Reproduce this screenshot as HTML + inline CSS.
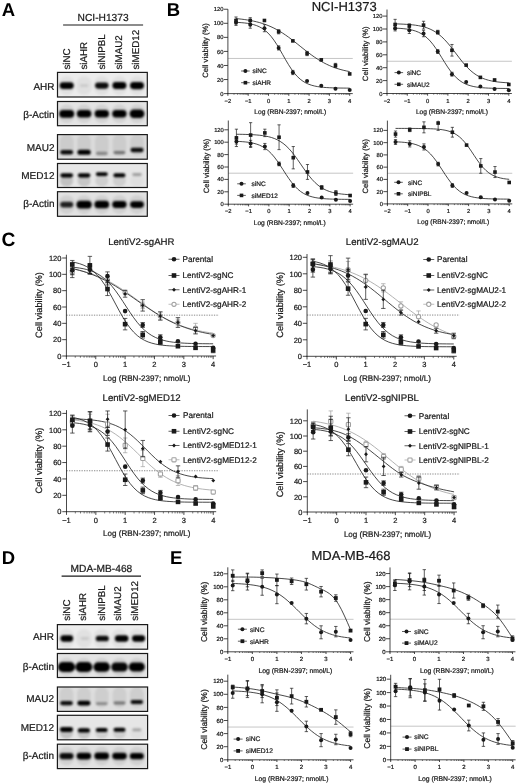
<!DOCTYPE html>
<html lang="en"><head><meta charset="utf-8"><title>Figure</title>
<style>
html,body{margin:0;padding:0;background:#fff;}
body{width:520px;height:784px;overflow:hidden;font-family:"Liberation Sans", sans-serif;}
svg{display:block;filter:blur(0.35px);font-family:"Liberation Sans", sans-serif;text-rendering:geometricPrecision;}
.t{stroke-width:.22px}
.b{stroke:none;font-weight:bold;fill:#000}
.m{stroke:none}
.c{fill:none}
.o{fill:#fff;stroke-width:1.05px}
</style></head><body>
<svg width="520" height="784" viewBox="0 0 520 784">
<defs>
<filter id="b1" x="-20%" y="-50%" width="140%" height="200%"><feGaussianBlur stdDeviation="1.3"/></filter>
<filter id="b2" x="-20%" y="-50%" width="140%" height="200%"><feGaussianBlur stdDeviation="1.0"/></filter>
</defs>
<rect width="520" height="784" fill="#fff"/>
<g fill="#1a1a1a" stroke="#1a1a1a" stroke-width="0.8">
<text class="b" x="1.7" y="16" font-size="18.5">A</text>
<text class="b" x="166.7" y="16" font-size="18.5">B</text>
<text class="b" x="1.5" y="246.3" font-size="19.2">C</text>
<text class="b" x="1.7" y="563.6" font-size="18.5">D</text>
<text class="b" x="170" y="563.6" font-size="18.5">E</text>
<text class="t" x="344.2" y="11.2" font-size="13" text-anchor="middle">NCI-H1373</text>
<text class="t" x="351" y="560" font-size="13.05" text-anchor="middle">MDA-MB-468</text>
<g>
<line x1="227.9" y1="58.45" x2="352.75" y2="58.45" stroke="#8a8a8a" stroke-width="0.5"/>
<path class="c" d="M236.02 22.32L238.93 22.48L241.85 22.69L244.76 22.98L247.68 23.37L250.59 23.9L253.51 24.6L256.42 25.54L259.34 26.78L262.25 28.4L265.17 30.48L268.08 33.1L271 36.31L273.91 40.15L276.83 44.56L279.74 49.42L282.66 54.54L285.57 59.69L288.49 64.62L291.4 69.13L294.32 73.08L297.23 76.41L300.15 79.14L303.06 81.31L305.98 83.01L308.89 84.32L311.81 85.31L314.72 86.06L317.64 86.61L320.55 87.03L323.47 87.33L326.38 87.56L329.3 87.72L332.21 87.84L335.13 87.93L338.04 88L340.96 88.05L343.87 88.08L346.79 88.11L349.7 88.13"/>
<path class="c" d="M236.02 18.59L238.93 18.87L241.85 19.2L244.76 19.58L247.68 20.02L250.59 20.52L253.51 21.1L256.42 21.77L259.34 22.53L262.25 23.4L265.17 24.38L268.08 25.49L271 26.74L273.91 28.12L276.83 29.64L279.74 31.31L282.66 33.12L285.57 35.06L288.49 37.13L291.4 39.3L294.32 41.55L297.23 43.85L300.15 46.19L303.06 48.52L305.98 50.82L308.89 53.06L311.81 55.21L314.72 57.26L317.64 59.19L320.55 60.98L323.47 62.63L326.38 64.13L329.3 65.49L332.21 66.72L335.13 67.81L338.04 68.77L340.96 69.63L343.87 70.38L346.79 71.03L349.7 71.6"/>
<line x1="236.02" y1="25.41" x2="236.02" y2="19.78" stroke-width="0.7"/>
<line x1="234.42" y1="19.78" x2="237.62" y2="19.78" stroke-width="0.7"/>
<line x1="234.42" y1="25.41" x2="237.62" y2="25.41" stroke-width="0.7"/>
<line x1="250.23" y1="28.22" x2="250.23" y2="21.19" stroke-width="0.7"/>
<line x1="248.63" y1="21.19" x2="251.83" y2="21.19" stroke-width="0.7"/>
<line x1="248.63" y1="28.22" x2="251.83" y2="28.22" stroke-width="0.7"/>
<line x1="264.44" y1="31.74" x2="264.44" y2="24.71" stroke-width="0.7"/>
<line x1="262.84" y1="24.71" x2="266.04" y2="24.71" stroke-width="0.7"/>
<line x1="262.84" y1="31.74" x2="266.04" y2="31.74" stroke-width="0.7"/>
<line x1="278.65" y1="50.01" x2="278.65" y2="45.8" stroke-width="0.7"/>
<line x1="277.05" y1="45.8" x2="280.25" y2="45.8" stroke-width="0.7"/>
<line x1="277.05" y1="50.01" x2="280.25" y2="50.01" stroke-width="0.7"/>
<line x1="292.86" y1="74.62" x2="292.86" y2="70.4" stroke-width="0.7"/>
<line x1="291.26" y1="70.4" x2="294.46" y2="70.4" stroke-width="0.7"/>
<line x1="291.26" y1="74.62" x2="294.46" y2="74.62" stroke-width="0.7"/>
<circle class="m" cx="236.02" cy="22.6" r="2"/>
<circle class="m" cx="250.23" cy="24.71" r="2"/>
<circle class="m" cx="264.44" cy="28.22" r="2"/>
<circle class="m" cx="278.65" cy="47.9" r="2"/>
<circle class="m" cx="292.86" cy="72.51" r="2"/>
<circle class="m" cx="307.07" cy="80.95" r="2"/>
<circle class="m" cx="321.28" cy="85.87" r="2"/>
<circle class="m" cx="335.49" cy="88.68" r="2"/>
<circle class="m" cx="349.7" cy="90.08" r="2"/>
<line x1="236.02" y1="24" x2="236.02" y2="16.97" stroke-width="0.7"/>
<line x1="234.42" y1="16.97" x2="237.62" y2="16.97" stroke-width="0.7"/>
<line x1="234.42" y1="24" x2="237.62" y2="24" stroke-width="0.7"/>
<line x1="250.23" y1="23.3" x2="250.23" y2="17.68" stroke-width="0.7"/>
<line x1="248.63" y1="17.68" x2="251.83" y2="17.68" stroke-width="0.7"/>
<line x1="248.63" y1="23.3" x2="251.83" y2="23.3" stroke-width="0.7"/>
<line x1="278.65" y1="33.84" x2="278.65" y2="29.63" stroke-width="0.7"/>
<line x1="277.05" y1="29.63" x2="280.25" y2="29.63" stroke-width="0.7"/>
<line x1="277.05" y1="33.84" x2="280.25" y2="33.84" stroke-width="0.7"/>
<line x1="307.07" y1="55.64" x2="307.07" y2="51.42" stroke-width="0.7"/>
<line x1="305.47" y1="51.42" x2="308.67" y2="51.42" stroke-width="0.7"/>
<line x1="305.47" y1="55.64" x2="308.67" y2="55.64" stroke-width="0.7"/>
<line x1="335.49" y1="67.59" x2="335.49" y2="63.37" stroke-width="0.7"/>
<line x1="333.89" y1="63.37" x2="337.09" y2="63.37" stroke-width="0.7"/>
<line x1="333.89" y1="67.59" x2="337.09" y2="67.59" stroke-width="0.7"/>
<rect class="m" x="234.22" y="18.69" width="3.6" height="3.6"/>
<rect class="m" x="248.43" y="18.69" width="3.6" height="3.6"/>
<rect class="m" x="262.64" y="18.69" width="3.6" height="3.6"/>
<rect class="m" x="276.85" y="29.94" width="3.6" height="3.6"/>
<rect class="m" x="291.06" y="39.08" width="3.6" height="3.6"/>
<rect class="m" x="305.27" y="51.73" width="3.6" height="3.6"/>
<rect class="m" x="319.48" y="58.06" width="3.6" height="3.6"/>
<rect class="m" x="333.69" y="63.68" width="3.6" height="3.6"/>
<rect class="m" x="347.9" y="72.12" width="3.6" height="3.6"/>
<line x1="227.9" y1="9.24" x2="227.9" y2="94"/>
<line x1="227.5" y1="93.6" x2="352.75" y2="93.6"/>
<line x1="223.9" y1="93.6" x2="227.9" y2="93.6"/>
<text class="t" x="223.4" y="95.69" font-size="5.8" text-anchor="end">0</text>
<line x1="223.9" y1="79.54" x2="227.9" y2="79.54"/>
<text class="t" x="223.4" y="81.63" font-size="5.8" text-anchor="end">20</text>
<line x1="223.9" y1="65.48" x2="227.9" y2="65.48"/>
<text class="t" x="223.4" y="67.57" font-size="5.8" text-anchor="end">40</text>
<line x1="223.9" y1="51.42" x2="227.9" y2="51.42"/>
<text class="t" x="223.4" y="53.51" font-size="5.8" text-anchor="end">60</text>
<line x1="223.9" y1="37.36" x2="227.9" y2="37.36"/>
<text class="t" x="223.4" y="39.45" font-size="5.8" text-anchor="end">80</text>
<line x1="223.9" y1="23.3" x2="227.9" y2="23.3"/>
<text class="t" x="223.4" y="25.39" font-size="5.8" text-anchor="end">100</text>
<line x1="223.9" y1="9.24" x2="227.9" y2="9.24"/>
<text class="t" x="223.4" y="11.33" font-size="5.8" text-anchor="end">120</text>
<line x1="227.9" y1="93.6" x2="227.9" y2="95.8"/>
<text class="t" x="227.9" y="102.8" font-size="5.8" text-anchor="middle">−2</text>
<line x1="234.01" y1="93.6" x2="234.01" y2="94.81" stroke-width="0.56"/>
<line x1="237.59" y1="93.6" x2="237.59" y2="94.81" stroke-width="0.56"/>
<line x1="240.12" y1="93.6" x2="240.12" y2="94.81" stroke-width="0.56"/>
<line x1="242.09" y1="93.6" x2="242.09" y2="94.81" stroke-width="0.56"/>
<line x1="243.7" y1="93.6" x2="243.7" y2="94.81" stroke-width="0.56"/>
<line x1="245.06" y1="93.6" x2="245.06" y2="94.81" stroke-width="0.56"/>
<line x1="246.23" y1="93.6" x2="246.23" y2="94.81" stroke-width="0.56"/>
<line x1="247.27" y1="93.6" x2="247.27" y2="94.81" stroke-width="0.56"/>
<line x1="248.2" y1="93.6" x2="248.2" y2="95.8"/>
<text class="t" x="248.2" y="102.8" font-size="5.8" text-anchor="middle">−1</text>
<line x1="254.31" y1="93.6" x2="254.31" y2="94.81" stroke-width="0.56"/>
<line x1="257.89" y1="93.6" x2="257.89" y2="94.81" stroke-width="0.56"/>
<line x1="260.42" y1="93.6" x2="260.42" y2="94.81" stroke-width="0.56"/>
<line x1="262.39" y1="93.6" x2="262.39" y2="94.81" stroke-width="0.56"/>
<line x1="264" y1="93.6" x2="264" y2="94.81" stroke-width="0.56"/>
<line x1="265.36" y1="93.6" x2="265.36" y2="94.81" stroke-width="0.56"/>
<line x1="266.53" y1="93.6" x2="266.53" y2="94.81" stroke-width="0.56"/>
<line x1="267.57" y1="93.6" x2="267.57" y2="94.81" stroke-width="0.56"/>
<line x1="268.5" y1="93.6" x2="268.5" y2="95.8"/>
<text class="t" x="268.5" y="102.8" font-size="5.8" text-anchor="middle">0</text>
<line x1="274.61" y1="93.6" x2="274.61" y2="94.81" stroke-width="0.56"/>
<line x1="278.19" y1="93.6" x2="278.19" y2="94.81" stroke-width="0.56"/>
<line x1="280.72" y1="93.6" x2="280.72" y2="94.81" stroke-width="0.56"/>
<line x1="282.69" y1="93.6" x2="282.69" y2="94.81" stroke-width="0.56"/>
<line x1="284.3" y1="93.6" x2="284.3" y2="94.81" stroke-width="0.56"/>
<line x1="285.66" y1="93.6" x2="285.66" y2="94.81" stroke-width="0.56"/>
<line x1="286.83" y1="93.6" x2="286.83" y2="94.81" stroke-width="0.56"/>
<line x1="287.87" y1="93.6" x2="287.87" y2="94.81" stroke-width="0.56"/>
<line x1="288.8" y1="93.6" x2="288.8" y2="95.8"/>
<text class="t" x="288.8" y="102.8" font-size="5.8" text-anchor="middle">1</text>
<line x1="294.91" y1="93.6" x2="294.91" y2="94.81" stroke-width="0.56"/>
<line x1="298.49" y1="93.6" x2="298.49" y2="94.81" stroke-width="0.56"/>
<line x1="301.02" y1="93.6" x2="301.02" y2="94.81" stroke-width="0.56"/>
<line x1="302.99" y1="93.6" x2="302.99" y2="94.81" stroke-width="0.56"/>
<line x1="304.6" y1="93.6" x2="304.6" y2="94.81" stroke-width="0.56"/>
<line x1="305.96" y1="93.6" x2="305.96" y2="94.81" stroke-width="0.56"/>
<line x1="307.13" y1="93.6" x2="307.13" y2="94.81" stroke-width="0.56"/>
<line x1="308.17" y1="93.6" x2="308.17" y2="94.81" stroke-width="0.56"/>
<line x1="309.1" y1="93.6" x2="309.1" y2="95.8"/>
<text class="t" x="309.1" y="102.8" font-size="5.8" text-anchor="middle">2</text>
<line x1="315.21" y1="93.6" x2="315.21" y2="94.81" stroke-width="0.56"/>
<line x1="318.79" y1="93.6" x2="318.79" y2="94.81" stroke-width="0.56"/>
<line x1="321.32" y1="93.6" x2="321.32" y2="94.81" stroke-width="0.56"/>
<line x1="323.29" y1="93.6" x2="323.29" y2="94.81" stroke-width="0.56"/>
<line x1="324.9" y1="93.6" x2="324.9" y2="94.81" stroke-width="0.56"/>
<line x1="326.26" y1="93.6" x2="326.26" y2="94.81" stroke-width="0.56"/>
<line x1="327.43" y1="93.6" x2="327.43" y2="94.81" stroke-width="0.56"/>
<line x1="328.47" y1="93.6" x2="328.47" y2="94.81" stroke-width="0.56"/>
<line x1="329.4" y1="93.6" x2="329.4" y2="95.8"/>
<text class="t" x="329.4" y="102.8" font-size="5.8" text-anchor="middle">3</text>
<line x1="335.51" y1="93.6" x2="335.51" y2="94.81" stroke-width="0.56"/>
<line x1="339.09" y1="93.6" x2="339.09" y2="94.81" stroke-width="0.56"/>
<line x1="341.62" y1="93.6" x2="341.62" y2="94.81" stroke-width="0.56"/>
<line x1="343.59" y1="93.6" x2="343.59" y2="94.81" stroke-width="0.56"/>
<line x1="345.2" y1="93.6" x2="345.2" y2="94.81" stroke-width="0.56"/>
<line x1="346.56" y1="93.6" x2="346.56" y2="94.81" stroke-width="0.56"/>
<line x1="347.73" y1="93.6" x2="347.73" y2="94.81" stroke-width="0.56"/>
<line x1="348.77" y1="93.6" x2="348.77" y2="94.81" stroke-width="0.56"/>
<line x1="349.7" y1="93.6" x2="349.7" y2="95.8"/>
<text class="t" x="349.7" y="102.8" font-size="5.8" text-anchor="middle">4</text>
<text class="t" x="208.5" y="50.42" font-size="7.7" text-anchor="middle" transform="rotate(-90 208.5 50.42)">Cell viability (%)</text>
<text class="t" x="290.3" y="113.9" font-size="6.65" text-anchor="middle">Log (RBN-2397; nmol/L)</text>
<line x1="241.1" y1="71" x2="249.7" y2="71" stroke-width="0.7"/>
<circle class="m" cx="245.4" cy="71" r="2"/>
<text class="t" x="252.5" y="73.31" font-size="6.5">siNC</text>
<line x1="241.1" y1="82.7" x2="249.7" y2="82.7" stroke-width="0.7"/>
<rect class="m" x="243.6" y="80.9" width="3.6" height="3.6"/>
<text class="t" x="252.5" y="85.01" font-size="6.5">siAHR</text>
</g>
<g>
<line x1="387" y1="61.25" x2="511.85" y2="61.25" stroke="#8a8a8a" stroke-width="0.5"/>
<path class="c" d="M395.12 28.1L398.03 28.25L400.95 28.44L403.86 28.71L406.78 29.07L409.69 29.55L412.61 30.2L415.52 31.06L418.44 32.2L421.35 33.68L424.27 35.59L427.18 37.99L430.1 40.94L433.01 44.46L435.93 48.5L438.84 52.96L441.76 57.67L444.67 62.39L447.59 66.91L450.5 71.05L453.42 74.67L456.33 77.73L459.25 80.23L462.16 82.23L465.08 83.79L467.99 84.98L470.91 85.89L473.82 86.58L476.74 87.09L479.65 87.47L482.57 87.75L485.48 87.95L488.4 88.11L491.31 88.22L494.23 88.3L497.14 88.36L500.06 88.41L502.97 88.44L505.89 88.46L508.8 88.48"/>
<path class="c" d="M395.12 23.87L398.03 23.95L400.95 24.05L403.86 24.19L406.78 24.36L409.69 24.57L412.61 24.85L415.52 25.21L418.44 25.67L421.35 26.26L424.27 27L427.18 27.93L430.1 29.09L433.01 30.52L435.93 32.27L438.84 34.36L441.76 36.84L444.67 39.69L447.59 42.91L450.5 46.43L453.42 50.17L456.33 54.02L459.25 57.86L462.16 61.55L465.08 64.99L467.99 68.11L470.91 70.86L473.82 73.23L476.74 75.23L479.65 76.89L482.57 78.24L485.48 79.33L488.4 80.2L491.31 80.9L494.23 81.45L497.14 81.88L500.06 82.21L502.97 82.47L505.89 82.68L508.8 82.84"/>
<line x1="395.12" y1="30.93" x2="395.12" y2="25.77" stroke-width="0.7"/>
<line x1="393.52" y1="25.77" x2="396.72" y2="25.77" stroke-width="0.7"/>
<line x1="393.52" y1="30.93" x2="396.72" y2="30.93" stroke-width="0.7"/>
<line x1="409.33" y1="33.52" x2="409.33" y2="27.06" stroke-width="0.7"/>
<line x1="407.73" y1="27.06" x2="410.93" y2="27.06" stroke-width="0.7"/>
<line x1="407.73" y1="33.52" x2="410.93" y2="33.52" stroke-width="0.7"/>
<line x1="423.54" y1="36.74" x2="423.54" y2="30.29" stroke-width="0.7"/>
<line x1="421.94" y1="30.29" x2="425.14" y2="30.29" stroke-width="0.7"/>
<line x1="421.94" y1="36.74" x2="425.14" y2="36.74" stroke-width="0.7"/>
<line x1="437.75" y1="53.51" x2="437.75" y2="49.64" stroke-width="0.7"/>
<line x1="436.15" y1="49.64" x2="439.35" y2="49.64" stroke-width="0.7"/>
<line x1="436.15" y1="53.51" x2="439.35" y2="53.51" stroke-width="0.7"/>
<line x1="451.96" y1="76.09" x2="451.96" y2="72.22" stroke-width="0.7"/>
<line x1="450.36" y1="72.22" x2="453.56" y2="72.22" stroke-width="0.7"/>
<line x1="450.36" y1="76.09" x2="453.56" y2="76.09" stroke-width="0.7"/>
<circle class="m" cx="395.12" cy="28.36" r="2"/>
<circle class="m" cx="409.33" cy="30.29" r="2"/>
<circle class="m" cx="423.54" cy="33.52" r="2"/>
<circle class="m" cx="437.75" cy="51.57" r="2"/>
<circle class="m" cx="451.96" cy="74.15" r="2"/>
<circle class="m" cx="466.17" cy="81.89" r="2"/>
<circle class="m" cx="480.38" cy="86.41" r="2"/>
<circle class="m" cx="494.59" cy="88.98" r="2"/>
<circle class="m" cx="508.8" cy="90.28" r="2"/>
<line x1="395.12" y1="29.64" x2="395.12" y2="19.33" stroke-width="0.7"/>
<line x1="393.52" y1="19.33" x2="396.72" y2="19.33" stroke-width="0.7"/>
<line x1="393.52" y1="29.64" x2="396.72" y2="29.64" stroke-width="0.7"/>
<line x1="409.33" y1="27.71" x2="409.33" y2="23.84" stroke-width="0.7"/>
<line x1="407.73" y1="23.84" x2="410.93" y2="23.84" stroke-width="0.7"/>
<line x1="407.73" y1="27.71" x2="410.93" y2="27.71" stroke-width="0.7"/>
<line x1="423.54" y1="29" x2="423.54" y2="21.26" stroke-width="0.7"/>
<line x1="421.94" y1="21.26" x2="425.14" y2="21.26" stroke-width="0.7"/>
<line x1="421.94" y1="29" x2="425.14" y2="29" stroke-width="0.7"/>
<line x1="437.75" y1="34.16" x2="437.75" y2="30.29" stroke-width="0.7"/>
<line x1="436.15" y1="30.29" x2="439.35" y2="30.29" stroke-width="0.7"/>
<line x1="436.15" y1="34.16" x2="439.35" y2="34.16" stroke-width="0.7"/>
<line x1="451.96" y1="56.09" x2="451.96" y2="44.48" stroke-width="0.7"/>
<line x1="450.36" y1="44.48" x2="453.56" y2="44.48" stroke-width="0.7"/>
<line x1="450.36" y1="56.09" x2="453.56" y2="56.09" stroke-width="0.7"/>
<rect class="m" x="393.32" y="22.68" width="3.6" height="3.6"/>
<rect class="m" x="407.53" y="23.97" width="3.6" height="3.6"/>
<rect class="m" x="421.74" y="23.33" width="3.6" height="3.6"/>
<rect class="m" x="435.95" y="30.43" width="3.6" height="3.6"/>
<rect class="m" x="450.16" y="48.48" width="3.6" height="3.6"/>
<rect class="m" x="464.37" y="63.32" width="3.6" height="3.6"/>
<rect class="m" x="478.58" y="75.58" width="3.6" height="3.6"/>
<rect class="m" x="492.79" y="78.16" width="3.6" height="3.6"/>
<rect class="m" x="507" y="82.67" width="3.6" height="3.6"/>
<line x1="387" y1="9.52" x2="387" y2="93.9"/>
<line x1="386.6" y1="93.5" x2="511.85" y2="93.5"/>
<line x1="383" y1="93.5" x2="387" y2="93.5"/>
<text class="t" x="382.5" y="95.59" font-size="5.8" text-anchor="end">0</text>
<line x1="383" y1="80.6" x2="387" y2="80.6"/>
<text class="t" x="382.5" y="82.69" font-size="5.8" text-anchor="end">20</text>
<line x1="383" y1="67.7" x2="387" y2="67.7"/>
<text class="t" x="382.5" y="69.79" font-size="5.8" text-anchor="end">40</text>
<line x1="383" y1="54.8" x2="387" y2="54.8"/>
<text class="t" x="382.5" y="56.89" font-size="5.8" text-anchor="end">60</text>
<line x1="383" y1="41.9" x2="387" y2="41.9"/>
<text class="t" x="382.5" y="43.99" font-size="5.8" text-anchor="end">80</text>
<line x1="383" y1="29" x2="387" y2="29"/>
<text class="t" x="382.5" y="31.09" font-size="5.8" text-anchor="end">100</text>
<line x1="383" y1="16.1" x2="387" y2="16.1"/>
<text class="t" x="382.5" y="18.19" font-size="5.8" text-anchor="end">120</text>
<line x1="387" y1="93.5" x2="387" y2="95.7"/>
<text class="t" x="387" y="102.7" font-size="5.8" text-anchor="middle">−2</text>
<line x1="393.11" y1="93.5" x2="393.11" y2="94.71" stroke-width="0.56"/>
<line x1="396.69" y1="93.5" x2="396.69" y2="94.71" stroke-width="0.56"/>
<line x1="399.22" y1="93.5" x2="399.22" y2="94.71" stroke-width="0.56"/>
<line x1="401.19" y1="93.5" x2="401.19" y2="94.71" stroke-width="0.56"/>
<line x1="402.8" y1="93.5" x2="402.8" y2="94.71" stroke-width="0.56"/>
<line x1="404.16" y1="93.5" x2="404.16" y2="94.71" stroke-width="0.56"/>
<line x1="405.33" y1="93.5" x2="405.33" y2="94.71" stroke-width="0.56"/>
<line x1="406.37" y1="93.5" x2="406.37" y2="94.71" stroke-width="0.56"/>
<line x1="407.3" y1="93.5" x2="407.3" y2="95.7"/>
<text class="t" x="407.3" y="102.7" font-size="5.8" text-anchor="middle">−1</text>
<line x1="413.41" y1="93.5" x2="413.41" y2="94.71" stroke-width="0.56"/>
<line x1="416.99" y1="93.5" x2="416.99" y2="94.71" stroke-width="0.56"/>
<line x1="419.52" y1="93.5" x2="419.52" y2="94.71" stroke-width="0.56"/>
<line x1="421.49" y1="93.5" x2="421.49" y2="94.71" stroke-width="0.56"/>
<line x1="423.1" y1="93.5" x2="423.1" y2="94.71" stroke-width="0.56"/>
<line x1="424.46" y1="93.5" x2="424.46" y2="94.71" stroke-width="0.56"/>
<line x1="425.63" y1="93.5" x2="425.63" y2="94.71" stroke-width="0.56"/>
<line x1="426.67" y1="93.5" x2="426.67" y2="94.71" stroke-width="0.56"/>
<line x1="427.6" y1="93.5" x2="427.6" y2="95.7"/>
<text class="t" x="427.6" y="102.7" font-size="5.8" text-anchor="middle">0</text>
<line x1="433.71" y1="93.5" x2="433.71" y2="94.71" stroke-width="0.56"/>
<line x1="437.29" y1="93.5" x2="437.29" y2="94.71" stroke-width="0.56"/>
<line x1="439.82" y1="93.5" x2="439.82" y2="94.71" stroke-width="0.56"/>
<line x1="441.79" y1="93.5" x2="441.79" y2="94.71" stroke-width="0.56"/>
<line x1="443.4" y1="93.5" x2="443.4" y2="94.71" stroke-width="0.56"/>
<line x1="444.76" y1="93.5" x2="444.76" y2="94.71" stroke-width="0.56"/>
<line x1="445.93" y1="93.5" x2="445.93" y2="94.71" stroke-width="0.56"/>
<line x1="446.97" y1="93.5" x2="446.97" y2="94.71" stroke-width="0.56"/>
<line x1="447.9" y1="93.5" x2="447.9" y2="95.7"/>
<text class="t" x="447.9" y="102.7" font-size="5.8" text-anchor="middle">1</text>
<line x1="454.01" y1="93.5" x2="454.01" y2="94.71" stroke-width="0.56"/>
<line x1="457.59" y1="93.5" x2="457.59" y2="94.71" stroke-width="0.56"/>
<line x1="460.12" y1="93.5" x2="460.12" y2="94.71" stroke-width="0.56"/>
<line x1="462.09" y1="93.5" x2="462.09" y2="94.71" stroke-width="0.56"/>
<line x1="463.7" y1="93.5" x2="463.7" y2="94.71" stroke-width="0.56"/>
<line x1="465.06" y1="93.5" x2="465.06" y2="94.71" stroke-width="0.56"/>
<line x1="466.23" y1="93.5" x2="466.23" y2="94.71" stroke-width="0.56"/>
<line x1="467.27" y1="93.5" x2="467.27" y2="94.71" stroke-width="0.56"/>
<line x1="468.2" y1="93.5" x2="468.2" y2="95.7"/>
<text class="t" x="468.2" y="102.7" font-size="5.8" text-anchor="middle">2</text>
<line x1="474.31" y1="93.5" x2="474.31" y2="94.71" stroke-width="0.56"/>
<line x1="477.89" y1="93.5" x2="477.89" y2="94.71" stroke-width="0.56"/>
<line x1="480.42" y1="93.5" x2="480.42" y2="94.71" stroke-width="0.56"/>
<line x1="482.39" y1="93.5" x2="482.39" y2="94.71" stroke-width="0.56"/>
<line x1="484" y1="93.5" x2="484" y2="94.71" stroke-width="0.56"/>
<line x1="485.36" y1="93.5" x2="485.36" y2="94.71" stroke-width="0.56"/>
<line x1="486.53" y1="93.5" x2="486.53" y2="94.71" stroke-width="0.56"/>
<line x1="487.57" y1="93.5" x2="487.57" y2="94.71" stroke-width="0.56"/>
<line x1="488.5" y1="93.5" x2="488.5" y2="95.7"/>
<text class="t" x="488.5" y="102.7" font-size="5.8" text-anchor="middle">3</text>
<line x1="494.61" y1="93.5" x2="494.61" y2="94.71" stroke-width="0.56"/>
<line x1="498.19" y1="93.5" x2="498.19" y2="94.71" stroke-width="0.56"/>
<line x1="500.72" y1="93.5" x2="500.72" y2="94.71" stroke-width="0.56"/>
<line x1="502.69" y1="93.5" x2="502.69" y2="94.71" stroke-width="0.56"/>
<line x1="504.3" y1="93.5" x2="504.3" y2="94.71" stroke-width="0.56"/>
<line x1="505.66" y1="93.5" x2="505.66" y2="94.71" stroke-width="0.56"/>
<line x1="506.83" y1="93.5" x2="506.83" y2="94.71" stroke-width="0.56"/>
<line x1="507.87" y1="93.5" x2="507.87" y2="94.71" stroke-width="0.56"/>
<line x1="508.8" y1="93.5" x2="508.8" y2="95.7"/>
<text class="t" x="508.8" y="102.7" font-size="5.8" text-anchor="middle">4</text>
<text class="t" x="367.6" y="53.8" font-size="7.7" text-anchor="middle" transform="rotate(-90 367.6 53.8)">Cell viability (%)</text>
<text class="t" x="451.9" y="113.8" font-size="6.65" text-anchor="middle">Log (RBN-2397; nmol/L)</text>
<line x1="394.5" y1="72.6" x2="403.1" y2="72.6" stroke-width="0.7"/>
<circle class="m" cx="398.8" cy="72.6" r="2"/>
<text class="t" x="406.9" y="74.91" font-size="6.5">siNC</text>
<line x1="394.5" y1="84.3" x2="403.1" y2="84.3" stroke-width="0.7"/>
<rect class="m" x="397" y="82.5" width="3.6" height="3.6"/>
<text class="t" x="406.9" y="86.61" font-size="6.5">siMAU2</text>
</g>
<g>
<line x1="228.3" y1="173.2" x2="353.15" y2="173.2" stroke="#8a8a8a" stroke-width="0.5"/>
<path class="c" d="M236.42 141.34L239.33 141.48L242.25 141.67L245.16 141.92L248.08 142.26L250.99 142.73L253.91 143.35L256.82 144.18L259.74 145.27L262.65 146.7L265.57 148.53L268.48 150.84L271.4 153.68L274.31 157.06L277.23 160.95L280.14 165.24L283.06 169.75L285.97 174.3L288.89 178.64L291.8 182.62L294.72 186.1L297.63 189.04L300.55 191.45L303.46 193.36L306.38 194.86L309.29 196.01L312.21 196.89L315.12 197.55L318.04 198.04L320.95 198.4L323.87 198.67L326.78 198.87L329.7 199.02L332.61 199.12L335.53 199.2L338.44 199.26L341.36 199.3L344.27 199.33L347.19 199.36L350.1 199.37"/>
<path class="c" d="M236.42 134.25L239.33 134.29L242.25 134.34L245.16 134.41L248.08 134.5L250.99 134.62L253.91 134.78L256.82 134.99L259.74 135.26L262.65 135.62L265.57 136.09L268.48 136.7L271.4 137.48L274.31 138.49L277.23 139.76L280.14 141.37L283.06 143.35L285.97 145.76L288.89 148.62L291.8 151.93L294.72 155.65L297.63 159.69L300.55 163.91L303.46 168.17L306.38 172.29L309.29 176.14L312.21 179.61L315.12 182.64L318.04 185.21L320.95 187.35L323.87 189.08L326.78 190.47L329.7 191.57L332.61 192.43L335.53 193.1L338.44 193.61L341.36 194.01L344.27 194.31L347.19 194.54L350.1 194.71"/>
<line x1="236.42" y1="144.06" x2="236.42" y2="139.1" stroke-width="0.7"/>
<line x1="234.82" y1="139.1" x2="238.02" y2="139.1" stroke-width="0.7"/>
<line x1="234.82" y1="144.06" x2="238.02" y2="144.06" stroke-width="0.7"/>
<line x1="250.63" y1="146.54" x2="250.63" y2="140.34" stroke-width="0.7"/>
<line x1="249.03" y1="140.34" x2="252.23" y2="140.34" stroke-width="0.7"/>
<line x1="249.03" y1="146.54" x2="252.23" y2="146.54" stroke-width="0.7"/>
<line x1="264.84" y1="149.64" x2="264.84" y2="143.44" stroke-width="0.7"/>
<line x1="263.24" y1="143.44" x2="266.44" y2="143.44" stroke-width="0.7"/>
<line x1="263.24" y1="149.64" x2="266.44" y2="149.64" stroke-width="0.7"/>
<line x1="279.05" y1="165.76" x2="279.05" y2="162.04" stroke-width="0.7"/>
<line x1="277.45" y1="162.04" x2="280.65" y2="162.04" stroke-width="0.7"/>
<line x1="277.45" y1="165.76" x2="280.65" y2="165.76" stroke-width="0.7"/>
<line x1="293.26" y1="187.46" x2="293.26" y2="183.74" stroke-width="0.7"/>
<line x1="291.66" y1="183.74" x2="294.86" y2="183.74" stroke-width="0.7"/>
<line x1="291.66" y1="187.46" x2="294.86" y2="187.46" stroke-width="0.7"/>
<circle class="m" cx="236.42" cy="141.58" r="2"/>
<circle class="m" cx="250.63" cy="143.44" r="2"/>
<circle class="m" cx="264.84" cy="146.54" r="2"/>
<circle class="m" cx="279.05" cy="163.9" r="2"/>
<circle class="m" cx="293.26" cy="185.6" r="2"/>
<circle class="m" cx="307.47" cy="193.04" r="2"/>
<circle class="m" cx="321.68" cy="197.38" r="2"/>
<circle class="m" cx="335.89" cy="199.86" r="2"/>
<circle class="m" cx="350.1" cy="201.1" r="2"/>
<line x1="236.42" y1="146.54" x2="236.42" y2="129.18" stroke-width="0.7"/>
<line x1="234.82" y1="129.18" x2="238.02" y2="129.18" stroke-width="0.7"/>
<line x1="234.82" y1="146.54" x2="238.02" y2="146.54" stroke-width="0.7"/>
<line x1="250.63" y1="147.47" x2="250.63" y2="122.67" stroke-width="0.7"/>
<line x1="249.03" y1="122.67" x2="252.23" y2="122.67" stroke-width="0.7"/>
<line x1="249.03" y1="147.47" x2="252.23" y2="147.47" stroke-width="0.7"/>
<line x1="264.84" y1="136.62" x2="264.84" y2="129.18" stroke-width="0.7"/>
<line x1="263.24" y1="129.18" x2="266.44" y2="129.18" stroke-width="0.7"/>
<line x1="263.24" y1="136.62" x2="266.44" y2="136.62" stroke-width="0.7"/>
<line x1="279.05" y1="149.64" x2="279.05" y2="124.84" stroke-width="0.7"/>
<line x1="277.45" y1="124.84" x2="280.65" y2="124.84" stroke-width="0.7"/>
<line x1="277.45" y1="149.64" x2="280.65" y2="149.64" stroke-width="0.7"/>
<line x1="293.26" y1="168.86" x2="293.26" y2="146.54" stroke-width="0.7"/>
<line x1="291.66" y1="146.54" x2="294.86" y2="146.54" stroke-width="0.7"/>
<line x1="291.66" y1="168.86" x2="294.86" y2="168.86" stroke-width="0.7"/>
<line x1="307.47" y1="179.4" x2="307.47" y2="164.52" stroke-width="0.7"/>
<line x1="305.87" y1="164.52" x2="309.07" y2="164.52" stroke-width="0.7"/>
<line x1="305.87" y1="179.4" x2="309.07" y2="179.4" stroke-width="0.7"/>
<line x1="321.68" y1="189.32" x2="321.68" y2="185.6" stroke-width="0.7"/>
<line x1="320.08" y1="185.6" x2="323.28" y2="185.6" stroke-width="0.7"/>
<line x1="320.08" y1="189.32" x2="323.28" y2="189.32" stroke-width="0.7"/>
<line x1="335.89" y1="195.52" x2="335.89" y2="190.56" stroke-width="0.7"/>
<line x1="334.29" y1="190.56" x2="337.49" y2="190.56" stroke-width="0.7"/>
<line x1="334.29" y1="195.52" x2="337.49" y2="195.52" stroke-width="0.7"/>
<rect class="m" x="234.62" y="136.06" width="3.6" height="3.6"/>
<rect class="m" x="248.83" y="133.27" width="3.6" height="3.6"/>
<rect class="m" x="263.04" y="131.1" width="3.6" height="3.6"/>
<rect class="m" x="277.25" y="135.44" width="3.6" height="3.6"/>
<rect class="m" x="291.46" y="155.9" width="3.6" height="3.6"/>
<rect class="m" x="305.67" y="170.16" width="3.6" height="3.6"/>
<rect class="m" x="319.88" y="185.66" width="3.6" height="3.6"/>
<rect class="m" x="334.09" y="191.24" width="3.6" height="3.6"/>
<rect class="m" x="348.3" y="193.72" width="3.6" height="3.6"/>
<line x1="228.3" y1="120.5" x2="228.3" y2="204.6"/>
<line x1="227.9" y1="204.2" x2="353.15" y2="204.2"/>
<line x1="224.3" y1="204.2" x2="228.3" y2="204.2"/>
<text class="t" x="223.8" y="206.29" font-size="5.8" text-anchor="end">0</text>
<line x1="224.3" y1="191.8" x2="228.3" y2="191.8"/>
<text class="t" x="223.8" y="193.89" font-size="5.8" text-anchor="end">20</text>
<line x1="224.3" y1="179.4" x2="228.3" y2="179.4"/>
<text class="t" x="223.8" y="181.49" font-size="5.8" text-anchor="end">40</text>
<line x1="224.3" y1="167" x2="228.3" y2="167"/>
<text class="t" x="223.8" y="169.09" font-size="5.8" text-anchor="end">60</text>
<line x1="224.3" y1="154.6" x2="228.3" y2="154.6"/>
<text class="t" x="223.8" y="156.69" font-size="5.8" text-anchor="end">80</text>
<line x1="224.3" y1="142.2" x2="228.3" y2="142.2"/>
<text class="t" x="223.8" y="144.29" font-size="5.8" text-anchor="end">100</text>
<line x1="224.3" y1="129.8" x2="228.3" y2="129.8"/>
<text class="t" x="223.8" y="131.89" font-size="5.8" text-anchor="end">120</text>
<line x1="228.3" y1="204.2" x2="228.3" y2="206.4"/>
<text class="t" x="228.3" y="213.4" font-size="5.8" text-anchor="middle">−2</text>
<line x1="234.41" y1="204.2" x2="234.41" y2="205.41" stroke-width="0.56"/>
<line x1="237.99" y1="204.2" x2="237.99" y2="205.41" stroke-width="0.56"/>
<line x1="240.52" y1="204.2" x2="240.52" y2="205.41" stroke-width="0.56"/>
<line x1="242.49" y1="204.2" x2="242.49" y2="205.41" stroke-width="0.56"/>
<line x1="244.1" y1="204.2" x2="244.1" y2="205.41" stroke-width="0.56"/>
<line x1="245.46" y1="204.2" x2="245.46" y2="205.41" stroke-width="0.56"/>
<line x1="246.63" y1="204.2" x2="246.63" y2="205.41" stroke-width="0.56"/>
<line x1="247.67" y1="204.2" x2="247.67" y2="205.41" stroke-width="0.56"/>
<line x1="248.6" y1="204.2" x2="248.6" y2="206.4"/>
<text class="t" x="248.6" y="213.4" font-size="5.8" text-anchor="middle">−1</text>
<line x1="254.71" y1="204.2" x2="254.71" y2="205.41" stroke-width="0.56"/>
<line x1="258.29" y1="204.2" x2="258.29" y2="205.41" stroke-width="0.56"/>
<line x1="260.82" y1="204.2" x2="260.82" y2="205.41" stroke-width="0.56"/>
<line x1="262.79" y1="204.2" x2="262.79" y2="205.41" stroke-width="0.56"/>
<line x1="264.4" y1="204.2" x2="264.4" y2="205.41" stroke-width="0.56"/>
<line x1="265.76" y1="204.2" x2="265.76" y2="205.41" stroke-width="0.56"/>
<line x1="266.93" y1="204.2" x2="266.93" y2="205.41" stroke-width="0.56"/>
<line x1="267.97" y1="204.2" x2="267.97" y2="205.41" stroke-width="0.56"/>
<line x1="268.9" y1="204.2" x2="268.9" y2="206.4"/>
<text class="t" x="268.9" y="213.4" font-size="5.8" text-anchor="middle">0</text>
<line x1="275.01" y1="204.2" x2="275.01" y2="205.41" stroke-width="0.56"/>
<line x1="278.59" y1="204.2" x2="278.59" y2="205.41" stroke-width="0.56"/>
<line x1="281.12" y1="204.2" x2="281.12" y2="205.41" stroke-width="0.56"/>
<line x1="283.09" y1="204.2" x2="283.09" y2="205.41" stroke-width="0.56"/>
<line x1="284.7" y1="204.2" x2="284.7" y2="205.41" stroke-width="0.56"/>
<line x1="286.06" y1="204.2" x2="286.06" y2="205.41" stroke-width="0.56"/>
<line x1="287.23" y1="204.2" x2="287.23" y2="205.41" stroke-width="0.56"/>
<line x1="288.27" y1="204.2" x2="288.27" y2="205.41" stroke-width="0.56"/>
<line x1="289.2" y1="204.2" x2="289.2" y2="206.4"/>
<text class="t" x="289.2" y="213.4" font-size="5.8" text-anchor="middle">1</text>
<line x1="295.31" y1="204.2" x2="295.31" y2="205.41" stroke-width="0.56"/>
<line x1="298.89" y1="204.2" x2="298.89" y2="205.41" stroke-width="0.56"/>
<line x1="301.42" y1="204.2" x2="301.42" y2="205.41" stroke-width="0.56"/>
<line x1="303.39" y1="204.2" x2="303.39" y2="205.41" stroke-width="0.56"/>
<line x1="305" y1="204.2" x2="305" y2="205.41" stroke-width="0.56"/>
<line x1="306.36" y1="204.2" x2="306.36" y2="205.41" stroke-width="0.56"/>
<line x1="307.53" y1="204.2" x2="307.53" y2="205.41" stroke-width="0.56"/>
<line x1="308.57" y1="204.2" x2="308.57" y2="205.41" stroke-width="0.56"/>
<line x1="309.5" y1="204.2" x2="309.5" y2="206.4"/>
<text class="t" x="309.5" y="213.4" font-size="5.8" text-anchor="middle">2</text>
<line x1="315.61" y1="204.2" x2="315.61" y2="205.41" stroke-width="0.56"/>
<line x1="319.19" y1="204.2" x2="319.19" y2="205.41" stroke-width="0.56"/>
<line x1="321.72" y1="204.2" x2="321.72" y2="205.41" stroke-width="0.56"/>
<line x1="323.69" y1="204.2" x2="323.69" y2="205.41" stroke-width="0.56"/>
<line x1="325.3" y1="204.2" x2="325.3" y2="205.41" stroke-width="0.56"/>
<line x1="326.66" y1="204.2" x2="326.66" y2="205.41" stroke-width="0.56"/>
<line x1="327.83" y1="204.2" x2="327.83" y2="205.41" stroke-width="0.56"/>
<line x1="328.87" y1="204.2" x2="328.87" y2="205.41" stroke-width="0.56"/>
<line x1="329.8" y1="204.2" x2="329.8" y2="206.4"/>
<text class="t" x="329.8" y="213.4" font-size="5.8" text-anchor="middle">3</text>
<line x1="335.91" y1="204.2" x2="335.91" y2="205.41" stroke-width="0.56"/>
<line x1="339.49" y1="204.2" x2="339.49" y2="205.41" stroke-width="0.56"/>
<line x1="342.02" y1="204.2" x2="342.02" y2="205.41" stroke-width="0.56"/>
<line x1="343.99" y1="204.2" x2="343.99" y2="205.41" stroke-width="0.56"/>
<line x1="345.6" y1="204.2" x2="345.6" y2="205.41" stroke-width="0.56"/>
<line x1="346.96" y1="204.2" x2="346.96" y2="205.41" stroke-width="0.56"/>
<line x1="348.13" y1="204.2" x2="348.13" y2="205.41" stroke-width="0.56"/>
<line x1="349.17" y1="204.2" x2="349.17" y2="205.41" stroke-width="0.56"/>
<line x1="350.1" y1="204.2" x2="350.1" y2="206.4"/>
<text class="t" x="350.1" y="213.4" font-size="5.8" text-anchor="middle">4</text>
<text class="t" x="208.9" y="166" font-size="7.7" text-anchor="middle" transform="rotate(-90 208.9 166)">Cell viability (%)</text>
<text class="t" x="289.7" y="224.5" font-size="6.65" text-anchor="middle">Log (RBN-2397; nmol/L)</text>
<line x1="237.2" y1="183.8" x2="245.8" y2="183.8" stroke-width="0.7"/>
<circle class="m" cx="241.5" cy="183.8" r="2"/>
<text class="t" x="251.5" y="186.11" font-size="6.5">siNC</text>
<line x1="237.2" y1="195.4" x2="245.8" y2="195.4" stroke-width="0.7"/>
<rect class="m" x="239.7" y="193.6" width="3.6" height="3.6"/>
<text class="t" x="251.5" y="197.71" font-size="6.5">siMED12</text>
</g>
<g>
<line x1="387.4" y1="173.28" x2="512.25" y2="173.28" stroke="#8a8a8a" stroke-width="0.5"/>
<path class="c" d="M395.52 141.8L398.43 141.94L401.35 142.12L404.26 142.37L407.18 142.71L410.09 143.17L413.01 143.79L415.92 144.6L418.84 145.69L421.75 147.09L424.67 148.91L427.58 151.19L430.5 153.99L433.41 157.33L436.33 161.17L439.24 165.41L442.16 169.87L445.07 174.36L447.99 178.65L450.9 182.58L453.82 186.02L456.73 188.92L459.65 191.3L462.56 193.2L465.48 194.68L468.39 195.81L471.31 196.68L474.22 197.33L477.14 197.81L480.05 198.17L482.97 198.44L485.88 198.63L488.8 198.78L491.71 198.89L494.63 198.96L497.54 199.02L500.46 199.06L503.37 199.09L506.29 199.12L509.2 199.13"/>
<path class="c" d="M395.52 128.41L398.43 128.41L401.35 128.41L404.26 128.42L407.18 128.42L410.09 128.43L413.01 128.45L415.92 128.46L418.84 128.49L421.75 128.52L424.67 128.57L427.58 128.64L430.5 128.74L433.41 128.88L436.33 129.07L439.24 129.33L442.16 129.7L445.07 130.21L447.99 130.91L450.9 131.87L453.82 133.15L456.73 134.85L459.65 137.04L462.56 139.78L465.48 143.1L468.39 146.94L471.31 151.17L474.22 155.57L477.14 159.89L480.05 163.91L482.97 167.44L485.88 170.42L488.8 172.82L491.71 174.71L494.63 176.14L497.54 177.22L500.46 178.01L503.37 178.6L506.29 179.02L509.2 179.32"/>
<line x1="395.52" y1="144.49" x2="395.52" y2="139.59" stroke-width="0.7"/>
<line x1="393.92" y1="139.59" x2="397.12" y2="139.59" stroke-width="0.7"/>
<line x1="393.92" y1="144.49" x2="397.12" y2="144.49" stroke-width="0.7"/>
<line x1="409.73" y1="146.94" x2="409.73" y2="140.81" stroke-width="0.7"/>
<line x1="408.13" y1="140.81" x2="411.33" y2="140.81" stroke-width="0.7"/>
<line x1="408.13" y1="146.94" x2="411.33" y2="146.94" stroke-width="0.7"/>
<line x1="423.94" y1="150" x2="423.94" y2="143.88" stroke-width="0.7"/>
<line x1="422.34" y1="143.88" x2="425.54" y2="143.88" stroke-width="0.7"/>
<line x1="422.34" y1="150" x2="425.54" y2="150" stroke-width="0.7"/>
<line x1="438.15" y1="165.93" x2="438.15" y2="162.25" stroke-width="0.7"/>
<line x1="436.55" y1="162.25" x2="439.75" y2="162.25" stroke-width="0.7"/>
<line x1="436.55" y1="165.93" x2="439.75" y2="165.93" stroke-width="0.7"/>
<line x1="452.36" y1="187.36" x2="452.36" y2="183.69" stroke-width="0.7"/>
<line x1="450.76" y1="183.69" x2="453.96" y2="183.69" stroke-width="0.7"/>
<line x1="450.76" y1="187.36" x2="453.96" y2="187.36" stroke-width="0.7"/>
<circle class="m" cx="395.52" cy="142.04" r="2"/>
<circle class="m" cx="409.73" cy="143.88" r="2"/>
<circle class="m" cx="423.94" cy="146.94" r="2"/>
<circle class="m" cx="438.15" cy="164.09" r="2"/>
<circle class="m" cx="452.36" cy="185.53" r="2"/>
<circle class="m" cx="466.57" cy="192.88" r="2"/>
<circle class="m" cx="480.78" cy="197.16" r="2"/>
<circle class="m" cx="494.99" cy="199.61" r="2"/>
<circle class="m" cx="509.2" cy="200.84" r="2"/>
<line x1="395.52" y1="137.14" x2="395.52" y2="131.01" stroke-width="0.7"/>
<line x1="393.92" y1="131.01" x2="397.12" y2="131.01" stroke-width="0.7"/>
<line x1="393.92" y1="137.14" x2="397.12" y2="137.14" stroke-width="0.7"/>
<line x1="409.73" y1="131.62" x2="409.73" y2="127.95" stroke-width="0.7"/>
<line x1="408.13" y1="127.95" x2="411.33" y2="127.95" stroke-width="0.7"/>
<line x1="408.13" y1="131.62" x2="411.33" y2="131.62" stroke-width="0.7"/>
<line x1="423.94" y1="132.85" x2="423.94" y2="121.83" stroke-width="0.7"/>
<line x1="422.34" y1="121.83" x2="425.54" y2="121.83" stroke-width="0.7"/>
<line x1="422.34" y1="132.85" x2="425.54" y2="132.85" stroke-width="0.7"/>
<line x1="438.15" y1="130.4" x2="438.15" y2="120.6" stroke-width="0.7"/>
<line x1="436.55" y1="130.4" x2="439.75" y2="130.4" stroke-width="0.7"/>
<line x1="452.36" y1="137.14" x2="452.36" y2="127.34" stroke-width="0.7"/>
<line x1="450.76" y1="127.34" x2="453.96" y2="127.34" stroke-width="0.7"/>
<line x1="450.76" y1="137.14" x2="453.96" y2="137.14" stroke-width="0.7"/>
<line x1="480.78" y1="173.28" x2="480.78" y2="158.57" stroke-width="0.7"/>
<line x1="479.18" y1="158.57" x2="482.38" y2="158.57" stroke-width="0.7"/>
<line x1="479.18" y1="173.28" x2="482.38" y2="173.28" stroke-width="0.7"/>
<line x1="494.99" y1="177.56" x2="494.99" y2="166.54" stroke-width="0.7"/>
<line x1="493.39" y1="166.54" x2="496.59" y2="166.54" stroke-width="0.7"/>
<line x1="493.39" y1="177.56" x2="496.59" y2="177.56" stroke-width="0.7"/>
<rect class="m" x="393.72" y="132.27" width="3.6" height="3.6"/>
<rect class="m" x="407.93" y="127.99" width="3.6" height="3.6"/>
<rect class="m" x="422.14" y="125.54" width="3.6" height="3.6"/>
<rect class="m" x="436.35" y="121.25" width="3.6" height="3.6"/>
<rect class="m" x="450.56" y="130.44" width="3.6" height="3.6"/>
<rect class="m" x="464.77" y="143.3" width="3.6" height="3.6"/>
<rect class="m" x="478.98" y="164.12" width="3.6" height="3.6"/>
<rect class="m" x="493.19" y="170.25" width="3.6" height="3.6"/>
<rect class="m" x="507.4" y="180.66" width="3.6" height="3.6"/>
<line x1="387.4" y1="120.6" x2="387.4" y2="204.3"/>
<line x1="387" y1="203.9" x2="512.25" y2="203.9"/>
<line x1="383.4" y1="203.9" x2="387.4" y2="203.9"/>
<text class="t" x="382.9" y="205.99" font-size="5.8" text-anchor="end">0</text>
<line x1="383.4" y1="191.65" x2="387.4" y2="191.65"/>
<text class="t" x="382.9" y="193.74" font-size="5.8" text-anchor="end">20</text>
<line x1="383.4" y1="179.4" x2="387.4" y2="179.4"/>
<text class="t" x="382.9" y="181.49" font-size="5.8" text-anchor="end">40</text>
<line x1="383.4" y1="167.15" x2="387.4" y2="167.15"/>
<text class="t" x="382.9" y="169.24" font-size="5.8" text-anchor="end">60</text>
<line x1="383.4" y1="154.9" x2="387.4" y2="154.9"/>
<text class="t" x="382.9" y="156.99" font-size="5.8" text-anchor="end">80</text>
<line x1="383.4" y1="142.65" x2="387.4" y2="142.65"/>
<text class="t" x="382.9" y="144.74" font-size="5.8" text-anchor="end">100</text>
<line x1="383.4" y1="130.4" x2="387.4" y2="130.4"/>
<text class="t" x="382.9" y="132.49" font-size="5.8" text-anchor="end">120</text>
<line x1="387.4" y1="203.9" x2="387.4" y2="206.1"/>
<text class="t" x="387.4" y="213.1" font-size="5.8" text-anchor="middle">−2</text>
<line x1="393.51" y1="203.9" x2="393.51" y2="205.11" stroke-width="0.56"/>
<line x1="397.09" y1="203.9" x2="397.09" y2="205.11" stroke-width="0.56"/>
<line x1="399.62" y1="203.9" x2="399.62" y2="205.11" stroke-width="0.56"/>
<line x1="401.59" y1="203.9" x2="401.59" y2="205.11" stroke-width="0.56"/>
<line x1="403.2" y1="203.9" x2="403.2" y2="205.11" stroke-width="0.56"/>
<line x1="404.56" y1="203.9" x2="404.56" y2="205.11" stroke-width="0.56"/>
<line x1="405.73" y1="203.9" x2="405.73" y2="205.11" stroke-width="0.56"/>
<line x1="406.77" y1="203.9" x2="406.77" y2="205.11" stroke-width="0.56"/>
<line x1="407.7" y1="203.9" x2="407.7" y2="206.1"/>
<text class="t" x="407.7" y="213.1" font-size="5.8" text-anchor="middle">−1</text>
<line x1="413.81" y1="203.9" x2="413.81" y2="205.11" stroke-width="0.56"/>
<line x1="417.39" y1="203.9" x2="417.39" y2="205.11" stroke-width="0.56"/>
<line x1="419.92" y1="203.9" x2="419.92" y2="205.11" stroke-width="0.56"/>
<line x1="421.89" y1="203.9" x2="421.89" y2="205.11" stroke-width="0.56"/>
<line x1="423.5" y1="203.9" x2="423.5" y2="205.11" stroke-width="0.56"/>
<line x1="424.86" y1="203.9" x2="424.86" y2="205.11" stroke-width="0.56"/>
<line x1="426.03" y1="203.9" x2="426.03" y2="205.11" stroke-width="0.56"/>
<line x1="427.07" y1="203.9" x2="427.07" y2="205.11" stroke-width="0.56"/>
<line x1="428" y1="203.9" x2="428" y2="206.1"/>
<text class="t" x="428" y="213.1" font-size="5.8" text-anchor="middle">0</text>
<line x1="434.11" y1="203.9" x2="434.11" y2="205.11" stroke-width="0.56"/>
<line x1="437.69" y1="203.9" x2="437.69" y2="205.11" stroke-width="0.56"/>
<line x1="440.22" y1="203.9" x2="440.22" y2="205.11" stroke-width="0.56"/>
<line x1="442.19" y1="203.9" x2="442.19" y2="205.11" stroke-width="0.56"/>
<line x1="443.8" y1="203.9" x2="443.8" y2="205.11" stroke-width="0.56"/>
<line x1="445.16" y1="203.9" x2="445.16" y2="205.11" stroke-width="0.56"/>
<line x1="446.33" y1="203.9" x2="446.33" y2="205.11" stroke-width="0.56"/>
<line x1="447.37" y1="203.9" x2="447.37" y2="205.11" stroke-width="0.56"/>
<line x1="448.3" y1="203.9" x2="448.3" y2="206.1"/>
<text class="t" x="448.3" y="213.1" font-size="5.8" text-anchor="middle">1</text>
<line x1="454.41" y1="203.9" x2="454.41" y2="205.11" stroke-width="0.56"/>
<line x1="457.99" y1="203.9" x2="457.99" y2="205.11" stroke-width="0.56"/>
<line x1="460.52" y1="203.9" x2="460.52" y2="205.11" stroke-width="0.56"/>
<line x1="462.49" y1="203.9" x2="462.49" y2="205.11" stroke-width="0.56"/>
<line x1="464.1" y1="203.9" x2="464.1" y2="205.11" stroke-width="0.56"/>
<line x1="465.46" y1="203.9" x2="465.46" y2="205.11" stroke-width="0.56"/>
<line x1="466.63" y1="203.9" x2="466.63" y2="205.11" stroke-width="0.56"/>
<line x1="467.67" y1="203.9" x2="467.67" y2="205.11" stroke-width="0.56"/>
<line x1="468.6" y1="203.9" x2="468.6" y2="206.1"/>
<text class="t" x="468.6" y="213.1" font-size="5.8" text-anchor="middle">2</text>
<line x1="474.71" y1="203.9" x2="474.71" y2="205.11" stroke-width="0.56"/>
<line x1="478.29" y1="203.9" x2="478.29" y2="205.11" stroke-width="0.56"/>
<line x1="480.82" y1="203.9" x2="480.82" y2="205.11" stroke-width="0.56"/>
<line x1="482.79" y1="203.9" x2="482.79" y2="205.11" stroke-width="0.56"/>
<line x1="484.4" y1="203.9" x2="484.4" y2="205.11" stroke-width="0.56"/>
<line x1="485.76" y1="203.9" x2="485.76" y2="205.11" stroke-width="0.56"/>
<line x1="486.93" y1="203.9" x2="486.93" y2="205.11" stroke-width="0.56"/>
<line x1="487.97" y1="203.9" x2="487.97" y2="205.11" stroke-width="0.56"/>
<line x1="488.9" y1="203.9" x2="488.9" y2="206.1"/>
<text class="t" x="488.9" y="213.1" font-size="5.8" text-anchor="middle">3</text>
<line x1="495.01" y1="203.9" x2="495.01" y2="205.11" stroke-width="0.56"/>
<line x1="498.59" y1="203.9" x2="498.59" y2="205.11" stroke-width="0.56"/>
<line x1="501.12" y1="203.9" x2="501.12" y2="205.11" stroke-width="0.56"/>
<line x1="503.09" y1="203.9" x2="503.09" y2="205.11" stroke-width="0.56"/>
<line x1="504.7" y1="203.9" x2="504.7" y2="205.11" stroke-width="0.56"/>
<line x1="506.06" y1="203.9" x2="506.06" y2="205.11" stroke-width="0.56"/>
<line x1="507.23" y1="203.9" x2="507.23" y2="205.11" stroke-width="0.56"/>
<line x1="508.27" y1="203.9" x2="508.27" y2="205.11" stroke-width="0.56"/>
<line x1="509.2" y1="203.9" x2="509.2" y2="206.1"/>
<text class="t" x="509.2" y="213.1" font-size="5.8" text-anchor="middle">4</text>
<text class="t" x="368" y="166.15" font-size="7.7" text-anchor="middle" transform="rotate(-90 368 166.15)">Cell viability (%)</text>
<text class="t" x="453.3" y="224.2" font-size="6.65" text-anchor="middle">Log (RBN-2397; nmol/L)</text>
<line x1="394.2" y1="182.3" x2="402.8" y2="182.3" stroke-width="0.7"/>
<circle class="m" cx="398.5" cy="182.3" r="2"/>
<text class="t" x="408" y="184.61" font-size="6.5">siNC</text>
<line x1="394.2" y1="193.8" x2="402.8" y2="193.8" stroke-width="0.7"/>
<rect class="m" x="396.7" y="192" width="3.6" height="3.6"/>
<text class="t" x="408" y="196.11" font-size="6.5">siNIPBL</text>
</g>
<g>
<line x1="66.4" y1="315.17" x2="219.02" y2="315.17" stroke="#8a8a8a" stroke-width="1" stroke-dasharray="1.3 1.2"/>
<path class="c" d="M72.27 268.87L75.88 269.58L79.49 270.38L83.11 271.27L86.72 272.28L90.33 273.41L93.94 274.67L97.56 276.06L101.17 277.59L104.78 279.27L108.39 281.09L112.01 283.06L115.62 285.17L119.23 287.41L122.84 289.77L126.45 292.23L130.07 294.77L133.68 297.36L137.29 299.98L140.9 302.61L144.52 305.21L148.13 307.76L151.74 310.24L155.35 312.62L158.97 314.88L162.58 317.01L166.19 319.01L169.8 320.86L173.41 322.56L177.03 324.12L180.64 325.54L184.25 326.82L187.86 327.97L191.48 329L195.09 329.92L198.7 330.73L202.31 331.46L205.93 332.09L209.54 332.65L213.15 333.15" stroke="#a0a0a0"/>
<path class="c" d="M72.27 267.18L75.88 267.55L79.49 268.04L83.11 268.68L86.72 269.52L90.33 270.61L93.94 272.02L97.56 273.82L101.17 276.08L104.78 278.87L108.39 282.26L112.01 286.26L115.62 290.85L119.23 295.95L122.84 301.39L126.45 306.98L130.07 312.48L133.68 317.69L137.29 322.43L140.9 326.6L144.52 330.15L148.13 333.11L151.74 335.51L155.35 337.42L158.97 338.93L162.58 340.1L166.19 341L169.8 341.7L173.41 342.22L177.03 342.63L180.64 342.93L184.25 343.16L187.86 343.33L191.48 343.46L195.09 343.56L198.7 343.63L202.31 343.69L205.93 343.73L209.54 343.76L213.15 343.78"/>
<path class="c" d="M72.27 261.97L75.88 262.69L79.49 263.65L83.11 264.94L86.72 266.64L90.33 268.86L93.94 271.71L97.56 275.29L101.17 279.67L104.78 284.87L108.39 290.8L112.01 297.29L115.62 304.07L119.23 310.81L122.84 317.19L126.45 322.96L130.07 327.97L133.68 332.16L137.29 335.56L140.9 338.25L144.52 340.34L148.13 341.94L151.74 343.14L155.35 344.05L158.97 344.72L162.58 345.22L166.19 345.58L169.8 345.85L173.41 346.05L177.03 346.19L180.64 346.3L184.25 346.38L187.86 346.44L191.48 346.48L195.09 346.51L198.7 346.53L202.31 346.55L205.93 346.56L209.54 346.57L213.15 346.57"/>
<path class="c" d="M72.27 268.54L75.88 269.39L79.49 270.34L83.11 271.4L86.72 272.56L90.33 273.83L93.94 275.23L97.56 276.74L101.17 278.39L104.78 280.16L108.39 282.06L112.01 284.07L115.62 286.21L119.23 288.44L122.84 290.77L126.45 293.18L130.07 295.64L133.68 298.14L137.29 300.67L140.9 303.19L144.52 305.68L148.13 308.13L151.74 310.52L155.35 312.83L158.97 315.04L162.58 317.15L166.19 319.14L169.8 321.01L173.41 322.75L177.03 324.36L180.64 325.85L184.25 327.22L187.86 328.47L191.48 329.6L195.09 330.63L198.7 331.56L202.31 332.39L205.93 333.14L209.54 333.81L213.15 334.41"/>
<line x1="72.27" y1="275.15" x2="72.27" y2="268.61" stroke="#a0a0a0" stroke-width="0.7"/>
<line x1="70.07" y1="268.61" x2="74.47" y2="268.61" stroke="#a0a0a0" stroke-width="0.7"/>
<line x1="70.07" y1="275.15" x2="74.47" y2="275.15" stroke="#a0a0a0" stroke-width="0.7"/>
<line x1="89.88" y1="272.7" x2="89.88" y2="266.16" stroke="#a0a0a0" stroke-width="0.7"/>
<line x1="87.68" y1="266.16" x2="92.08" y2="266.16" stroke="#a0a0a0" stroke-width="0.7"/>
<line x1="87.68" y1="272.7" x2="92.08" y2="272.7" stroke="#a0a0a0" stroke-width="0.7"/>
<line x1="107.49" y1="283.31" x2="107.49" y2="276.78" stroke="#a0a0a0" stroke-width="0.7"/>
<line x1="105.29" y1="276.78" x2="109.69" y2="276.78" stroke="#a0a0a0" stroke-width="0.7"/>
<line x1="105.29" y1="283.31" x2="109.69" y2="283.31" stroke="#a0a0a0" stroke-width="0.7"/>
<line x1="125.1" y1="294.75" x2="125.1" y2="289.85" stroke="#a0a0a0" stroke-width="0.7"/>
<line x1="122.9" y1="289.85" x2="127.3" y2="289.85" stroke="#a0a0a0" stroke-width="0.7"/>
<line x1="122.9" y1="294.75" x2="127.3" y2="294.75" stroke="#a0a0a0" stroke-width="0.7"/>
<line x1="142.71" y1="308.63" x2="142.71" y2="302.1" stroke="#a0a0a0" stroke-width="0.7"/>
<line x1="140.51" y1="302.1" x2="144.91" y2="302.1" stroke="#a0a0a0" stroke-width="0.7"/>
<line x1="140.51" y1="308.63" x2="144.91" y2="308.63" stroke="#a0a0a0" stroke-width="0.7"/>
<line x1="160.32" y1="320.07" x2="160.32" y2="311.9" stroke="#a0a0a0" stroke-width="0.7"/>
<line x1="158.12" y1="311.9" x2="162.52" y2="311.9" stroke="#a0a0a0" stroke-width="0.7"/>
<line x1="158.12" y1="320.07" x2="162.52" y2="320.07" stroke="#a0a0a0" stroke-width="0.7"/>
<line x1="177.93" y1="325.78" x2="177.93" y2="319.25" stroke="#a0a0a0" stroke-width="0.7"/>
<line x1="175.73" y1="319.25" x2="180.13" y2="319.25" stroke="#a0a0a0" stroke-width="0.7"/>
<line x1="175.73" y1="325.78" x2="180.13" y2="325.78" stroke="#a0a0a0" stroke-width="0.7"/>
<line x1="195.54" y1="333.13" x2="195.54" y2="323.33" stroke="#a0a0a0" stroke-width="0.7"/>
<line x1="193.34" y1="323.33" x2="197.74" y2="323.33" stroke="#a0a0a0" stroke-width="0.7"/>
<line x1="193.34" y1="333.13" x2="197.74" y2="333.13" stroke="#a0a0a0" stroke-width="0.7"/>
<circle class="o" cx="72.27" cy="271.88" r="2.1" stroke="#a0a0a0"/>
<circle class="o" cx="89.88" cy="269.43" r="2.1" stroke="#a0a0a0"/>
<circle class="o" cx="107.49" cy="280.05" r="2.1" stroke="#a0a0a0"/>
<circle class="o" cx="125.1" cy="292.3" r="2.1" stroke="#a0a0a0"/>
<circle class="o" cx="142.71" cy="305.36" r="2.1" stroke="#a0a0a0"/>
<circle class="o" cx="160.32" cy="315.98" r="2.1" stroke="#a0a0a0"/>
<circle class="o" cx="177.93" cy="322.52" r="2.1" stroke="#a0a0a0"/>
<circle class="o" cx="195.54" cy="328.23" r="2.1" stroke="#a0a0a0"/>
<circle class="o" cx="213.15" cy="335.58" r="2.1" stroke="#a0a0a0"/>
<line x1="72.27" y1="277.6" x2="72.27" y2="262.9" stroke-width="0.7"/>
<line x1="70.07" y1="262.9" x2="74.47" y2="262.9" stroke-width="0.7"/>
<line x1="70.07" y1="277.6" x2="74.47" y2="277.6" stroke-width="0.7"/>
<line x1="89.88" y1="273.51" x2="89.88" y2="265.35" stroke-width="0.7"/>
<line x1="87.68" y1="265.35" x2="92.08" y2="265.35" stroke-width="0.7"/>
<line x1="87.68" y1="273.51" x2="92.08" y2="273.51" stroke-width="0.7"/>
<line x1="107.49" y1="280.05" x2="107.49" y2="271.88" stroke-width="0.7"/>
<line x1="105.29" y1="271.88" x2="109.69" y2="271.88" stroke-width="0.7"/>
<line x1="105.29" y1="280.05" x2="109.69" y2="280.05" stroke-width="0.7"/>
<line x1="142.71" y1="327.42" x2="142.71" y2="322.52" stroke-width="0.7"/>
<line x1="140.51" y1="322.52" x2="144.91" y2="322.52" stroke-width="0.7"/>
<line x1="140.51" y1="327.42" x2="144.91" y2="327.42" stroke-width="0.7"/>
<line x1="160.32" y1="339.67" x2="160.32" y2="334.77" stroke-width="0.7"/>
<line x1="158.12" y1="334.77" x2="162.52" y2="334.77" stroke-width="0.7"/>
<line x1="158.12" y1="339.67" x2="162.52" y2="339.67" stroke-width="0.7"/>
<circle class="m" cx="72.27" cy="270.25" r="2.3"/>
<circle class="m" cx="89.88" cy="269.43" r="2.3"/>
<circle class="m" cx="107.49" cy="275.96" r="2.3"/>
<circle class="m" cx="125.1" cy="311.08" r="2.3"/>
<circle class="m" cx="142.71" cy="324.97" r="2.3"/>
<circle class="m" cx="160.32" cy="337.22" r="2.3"/>
<circle class="m" cx="177.93" cy="341.3" r="2.3"/>
<circle class="m" cx="195.54" cy="343.75" r="2.3"/>
<circle class="m" cx="213.15" cy="347.83" r="2.3"/>
<line x1="72.27" y1="268.61" x2="72.27" y2="260.45" stroke-width="0.7"/>
<line x1="70.07" y1="260.45" x2="74.47" y2="260.45" stroke-width="0.7"/>
<line x1="70.07" y1="268.61" x2="74.47" y2="268.61" stroke-width="0.7"/>
<line x1="89.88" y1="274.33" x2="89.88" y2="256.36" stroke-width="0.7"/>
<line x1="87.68" y1="256.36" x2="92.08" y2="256.36" stroke-width="0.7"/>
<line x1="87.68" y1="274.33" x2="92.08" y2="274.33" stroke-width="0.7"/>
<line x1="107.49" y1="295.56" x2="107.49" y2="282.5" stroke-width="0.7"/>
<line x1="105.29" y1="282.5" x2="109.69" y2="282.5" stroke-width="0.7"/>
<line x1="105.29" y1="295.56" x2="109.69" y2="295.56" stroke-width="0.7"/>
<line x1="125.1" y1="329.87" x2="125.1" y2="318.43" stroke-width="0.7"/>
<line x1="122.9" y1="318.43" x2="127.3" y2="318.43" stroke-width="0.7"/>
<line x1="122.9" y1="329.87" x2="127.3" y2="329.87" stroke-width="0.7"/>
<line x1="142.71" y1="338.03" x2="142.71" y2="331.5" stroke-width="0.7"/>
<line x1="140.51" y1="331.5" x2="144.91" y2="331.5" stroke-width="0.7"/>
<line x1="140.51" y1="338.03" x2="144.91" y2="338.03" stroke-width="0.7"/>
<line x1="160.32" y1="344.57" x2="160.32" y2="339.67" stroke-width="0.7"/>
<line x1="158.12" y1="339.67" x2="162.52" y2="339.67" stroke-width="0.7"/>
<line x1="158.12" y1="344.57" x2="162.52" y2="344.57" stroke-width="0.7"/>
<line x1="213.15" y1="352.73" x2="213.15" y2="347.83" stroke-width="0.7"/>
<line x1="210.95" y1="347.83" x2="215.35" y2="347.83" stroke-width="0.7"/>
<line x1="210.95" y1="352.73" x2="215.35" y2="352.73" stroke-width="0.7"/>
<rect class="m" x="69.97" y="262.23" width="4.6" height="4.6"/>
<rect class="m" x="87.58" y="263.05" width="4.6" height="4.6"/>
<rect class="m" x="105.19" y="286.73" width="4.6" height="4.6"/>
<rect class="m" x="122.8" y="321.85" width="4.6" height="4.6"/>
<rect class="m" x="140.41" y="332.47" width="4.6" height="4.6"/>
<rect class="m" x="158.02" y="339.82" width="4.6" height="4.6"/>
<rect class="m" x="175.63" y="343.9" width="4.6" height="4.6"/>
<rect class="m" x="193.24" y="345.53" width="4.6" height="4.6"/>
<rect class="m" x="210.85" y="347.98" width="4.6" height="4.6"/>
<line x1="72.27" y1="274.33" x2="72.27" y2="267.8" stroke-width="0.7"/>
<line x1="70.07" y1="267.8" x2="74.47" y2="267.8" stroke-width="0.7"/>
<line x1="70.07" y1="274.33" x2="74.47" y2="274.33" stroke-width="0.7"/>
<line x1="89.88" y1="273.51" x2="89.88" y2="266.98" stroke-width="0.7"/>
<line x1="87.68" y1="266.98" x2="92.08" y2="266.98" stroke-width="0.7"/>
<line x1="87.68" y1="273.51" x2="92.08" y2="273.51" stroke-width="0.7"/>
<line x1="107.49" y1="284.95" x2="107.49" y2="276.78" stroke-width="0.7"/>
<line x1="105.29" y1="276.78" x2="109.69" y2="276.78" stroke-width="0.7"/>
<line x1="105.29" y1="284.95" x2="109.69" y2="284.95" stroke-width="0.7"/>
<line x1="125.1" y1="297.2" x2="125.1" y2="290.66" stroke-width="0.7"/>
<line x1="122.9" y1="290.66" x2="127.3" y2="290.66" stroke-width="0.7"/>
<line x1="122.9" y1="297.2" x2="127.3" y2="297.2" stroke-width="0.7"/>
<line x1="142.71" y1="311.08" x2="142.71" y2="299.65" stroke-width="0.7"/>
<line x1="140.51" y1="299.65" x2="144.91" y2="299.65" stroke-width="0.7"/>
<line x1="140.51" y1="311.08" x2="144.91" y2="311.08" stroke-width="0.7"/>
<line x1="160.32" y1="320.07" x2="160.32" y2="311.9" stroke-width="0.7"/>
<line x1="158.12" y1="311.9" x2="162.52" y2="311.9" stroke-width="0.7"/>
<line x1="158.12" y1="320.07" x2="162.52" y2="320.07" stroke-width="0.7"/>
<line x1="177.93" y1="327.42" x2="177.93" y2="317.62" stroke-width="0.7"/>
<line x1="175.73" y1="317.62" x2="180.13" y2="317.62" stroke-width="0.7"/>
<line x1="175.73" y1="327.42" x2="180.13" y2="327.42" stroke-width="0.7"/>
<line x1="195.54" y1="333.95" x2="195.54" y2="327.42" stroke-width="0.7"/>
<line x1="193.34" y1="327.42" x2="197.74" y2="327.42" stroke-width="0.7"/>
<line x1="193.34" y1="333.95" x2="197.74" y2="333.95" stroke-width="0.7"/>
<path class="m" d="M72.27 269.12L74.21 271.06L72.27 273.01L70.33 271.06Z"/>
<path class="m" d="M89.88 268.3L91.82 270.25L89.88 272.19L87.94 270.25Z"/>
<path class="m" d="M107.49 278.92L109.43 280.86L107.49 282.81L105.55 280.86Z"/>
<path class="m" d="M125.1 291.99L127.04 293.93L125.1 295.87L123.16 293.93Z"/>
<path class="m" d="M142.71 303.42L144.65 305.36L142.71 307.31L140.77 305.36Z"/>
<path class="m" d="M160.32 314.04L162.26 315.98L160.32 317.92L158.38 315.98Z"/>
<path class="m" d="M177.93 320.57L179.87 322.52L177.93 324.46L175.99 322.52Z"/>
<path class="m" d="M195.54 328.74L197.48 330.68L195.54 332.62L193.6 330.68Z"/>
<path class="m" d="M213.15 333.64L215.09 335.58L213.15 337.52L211.21 335.58Z"/>
<line x1="66.4" y1="254.73" x2="66.4" y2="356.4"/>
<line x1="66" y1="356" x2="216.09" y2="356"/>
<line x1="62.2" y1="356" x2="66.4" y2="356"/>
<text class="t" x="61.4" y="358.7" font-size="7.5" text-anchor="end">0</text>
<line x1="62.2" y1="339.67" x2="66.4" y2="339.67"/>
<text class="t" x="61.4" y="342.37" font-size="7.5" text-anchor="end">20</text>
<line x1="62.2" y1="323.33" x2="66.4" y2="323.33"/>
<text class="t" x="61.4" y="326.03" font-size="7.5" text-anchor="end">40</text>
<line x1="62.2" y1="307" x2="66.4" y2="307"/>
<text class="t" x="61.4" y="309.7" font-size="7.5" text-anchor="end">60</text>
<line x1="62.2" y1="290.66" x2="66.4" y2="290.66"/>
<text class="t" x="61.4" y="293.36" font-size="7.5" text-anchor="end">80</text>
<line x1="62.2" y1="274.33" x2="66.4" y2="274.33"/>
<text class="t" x="61.4" y="277.03" font-size="7.5" text-anchor="end">100</text>
<line x1="62.2" y1="258" x2="66.4" y2="258"/>
<text class="t" x="61.4" y="260.7" font-size="7.5" text-anchor="end">120</text>
<line x1="66.4" y1="356" x2="66.4" y2="359.2"/>
<text class="t" x="66.4" y="366.8" font-size="7.5" text-anchor="middle">−1</text>
<line x1="75.24" y1="356" x2="75.24" y2="357.76" stroke-width="0.56"/>
<line x1="80.4" y1="356" x2="80.4" y2="357.76" stroke-width="0.56"/>
<line x1="84.07" y1="356" x2="84.07" y2="357.76" stroke-width="0.56"/>
<line x1="86.91" y1="356" x2="86.91" y2="357.76" stroke-width="0.56"/>
<line x1="89.24" y1="356" x2="89.24" y2="357.76" stroke-width="0.56"/>
<line x1="91.2" y1="356" x2="91.2" y2="357.76" stroke-width="0.56"/>
<line x1="92.91" y1="356" x2="92.91" y2="357.76" stroke-width="0.56"/>
<line x1="94.41" y1="356" x2="94.41" y2="357.76" stroke-width="0.56"/>
<line x1="95.75" y1="356" x2="95.75" y2="359.2"/>
<text class="t" x="95.75" y="366.8" font-size="7.5" text-anchor="middle">0</text>
<line x1="104.59" y1="356" x2="104.59" y2="357.76" stroke-width="0.56"/>
<line x1="109.75" y1="356" x2="109.75" y2="357.76" stroke-width="0.56"/>
<line x1="113.42" y1="356" x2="113.42" y2="357.76" stroke-width="0.56"/>
<line x1="116.26" y1="356" x2="116.26" y2="357.76" stroke-width="0.56"/>
<line x1="118.59" y1="356" x2="118.59" y2="357.76" stroke-width="0.56"/>
<line x1="120.55" y1="356" x2="120.55" y2="357.76" stroke-width="0.56"/>
<line x1="122.26" y1="356" x2="122.26" y2="357.76" stroke-width="0.56"/>
<line x1="123.76" y1="356" x2="123.76" y2="357.76" stroke-width="0.56"/>
<line x1="125.1" y1="356" x2="125.1" y2="359.2"/>
<text class="t" x="125.1" y="366.8" font-size="7.5" text-anchor="middle">1</text>
<line x1="133.94" y1="356" x2="133.94" y2="357.76" stroke-width="0.56"/>
<line x1="139.1" y1="356" x2="139.1" y2="357.76" stroke-width="0.56"/>
<line x1="142.77" y1="356" x2="142.77" y2="357.76" stroke-width="0.56"/>
<line x1="145.61" y1="356" x2="145.61" y2="357.76" stroke-width="0.56"/>
<line x1="147.94" y1="356" x2="147.94" y2="357.76" stroke-width="0.56"/>
<line x1="149.9" y1="356" x2="149.9" y2="357.76" stroke-width="0.56"/>
<line x1="151.61" y1="356" x2="151.61" y2="357.76" stroke-width="0.56"/>
<line x1="153.11" y1="356" x2="153.11" y2="357.76" stroke-width="0.56"/>
<line x1="154.45" y1="356" x2="154.45" y2="359.2"/>
<text class="t" x="154.45" y="366.8" font-size="7.5" text-anchor="middle">2</text>
<line x1="163.29" y1="356" x2="163.29" y2="357.76" stroke-width="0.56"/>
<line x1="168.45" y1="356" x2="168.45" y2="357.76" stroke-width="0.56"/>
<line x1="172.12" y1="356" x2="172.12" y2="357.76" stroke-width="0.56"/>
<line x1="174.96" y1="356" x2="174.96" y2="357.76" stroke-width="0.56"/>
<line x1="177.29" y1="356" x2="177.29" y2="357.76" stroke-width="0.56"/>
<line x1="179.25" y1="356" x2="179.25" y2="357.76" stroke-width="0.56"/>
<line x1="180.96" y1="356" x2="180.96" y2="357.76" stroke-width="0.56"/>
<line x1="182.46" y1="356" x2="182.46" y2="357.76" stroke-width="0.56"/>
<line x1="183.8" y1="356" x2="183.8" y2="359.2"/>
<text class="t" x="183.8" y="366.8" font-size="7.5" text-anchor="middle">3</text>
<line x1="192.64" y1="356" x2="192.64" y2="357.76" stroke-width="0.56"/>
<line x1="197.8" y1="356" x2="197.8" y2="357.76" stroke-width="0.56"/>
<line x1="201.47" y1="356" x2="201.47" y2="357.76" stroke-width="0.56"/>
<line x1="204.31" y1="356" x2="204.31" y2="357.76" stroke-width="0.56"/>
<line x1="206.64" y1="356" x2="206.64" y2="357.76" stroke-width="0.56"/>
<line x1="208.6" y1="356" x2="208.6" y2="357.76" stroke-width="0.56"/>
<line x1="210.31" y1="356" x2="210.31" y2="357.76" stroke-width="0.56"/>
<line x1="211.81" y1="356" x2="211.81" y2="357.76" stroke-width="0.56"/>
<line x1="213.15" y1="356" x2="213.15" y2="359.2"/>
<text class="t" x="213.15" y="366.8" font-size="7.5" text-anchor="middle">4</text>
<text class="t" x="42.1" y="305" font-size="9.25" text-anchor="middle" transform="rotate(-90 42.1 305)">Cell viability (%)</text>
<text class="t" x="146.7" y="380.5" font-size="8.07" text-anchor="middle">Log (RBN-2397; nmol/L)</text>
<line x1="168.5" y1="259.25" x2="179.5" y2="259.25" stroke-width="0.7"/>
<circle class="m" cx="174" cy="259.25" r="2.3"/>
<text class="t" x="182.5" y="262.16" font-size="8.2">Parental</text>
<line x1="168.5" y1="275.5" x2="179.5" y2="275.5" stroke-width="0.7"/>
<rect class="m" x="171.7" y="273.2" width="4.6" height="4.6"/>
<text class="t" x="182.5" y="278.41" font-size="8.2">LentiV2-sgNC</text>
<line x1="168.5" y1="289.75" x2="179.5" y2="289.75" stroke-width="0.7"/>
<path class="m" d="M174 287.81L175.94 289.75L174 291.69L172.06 289.75Z"/>
<text class="t" x="182.5" y="292.66" font-size="8.2">LentiV2-sgAHR-1</text>
<line x1="168.5" y1="304.25" x2="179.5" y2="304.25" stroke="#a0a0a0" stroke-width="0.7"/>
<circle class="o" cx="174" cy="304.25" r="2.1" stroke="#a0a0a0"/>
<text class="t" x="182.5" y="307.16" font-size="8.2">LentiV2-sgAHR-2</text>
<text class="t" x="141.3" y="245.1" font-size="9.65" text-anchor="middle">LentiV2-sgAHR</text>
</g>
<g>
<line x1="307" y1="315.05" x2="459.62" y2="315.05" stroke="#8a8a8a" stroke-width="1" stroke-dasharray="1.3 1.2"/>
<path class="c" d="M312.87 263.69L316.48 264.14L320.09 264.65L323.71 265.22L327.32 265.86L330.93 266.58L334.54 267.39L338.16 268.29L341.77 269.29L345.38 270.4L348.99 271.63L352.61 272.99L356.22 274.48L359.83 276.1L363.44 277.87L367.05 279.78L370.67 281.83L374.28 284.02L377.89 286.34L381.5 288.79L385.12 291.34L388.73 293.99L392.34 296.72L395.95 299.5L399.57 302.31L403.18 305.12L406.79 307.92L410.4 310.68L414.01 313.37L417.63 315.98L421.24 318.48L424.85 320.87L428.46 323.13L432.08 325.26L435.69 327.25L439.3 329.09L442.91 330.79L446.53 332.35L450.14 333.77L453.75 335.07" stroke="#a0a0a0"/>
<path class="c" d="M312.87 266.57L316.48 266.95L320.09 267.44L323.71 268.09L327.32 268.94L330.93 270.05L334.54 271.47L338.16 273.28L341.77 275.56L345.38 278.39L348.99 281.81L352.61 285.85L356.22 290.49L359.83 295.64L363.44 301.13L367.05 306.78L370.67 312.34L374.28 317.6L377.89 322.39L381.5 326.6L385.12 330.19L388.73 333.17L392.34 335.6L395.95 337.53L399.57 339.05L403.18 340.24L406.79 341.15L410.4 341.85L414.01 342.38L417.63 342.79L421.24 343.1L424.85 343.33L428.46 343.5L432.08 343.63L435.69 343.73L439.3 343.81L442.91 343.86L446.53 343.9L450.14 343.94L453.75 343.96"/>
<path class="c" d="M312.87 261.31L316.48 262.04L320.09 263.01L323.71 264.32L327.32 266.04L330.93 268.28L334.54 271.15L338.16 274.77L341.77 279.19L345.38 284.44L348.99 290.44L352.61 296.99L356.22 303.84L359.83 310.65L363.44 317.1L367.05 322.93L370.67 327.99L374.28 332.22L377.89 335.65L381.5 338.37L385.12 340.48L388.73 342.09L392.34 343.31L395.95 344.23L399.57 344.9L403.18 345.41L406.79 345.78L410.4 346.05L414.01 346.25L417.63 346.4L421.24 346.5L424.85 346.58L428.46 346.64L432.08 346.68L435.69 346.71L439.3 346.73L442.91 346.75L446.53 346.76L450.14 346.77L453.75 346.78"/>
<path class="c" d="M312.87 263.79L316.48 264.35L320.09 264.98L323.71 265.71L327.32 266.54L330.93 267.49L334.54 268.56L338.16 269.77L341.77 271.13L345.38 272.65L348.99 274.34L352.61 276.21L356.22 278.26L359.83 280.48L363.44 282.87L367.05 285.43L370.67 288.13L374.28 290.95L377.89 293.87L381.5 296.86L385.12 299.87L388.73 302.88L392.34 305.84L395.95 308.73L399.57 311.52L403.18 314.18L406.79 316.69L410.4 319.03L414.01 321.2L417.63 323.19L421.24 325L424.85 326.64L428.46 328.11L432.08 329.42L435.69 330.59L439.3 331.62L442.91 332.53L446.53 333.33L450.14 334.02L453.75 334.63"/>
<line x1="312.87" y1="268.85" x2="312.87" y2="258.95" stroke="#a0a0a0" stroke-width="0.7"/>
<line x1="310.67" y1="258.95" x2="315.07" y2="258.95" stroke="#a0a0a0" stroke-width="0.7"/>
<line x1="310.67" y1="268.85" x2="315.07" y2="268.85" stroke="#a0a0a0" stroke-width="0.7"/>
<line x1="330.48" y1="273.8" x2="330.48" y2="260.6" stroke="#a0a0a0" stroke-width="0.7"/>
<line x1="328.28" y1="260.6" x2="332.68" y2="260.6" stroke="#a0a0a0" stroke-width="0.7"/>
<line x1="328.28" y1="273.8" x2="332.68" y2="273.8" stroke="#a0a0a0" stroke-width="0.7"/>
<line x1="348.09" y1="277.93" x2="348.09" y2="261.43" stroke="#a0a0a0" stroke-width="0.7"/>
<line x1="345.89" y1="261.43" x2="350.29" y2="261.43" stroke="#a0a0a0" stroke-width="0.7"/>
<line x1="345.89" y1="277.93" x2="350.29" y2="277.93" stroke="#a0a0a0" stroke-width="0.7"/>
<line x1="365.7" y1="287" x2="365.7" y2="273.8" stroke="#a0a0a0" stroke-width="0.7"/>
<line x1="363.5" y1="273.8" x2="367.9" y2="273.8" stroke="#a0a0a0" stroke-width="0.7"/>
<line x1="363.5" y1="287" x2="367.9" y2="287" stroke="#a0a0a0" stroke-width="0.7"/>
<line x1="383.31" y1="291.95" x2="383.31" y2="283.7" stroke="#a0a0a0" stroke-width="0.7"/>
<line x1="381.11" y1="283.7" x2="385.51" y2="283.7" stroke="#a0a0a0" stroke-width="0.7"/>
<line x1="381.11" y1="291.95" x2="385.51" y2="291.95" stroke="#a0a0a0" stroke-width="0.7"/>
<line x1="400.92" y1="310.1" x2="400.92" y2="301.85" stroke="#a0a0a0" stroke-width="0.7"/>
<line x1="398.72" y1="301.85" x2="403.12" y2="301.85" stroke="#a0a0a0" stroke-width="0.7"/>
<line x1="398.72" y1="310.1" x2="403.12" y2="310.1" stroke="#a0a0a0" stroke-width="0.7"/>
<line x1="418.53" y1="322.48" x2="418.53" y2="310.93" stroke="#a0a0a0" stroke-width="0.7"/>
<line x1="416.33" y1="310.93" x2="420.73" y2="310.93" stroke="#a0a0a0" stroke-width="0.7"/>
<line x1="416.33" y1="322.48" x2="420.73" y2="322.48" stroke="#a0a0a0" stroke-width="0.7"/>
<line x1="453.75" y1="338.98" x2="453.75" y2="334.03" stroke="#a0a0a0" stroke-width="0.7"/>
<line x1="451.55" y1="334.03" x2="455.95" y2="334.03" stroke="#a0a0a0" stroke-width="0.7"/>
<line x1="451.55" y1="338.98" x2="455.95" y2="338.98" stroke="#a0a0a0" stroke-width="0.7"/>
<circle class="o" cx="312.87" cy="263.9" r="2.15" stroke="#a0a0a0"/>
<circle class="o" cx="330.48" cy="267.2" r="2.15" stroke="#a0a0a0"/>
<circle class="o" cx="348.09" cy="269.68" r="2.15" stroke="#a0a0a0"/>
<circle class="o" cx="365.7" cy="280.4" r="2.15" stroke="#a0a0a0"/>
<circle class="o" cx="383.31" cy="287.83" r="2.15" stroke="#a0a0a0"/>
<circle class="o" cx="400.92" cy="305.98" r="2.15" stroke="#a0a0a0"/>
<circle class="o" cx="418.53" cy="316.7" r="2.15" stroke="#a0a0a0"/>
<circle class="o" cx="436.14" cy="324.95" r="2.15" stroke="#a0a0a0"/>
<circle class="o" cx="453.75" cy="336.5" r="2.15" stroke="#a0a0a0"/>
<line x1="312.87" y1="277.1" x2="312.87" y2="262.25" stroke-width="0.7"/>
<line x1="310.67" y1="262.25" x2="315.07" y2="262.25" stroke-width="0.7"/>
<line x1="310.67" y1="277.1" x2="315.07" y2="277.1" stroke-width="0.7"/>
<line x1="330.48" y1="272.98" x2="330.48" y2="264.73" stroke-width="0.7"/>
<line x1="328.28" y1="264.73" x2="332.68" y2="264.73" stroke-width="0.7"/>
<line x1="328.28" y1="272.98" x2="332.68" y2="272.98" stroke-width="0.7"/>
<line x1="348.09" y1="279.58" x2="348.09" y2="271.33" stroke-width="0.7"/>
<line x1="345.89" y1="271.33" x2="350.29" y2="271.33" stroke-width="0.7"/>
<line x1="345.89" y1="279.58" x2="350.29" y2="279.58" stroke-width="0.7"/>
<line x1="383.31" y1="327.43" x2="383.31" y2="322.48" stroke-width="0.7"/>
<line x1="381.11" y1="322.48" x2="385.51" y2="322.48" stroke-width="0.7"/>
<line x1="381.11" y1="327.43" x2="385.51" y2="327.43" stroke-width="0.7"/>
<line x1="400.92" y1="339.8" x2="400.92" y2="334.85" stroke-width="0.7"/>
<line x1="398.72" y1="334.85" x2="403.12" y2="334.85" stroke-width="0.7"/>
<line x1="398.72" y1="339.8" x2="403.12" y2="339.8" stroke-width="0.7"/>
<circle class="m" cx="312.87" cy="269.68" r="2.3"/>
<circle class="m" cx="330.48" cy="268.85" r="2.3"/>
<circle class="m" cx="348.09" cy="275.45" r="2.3"/>
<circle class="m" cx="365.7" cy="310.93" r="2.3"/>
<circle class="m" cx="383.31" cy="324.95" r="2.3"/>
<circle class="m" cx="400.92" cy="337.32" r="2.3"/>
<circle class="m" cx="418.53" cy="341.45" r="2.3"/>
<circle class="m" cx="436.14" cy="343.93" r="2.3"/>
<circle class="m" cx="453.75" cy="348.05" r="2.3"/>
<line x1="312.87" y1="268.03" x2="312.87" y2="259.78" stroke-width="0.7"/>
<line x1="310.67" y1="259.78" x2="315.07" y2="259.78" stroke-width="0.7"/>
<line x1="310.67" y1="268.03" x2="315.07" y2="268.03" stroke-width="0.7"/>
<line x1="330.48" y1="273.8" x2="330.48" y2="255.65" stroke-width="0.7"/>
<line x1="328.28" y1="255.65" x2="332.68" y2="255.65" stroke-width="0.7"/>
<line x1="328.28" y1="273.8" x2="332.68" y2="273.8" stroke-width="0.7"/>
<line x1="348.09" y1="295.25" x2="348.09" y2="282.05" stroke-width="0.7"/>
<line x1="345.89" y1="282.05" x2="350.29" y2="282.05" stroke-width="0.7"/>
<line x1="345.89" y1="295.25" x2="350.29" y2="295.25" stroke-width="0.7"/>
<line x1="365.7" y1="329.9" x2="365.7" y2="318.35" stroke-width="0.7"/>
<line x1="363.5" y1="318.35" x2="367.9" y2="318.35" stroke-width="0.7"/>
<line x1="363.5" y1="329.9" x2="367.9" y2="329.9" stroke-width="0.7"/>
<line x1="383.31" y1="338.15" x2="383.31" y2="331.55" stroke-width="0.7"/>
<line x1="381.11" y1="331.55" x2="385.51" y2="331.55" stroke-width="0.7"/>
<line x1="381.11" y1="338.15" x2="385.51" y2="338.15" stroke-width="0.7"/>
<line x1="400.92" y1="344.75" x2="400.92" y2="339.8" stroke-width="0.7"/>
<line x1="398.72" y1="339.8" x2="403.12" y2="339.8" stroke-width="0.7"/>
<line x1="398.72" y1="344.75" x2="403.12" y2="344.75" stroke-width="0.7"/>
<line x1="453.75" y1="353" x2="453.75" y2="348.05" stroke-width="0.7"/>
<line x1="451.55" y1="348.05" x2="455.95" y2="348.05" stroke-width="0.7"/>
<line x1="451.55" y1="353" x2="455.95" y2="353" stroke-width="0.7"/>
<rect class="m" x="310.57" y="261.6" width="4.6" height="4.6"/>
<rect class="m" x="328.18" y="262.43" width="4.6" height="4.6"/>
<rect class="m" x="345.79" y="286.35" width="4.6" height="4.6"/>
<rect class="m" x="363.4" y="321.82" width="4.6" height="4.6"/>
<rect class="m" x="381.01" y="332.55" width="4.6" height="4.6"/>
<rect class="m" x="398.62" y="339.98" width="4.6" height="4.6"/>
<rect class="m" x="416.23" y="344.1" width="4.6" height="4.6"/>
<rect class="m" x="433.84" y="345.75" width="4.6" height="4.6"/>
<rect class="m" x="451.45" y="348.23" width="4.6" height="4.6"/>
<line x1="312.87" y1="272.15" x2="312.87" y2="258.95" stroke-width="0.7"/>
<line x1="310.67" y1="258.95" x2="315.07" y2="258.95" stroke-width="0.7"/>
<line x1="310.67" y1="272.15" x2="315.07" y2="272.15" stroke-width="0.7"/>
<line x1="330.48" y1="272.15" x2="330.48" y2="262.25" stroke-width="0.7"/>
<line x1="328.28" y1="262.25" x2="332.68" y2="262.25" stroke-width="0.7"/>
<line x1="328.28" y1="272.15" x2="332.68" y2="272.15" stroke-width="0.7"/>
<line x1="348.09" y1="281.23" x2="348.09" y2="258.12" stroke-width="0.7"/>
<line x1="345.89" y1="258.12" x2="350.29" y2="258.12" stroke-width="0.7"/>
<line x1="345.89" y1="281.23" x2="350.29" y2="281.23" stroke-width="0.7"/>
<line x1="365.7" y1="299.38" x2="365.7" y2="274.62" stroke-width="0.7"/>
<line x1="363.5" y1="274.62" x2="367.9" y2="274.62" stroke-width="0.7"/>
<line x1="363.5" y1="299.38" x2="367.9" y2="299.38" stroke-width="0.7"/>
<line x1="383.31" y1="308.45" x2="383.31" y2="290.3" stroke-width="0.7"/>
<line x1="381.11" y1="290.3" x2="385.51" y2="290.3" stroke-width="0.7"/>
<line x1="381.11" y1="308.45" x2="385.51" y2="308.45" stroke-width="0.7"/>
<line x1="400.92" y1="315.05" x2="400.92" y2="310.1" stroke-width="0.7"/>
<line x1="398.72" y1="310.1" x2="403.12" y2="310.1" stroke-width="0.7"/>
<line x1="398.72" y1="315.05" x2="403.12" y2="315.05" stroke-width="0.7"/>
<line x1="436.14" y1="333.2" x2="436.14" y2="328.25" stroke-width="0.7"/>
<line x1="433.94" y1="328.25" x2="438.34" y2="328.25" stroke-width="0.7"/>
<line x1="433.94" y1="333.2" x2="438.34" y2="333.2" stroke-width="0.7"/>
<line x1="453.75" y1="338.15" x2="453.75" y2="333.2" stroke-width="0.7"/>
<line x1="451.55" y1="333.2" x2="455.95" y2="333.2" stroke-width="0.7"/>
<line x1="451.55" y1="338.15" x2="455.95" y2="338.15" stroke-width="0.7"/>
<path class="m" d="M312.87 263.61L314.81 265.55L312.87 267.49L310.93 265.55Z"/>
<path class="m" d="M330.48 265.26L332.42 267.2L330.48 269.14L328.54 267.2Z"/>
<path class="m" d="M348.09 267.73L350.03 269.68L348.09 271.62L346.15 269.68Z"/>
<path class="m" d="M365.7 285.06L367.64 287L365.7 288.94L363.76 287Z"/>
<path class="m" d="M383.31 297.43L385.25 299.38L383.31 301.32L381.37 299.38Z"/>
<path class="m" d="M400.92 310.63L402.86 312.58L400.92 314.52L398.98 312.58Z"/>
<path class="m" d="M418.53 319.71L420.47 321.65L418.53 323.59L416.59 321.65Z"/>
<path class="m" d="M436.14 328.78L438.08 330.73L436.14 332.67L434.2 330.73Z"/>
<path class="m" d="M453.75 333.73L455.69 335.68L453.75 337.62L451.81 335.68Z"/>
<line x1="307" y1="254" x2="307" y2="356.7"/>
<line x1="306.6" y1="356.3" x2="456.69" y2="356.3"/>
<line x1="302.8" y1="356.3" x2="307" y2="356.3"/>
<text class="t" x="302" y="359" font-size="7.5" text-anchor="end">0</text>
<line x1="302.8" y1="339.8" x2="307" y2="339.8"/>
<text class="t" x="302" y="342.5" font-size="7.5" text-anchor="end">20</text>
<line x1="302.8" y1="323.3" x2="307" y2="323.3"/>
<text class="t" x="302" y="326" font-size="7.5" text-anchor="end">40</text>
<line x1="302.8" y1="306.8" x2="307" y2="306.8"/>
<text class="t" x="302" y="309.5" font-size="7.5" text-anchor="end">60</text>
<line x1="302.8" y1="290.3" x2="307" y2="290.3"/>
<text class="t" x="302" y="293" font-size="7.5" text-anchor="end">80</text>
<line x1="302.8" y1="273.8" x2="307" y2="273.8"/>
<text class="t" x="302" y="276.5" font-size="7.5" text-anchor="end">100</text>
<line x1="302.8" y1="257.3" x2="307" y2="257.3"/>
<text class="t" x="302" y="260" font-size="7.5" text-anchor="end">120</text>
<line x1="307" y1="356.3" x2="307" y2="359.5"/>
<text class="t" x="307" y="367.1" font-size="7.5" text-anchor="middle">−1</text>
<line x1="315.84" y1="356.3" x2="315.84" y2="358.06" stroke-width="0.56"/>
<line x1="321" y1="356.3" x2="321" y2="358.06" stroke-width="0.56"/>
<line x1="324.67" y1="356.3" x2="324.67" y2="358.06" stroke-width="0.56"/>
<line x1="327.51" y1="356.3" x2="327.51" y2="358.06" stroke-width="0.56"/>
<line x1="329.84" y1="356.3" x2="329.84" y2="358.06" stroke-width="0.56"/>
<line x1="331.8" y1="356.3" x2="331.8" y2="358.06" stroke-width="0.56"/>
<line x1="333.51" y1="356.3" x2="333.51" y2="358.06" stroke-width="0.56"/>
<line x1="335.01" y1="356.3" x2="335.01" y2="358.06" stroke-width="0.56"/>
<line x1="336.35" y1="356.3" x2="336.35" y2="359.5"/>
<text class="t" x="336.35" y="367.1" font-size="7.5" text-anchor="middle">0</text>
<line x1="345.19" y1="356.3" x2="345.19" y2="358.06" stroke-width="0.56"/>
<line x1="350.35" y1="356.3" x2="350.35" y2="358.06" stroke-width="0.56"/>
<line x1="354.02" y1="356.3" x2="354.02" y2="358.06" stroke-width="0.56"/>
<line x1="356.86" y1="356.3" x2="356.86" y2="358.06" stroke-width="0.56"/>
<line x1="359.19" y1="356.3" x2="359.19" y2="358.06" stroke-width="0.56"/>
<line x1="361.15" y1="356.3" x2="361.15" y2="358.06" stroke-width="0.56"/>
<line x1="362.86" y1="356.3" x2="362.86" y2="358.06" stroke-width="0.56"/>
<line x1="364.36" y1="356.3" x2="364.36" y2="358.06" stroke-width="0.56"/>
<line x1="365.7" y1="356.3" x2="365.7" y2="359.5"/>
<text class="t" x="365.7" y="367.1" font-size="7.5" text-anchor="middle">1</text>
<line x1="374.54" y1="356.3" x2="374.54" y2="358.06" stroke-width="0.56"/>
<line x1="379.7" y1="356.3" x2="379.7" y2="358.06" stroke-width="0.56"/>
<line x1="383.37" y1="356.3" x2="383.37" y2="358.06" stroke-width="0.56"/>
<line x1="386.21" y1="356.3" x2="386.21" y2="358.06" stroke-width="0.56"/>
<line x1="388.54" y1="356.3" x2="388.54" y2="358.06" stroke-width="0.56"/>
<line x1="390.5" y1="356.3" x2="390.5" y2="358.06" stroke-width="0.56"/>
<line x1="392.21" y1="356.3" x2="392.21" y2="358.06" stroke-width="0.56"/>
<line x1="393.71" y1="356.3" x2="393.71" y2="358.06" stroke-width="0.56"/>
<line x1="395.05" y1="356.3" x2="395.05" y2="359.5"/>
<text class="t" x="395.05" y="367.1" font-size="7.5" text-anchor="middle">2</text>
<line x1="403.89" y1="356.3" x2="403.89" y2="358.06" stroke-width="0.56"/>
<line x1="409.05" y1="356.3" x2="409.05" y2="358.06" stroke-width="0.56"/>
<line x1="412.72" y1="356.3" x2="412.72" y2="358.06" stroke-width="0.56"/>
<line x1="415.56" y1="356.3" x2="415.56" y2="358.06" stroke-width="0.56"/>
<line x1="417.89" y1="356.3" x2="417.89" y2="358.06" stroke-width="0.56"/>
<line x1="419.85" y1="356.3" x2="419.85" y2="358.06" stroke-width="0.56"/>
<line x1="421.56" y1="356.3" x2="421.56" y2="358.06" stroke-width="0.56"/>
<line x1="423.06" y1="356.3" x2="423.06" y2="358.06" stroke-width="0.56"/>
<line x1="424.4" y1="356.3" x2="424.4" y2="359.5"/>
<text class="t" x="424.4" y="367.1" font-size="7.5" text-anchor="middle">3</text>
<line x1="433.24" y1="356.3" x2="433.24" y2="358.06" stroke-width="0.56"/>
<line x1="438.4" y1="356.3" x2="438.4" y2="358.06" stroke-width="0.56"/>
<line x1="442.07" y1="356.3" x2="442.07" y2="358.06" stroke-width="0.56"/>
<line x1="444.91" y1="356.3" x2="444.91" y2="358.06" stroke-width="0.56"/>
<line x1="447.24" y1="356.3" x2="447.24" y2="358.06" stroke-width="0.56"/>
<line x1="449.2" y1="356.3" x2="449.2" y2="358.06" stroke-width="0.56"/>
<line x1="450.91" y1="356.3" x2="450.91" y2="358.06" stroke-width="0.56"/>
<line x1="452.41" y1="356.3" x2="452.41" y2="358.06" stroke-width="0.56"/>
<line x1="453.75" y1="356.3" x2="453.75" y2="359.5"/>
<text class="t" x="453.75" y="367.1" font-size="7.5" text-anchor="middle">4</text>
<text class="t" x="282.7" y="304.8" font-size="9.25" text-anchor="middle" transform="rotate(-90 282.7 304.8)">Cell viability (%)</text>
<text class="t" x="387.3" y="380.8" font-size="8.07" text-anchor="middle">Log (RBN-2397; nmol/L)</text>
<line x1="423.25" y1="259.5" x2="434.25" y2="259.5" stroke-width="0.7"/>
<circle class="m" cx="428.75" cy="259.5" r="2.3"/>
<text class="t" x="437" y="262.41" font-size="8.2">Parental</text>
<line x1="423.25" y1="275.5" x2="434.25" y2="275.5" stroke-width="0.7"/>
<rect class="m" x="426.45" y="273.2" width="4.6" height="4.6"/>
<text class="t" x="437" y="278.41" font-size="8.2">LentiV2-sgNC</text>
<line x1="423.25" y1="290" x2="434.25" y2="290" stroke-width="0.7"/>
<path class="m" d="M428.75 288.06L430.69 290L428.75 291.94L426.81 290Z"/>
<text class="t" x="437" y="292.91" font-size="8.2">LentiV2-sgMAU2-1</text>
<line x1="423.25" y1="304.25" x2="434.25" y2="304.25" stroke="#a0a0a0" stroke-width="0.7"/>
<circle class="o" cx="428.75" cy="304.25" r="2.15" stroke="#a0a0a0"/>
<text class="t" x="437" y="307.16" font-size="8.2">LentiV2-sgMAU2-2</text>
<text class="t" x="382.2" y="245.1" font-size="9.65" text-anchor="middle">LentiV2-sgMAU2</text>
</g>
<g>
<line x1="66.5" y1="470.75" x2="219.12" y2="470.75" stroke="#8a8a8a" stroke-width="1" stroke-dasharray="1.3 1.2"/>
<path class="c" d="M72.37 419.75L75.98 420.19L79.59 420.7L83.21 421.31L86.82 422.04L90.43 422.9L94.04 423.92L97.66 425.11L101.27 426.49L104.88 428.1L108.49 429.94L112.11 432.02L115.72 434.37L119.33 436.98L122.94 439.83L126.55 442.91L130.17 446.18L133.78 449.6L137.39 453.1L141 456.64L144.62 460.14L148.23 463.54L151.84 466.78L155.45 469.83L159.07 472.65L162.68 475.22L166.29 477.53L169.9 479.58L173.51 481.38L177.13 482.95L180.74 484.31L184.35 485.47L187.96 486.46L191.58 487.31L195.19 488.02L198.8 488.61L202.41 489.12L206.03 489.53L209.64 489.88L213.25 490.18" stroke="#a0a0a0"/>
<path class="c" d="M72.37 422.63L75.98 423L79.59 423.49L83.21 424.13L86.82 424.98L90.43 426.07L94.04 427.48L97.66 429.29L101.27 431.55L104.88 434.35L108.49 437.75L112.11 441.76L115.72 446.37L119.33 451.48L122.94 456.94L126.55 462.54L130.17 468.06L133.78 473.28L137.39 478.03L141 482.22L144.62 485.78L148.23 488.74L151.84 491.15L155.45 493.07L159.07 494.58L162.68 495.75L166.29 496.66L169.9 497.36L173.51 497.89L177.13 498.29L180.74 498.59L184.35 498.82L187.96 498.99L191.58 499.13L195.19 499.22L198.8 499.3L202.41 499.35L206.03 499.39L209.64 499.42L213.25 499.45"/>
<path class="c" d="M72.37 417.4L75.98 418.12L79.59 419.09L83.21 420.39L86.82 422.09L90.43 424.32L94.04 427.17L97.66 430.76L101.27 435.16L104.88 440.37L108.49 446.32L112.11 452.83L115.72 459.62L119.33 466.38L122.94 472.78L126.55 478.57L130.17 483.59L133.78 487.79L137.39 491.2L141 493.9L144.62 496L148.23 497.6L151.84 498.81L155.45 499.71L159.07 500.39L162.68 500.89L166.29 501.25L169.9 501.52L173.51 501.72L177.13 501.87L180.74 501.97L184.35 502.05L187.96 502.11L191.58 502.15L195.19 502.18L198.8 502.2L202.41 502.22L206.03 502.23L209.64 502.24L213.25 502.25"/>
<path class="c" d="M72.37 418.79L75.98 418.91L79.59 419.06L83.21 419.25L86.82 419.5L90.43 419.81L94.04 420.2L97.66 420.69L101.27 421.3L104.88 422.06L108.49 423L112.11 424.16L115.72 425.56L119.33 427.25L122.94 429.25L126.55 431.59L130.17 434.28L133.78 437.29L137.39 440.58L141 444.1L144.62 447.75L148.23 451.44L151.84 455.04L155.45 458.48L159.07 461.66L162.68 464.53L166.29 467.07L169.9 469.26L173.51 471.13L177.13 472.69L180.74 473.98L184.35 475.04L187.96 475.9L191.58 476.6L195.19 477.15L198.8 477.6L202.41 477.95L206.03 478.23L209.64 478.45L213.25 478.63"/>
<line x1="72.37" y1="425.7" x2="72.37" y2="417.51" stroke="#a0a0a0" stroke-width="0.7"/>
<line x1="70.17" y1="417.51" x2="74.57" y2="417.51" stroke="#a0a0a0" stroke-width="0.7"/>
<line x1="70.17" y1="425.7" x2="74.57" y2="425.7" stroke="#a0a0a0" stroke-width="0.7"/>
<line x1="89.98" y1="432.26" x2="89.98" y2="414.24" stroke="#a0a0a0" stroke-width="0.7"/>
<line x1="87.78" y1="414.24" x2="92.18" y2="414.24" stroke="#a0a0a0" stroke-width="0.7"/>
<line x1="87.78" y1="432.26" x2="92.18" y2="432.26" stroke="#a0a0a0" stroke-width="0.7"/>
<line x1="107.59" y1="433.89" x2="107.59" y2="414.24" stroke="#a0a0a0" stroke-width="0.7"/>
<line x1="105.39" y1="414.24" x2="109.79" y2="414.24" stroke="#a0a0a0" stroke-width="0.7"/>
<line x1="105.39" y1="433.89" x2="109.79" y2="433.89" stroke="#a0a0a0" stroke-width="0.7"/>
<line x1="125.2" y1="452.73" x2="125.2" y2="437.99" stroke="#a0a0a0" stroke-width="0.7"/>
<line x1="123" y1="437.99" x2="127.4" y2="437.99" stroke="#a0a0a0" stroke-width="0.7"/>
<line x1="123" y1="452.73" x2="127.4" y2="452.73" stroke="#a0a0a0" stroke-width="0.7"/>
<line x1="142.81" y1="466.65" x2="142.81" y2="450.27" stroke="#a0a0a0" stroke-width="0.7"/>
<line x1="140.61" y1="450.27" x2="145.01" y2="450.27" stroke="#a0a0a0" stroke-width="0.7"/>
<line x1="140.61" y1="466.65" x2="145.01" y2="466.65" stroke="#a0a0a0" stroke-width="0.7"/>
<line x1="160.42" y1="477.3" x2="160.42" y2="470.75" stroke="#a0a0a0" stroke-width="0.7"/>
<line x1="158.22" y1="470.75" x2="162.62" y2="470.75" stroke="#a0a0a0" stroke-width="0.7"/>
<line x1="158.22" y1="477.3" x2="162.62" y2="477.3" stroke="#a0a0a0" stroke-width="0.7"/>
<line x1="178.03" y1="485.49" x2="178.03" y2="475.66" stroke="#a0a0a0" stroke-width="0.7"/>
<line x1="175.83" y1="475.66" x2="180.23" y2="475.66" stroke="#a0a0a0" stroke-width="0.7"/>
<line x1="175.83" y1="485.49" x2="180.23" y2="485.49" stroke="#a0a0a0" stroke-width="0.7"/>
<line x1="195.64" y1="490.41" x2="195.64" y2="485.49" stroke="#a0a0a0" stroke-width="0.7"/>
<line x1="193.44" y1="485.49" x2="197.84" y2="485.49" stroke="#a0a0a0" stroke-width="0.7"/>
<line x1="193.44" y1="490.41" x2="197.84" y2="490.41" stroke="#a0a0a0" stroke-width="0.7"/>
<rect class="o" x="70.27" y="419.51" width="4.2" height="4.2" rx="0.8" stroke="#a0a0a0"/>
<rect class="o" x="87.88" y="421.15" width="4.2" height="4.2" rx="0.8" stroke="#a0a0a0"/>
<rect class="o" x="105.49" y="421.97" width="4.2" height="4.2" rx="0.8" stroke="#a0a0a0"/>
<rect class="o" x="123.1" y="443.26" width="4.2" height="4.2" rx="0.8" stroke="#a0a0a0"/>
<rect class="o" x="140.71" y="456.36" width="4.2" height="4.2" rx="0.8" stroke="#a0a0a0"/>
<rect class="o" x="158.32" y="471.93" width="4.2" height="4.2" rx="0.8" stroke="#a0a0a0"/>
<rect class="o" x="175.93" y="478.48" width="4.2" height="4.2" rx="0.8" stroke="#a0a0a0"/>
<rect class="o" x="193.54" y="485.85" width="4.2" height="4.2" rx="0.8" stroke="#a0a0a0"/>
<rect class="o" x="211.15" y="489.94" width="4.2" height="4.2" rx="0.8" stroke="#a0a0a0"/>
<line x1="72.37" y1="433.08" x2="72.37" y2="418.33" stroke-width="0.7"/>
<line x1="70.17" y1="418.33" x2="74.57" y2="418.33" stroke-width="0.7"/>
<line x1="70.17" y1="433.08" x2="74.57" y2="433.08" stroke-width="0.7"/>
<line x1="89.98" y1="428.98" x2="89.98" y2="420.79" stroke-width="0.7"/>
<line x1="87.78" y1="420.79" x2="92.18" y2="420.79" stroke-width="0.7"/>
<line x1="87.78" y1="428.98" x2="92.18" y2="428.98" stroke-width="0.7"/>
<line x1="107.59" y1="435.53" x2="107.59" y2="427.34" stroke-width="0.7"/>
<line x1="105.39" y1="427.34" x2="109.79" y2="427.34" stroke-width="0.7"/>
<line x1="105.39" y1="435.53" x2="109.79" y2="435.53" stroke-width="0.7"/>
<line x1="142.81" y1="483.03" x2="142.81" y2="478.12" stroke-width="0.7"/>
<line x1="140.61" y1="478.12" x2="145.01" y2="478.12" stroke-width="0.7"/>
<line x1="140.61" y1="483.03" x2="145.01" y2="483.03" stroke-width="0.7"/>
<line x1="160.42" y1="495.32" x2="160.42" y2="490.41" stroke-width="0.7"/>
<line x1="158.22" y1="490.41" x2="162.62" y2="490.41" stroke-width="0.7"/>
<line x1="158.22" y1="495.32" x2="162.62" y2="495.32" stroke-width="0.7"/>
<circle class="m" cx="72.37" cy="425.7" r="2.3"/>
<circle class="m" cx="89.98" cy="424.89" r="2.3"/>
<circle class="m" cx="107.59" cy="431.44" r="2.3"/>
<circle class="m" cx="125.2" cy="466.65" r="2.3"/>
<circle class="m" cx="142.81" cy="480.58" r="2.3"/>
<circle class="m" cx="160.42" cy="492.86" r="2.3"/>
<circle class="m" cx="178.03" cy="496.96" r="2.3"/>
<circle class="m" cx="195.64" cy="499.41" r="2.3"/>
<circle class="m" cx="213.25" cy="503.51" r="2.3"/>
<line x1="72.37" y1="424.07" x2="72.37" y2="415.88" stroke-width="0.7"/>
<line x1="70.17" y1="415.88" x2="74.57" y2="415.88" stroke-width="0.7"/>
<line x1="70.17" y1="424.07" x2="74.57" y2="424.07" stroke-width="0.7"/>
<line x1="89.98" y1="429.8" x2="89.98" y2="411.78" stroke-width="0.7"/>
<line x1="87.78" y1="411.78" x2="92.18" y2="411.78" stroke-width="0.7"/>
<line x1="87.78" y1="429.8" x2="92.18" y2="429.8" stroke-width="0.7"/>
<line x1="107.59" y1="451.09" x2="107.59" y2="437.99" stroke-width="0.7"/>
<line x1="105.39" y1="437.99" x2="109.79" y2="437.99" stroke-width="0.7"/>
<line x1="105.39" y1="451.09" x2="109.79" y2="451.09" stroke-width="0.7"/>
<line x1="125.2" y1="485.49" x2="125.2" y2="474.03" stroke-width="0.7"/>
<line x1="123" y1="474.03" x2="127.4" y2="474.03" stroke-width="0.7"/>
<line x1="123" y1="485.49" x2="127.4" y2="485.49" stroke-width="0.7"/>
<line x1="142.81" y1="493.68" x2="142.81" y2="487.13" stroke-width="0.7"/>
<line x1="140.61" y1="487.13" x2="145.01" y2="487.13" stroke-width="0.7"/>
<line x1="140.61" y1="493.68" x2="145.01" y2="493.68" stroke-width="0.7"/>
<line x1="160.42" y1="500.23" x2="160.42" y2="495.32" stroke-width="0.7"/>
<line x1="158.22" y1="495.32" x2="162.62" y2="495.32" stroke-width="0.7"/>
<line x1="158.22" y1="500.23" x2="162.62" y2="500.23" stroke-width="0.7"/>
<line x1="213.25" y1="508.42" x2="213.25" y2="503.51" stroke-width="0.7"/>
<line x1="211.05" y1="503.51" x2="215.45" y2="503.51" stroke-width="0.7"/>
<line x1="211.05" y1="508.42" x2="215.45" y2="508.42" stroke-width="0.7"/>
<rect class="m" x="70.07" y="417.67" width="4.6" height="4.6"/>
<rect class="m" x="87.68" y="418.49" width="4.6" height="4.6"/>
<rect class="m" x="105.29" y="442.24" width="4.6" height="4.6"/>
<rect class="m" x="122.9" y="477.46" width="4.6" height="4.6"/>
<rect class="m" x="140.51" y="488.11" width="4.6" height="4.6"/>
<rect class="m" x="158.12" y="495.48" width="4.6" height="4.6"/>
<rect class="m" x="175.73" y="499.57" width="4.6" height="4.6"/>
<rect class="m" x="193.34" y="501.21" width="4.6" height="4.6"/>
<rect class="m" x="210.95" y="503.67" width="4.6" height="4.6"/>
<line x1="72.37" y1="424.89" x2="72.37" y2="415.06" stroke-width="0.7"/>
<line x1="70.17" y1="415.06" x2="74.57" y2="415.06" stroke-width="0.7"/>
<line x1="70.17" y1="424.89" x2="74.57" y2="424.89" stroke-width="0.7"/>
<line x1="89.98" y1="431.44" x2="89.98" y2="411.78" stroke-width="0.7"/>
<line x1="87.78" y1="411.78" x2="92.18" y2="411.78" stroke-width="0.7"/>
<line x1="87.78" y1="431.44" x2="92.18" y2="431.44" stroke-width="0.7"/>
<line x1="107.59" y1="427.34" x2="107.59" y2="410.96" stroke-width="0.7"/>
<line x1="105.39" y1="410.96" x2="109.79" y2="410.96" stroke-width="0.7"/>
<line x1="105.39" y1="427.34" x2="109.79" y2="427.34" stroke-width="0.7"/>
<line x1="125.2" y1="448.64" x2="125.2" y2="410.96" stroke-width="0.7"/>
<line x1="123" y1="410.96" x2="127.4" y2="410.96" stroke-width="0.7"/>
<line x1="123" y1="448.64" x2="127.4" y2="448.64" stroke-width="0.7"/>
<line x1="142.81" y1="456.83" x2="142.81" y2="440.45" stroke-width="0.7"/>
<line x1="140.61" y1="440.45" x2="145.01" y2="440.45" stroke-width="0.7"/>
<line x1="140.61" y1="456.83" x2="145.01" y2="456.83" stroke-width="0.7"/>
<line x1="178.03" y1="477.3" x2="178.03" y2="465.84" stroke-width="0.7"/>
<line x1="175.83" y1="465.84" x2="180.23" y2="465.84" stroke-width="0.7"/>
<line x1="175.83" y1="477.3" x2="180.23" y2="477.3" stroke-width="0.7"/>
<path class="m" d="M72.37 418.03L74.31 419.97L72.37 421.91L70.43 419.97Z"/>
<path class="m" d="M89.98 419.67L91.92 421.61L89.98 423.55L88.04 421.61Z"/>
<path class="m" d="M107.59 417.21L109.53 419.15L107.59 421.1L105.65 419.15Z"/>
<path class="m" d="M125.2 427.86L127.14 429.8L125.2 431.74L123.26 429.8Z"/>
<path class="m" d="M142.81 446.69L144.75 448.64L142.81 450.58L140.87 448.64Z"/>
<path class="m" d="M160.42 459.8L162.36 461.74L160.42 463.68L158.48 461.74Z"/>
<path class="m" d="M178.03 469.63L179.97 471.57L178.03 473.51L176.09 471.57Z"/>
<path class="m" d="M195.64 474.54L197.58 476.48L195.64 478.43L193.7 476.48Z"/>
<path class="m" d="M213.25 478.64L215.19 480.58L213.25 482.52L211.31 480.58Z"/>
<line x1="66.5" y1="410.14" x2="66.5" y2="512.1"/>
<line x1="66.1" y1="511.7" x2="216.19" y2="511.7"/>
<line x1="62.3" y1="511.7" x2="66.5" y2="511.7"/>
<text class="t" x="61.5" y="514.4" font-size="7.5" text-anchor="end">0</text>
<line x1="62.3" y1="495.32" x2="66.5" y2="495.32"/>
<text class="t" x="61.5" y="498.02" font-size="7.5" text-anchor="end">20</text>
<line x1="62.3" y1="478.94" x2="66.5" y2="478.94"/>
<text class="t" x="61.5" y="481.64" font-size="7.5" text-anchor="end">40</text>
<line x1="62.3" y1="462.56" x2="66.5" y2="462.56"/>
<text class="t" x="61.5" y="465.26" font-size="7.5" text-anchor="end">60</text>
<line x1="62.3" y1="446.18" x2="66.5" y2="446.18"/>
<text class="t" x="61.5" y="448.88" font-size="7.5" text-anchor="end">80</text>
<line x1="62.3" y1="429.8" x2="66.5" y2="429.8"/>
<text class="t" x="61.5" y="432.5" font-size="7.5" text-anchor="end">100</text>
<line x1="62.3" y1="413.42" x2="66.5" y2="413.42"/>
<text class="t" x="61.5" y="416.12" font-size="7.5" text-anchor="end">120</text>
<line x1="66.5" y1="511.7" x2="66.5" y2="514.9"/>
<text class="t" x="66.5" y="522.5" font-size="7.5" text-anchor="middle">−1</text>
<line x1="75.34" y1="511.7" x2="75.34" y2="513.46" stroke-width="0.56"/>
<line x1="80.5" y1="511.7" x2="80.5" y2="513.46" stroke-width="0.56"/>
<line x1="84.17" y1="511.7" x2="84.17" y2="513.46" stroke-width="0.56"/>
<line x1="87.01" y1="511.7" x2="87.01" y2="513.46" stroke-width="0.56"/>
<line x1="89.34" y1="511.7" x2="89.34" y2="513.46" stroke-width="0.56"/>
<line x1="91.3" y1="511.7" x2="91.3" y2="513.46" stroke-width="0.56"/>
<line x1="93.01" y1="511.7" x2="93.01" y2="513.46" stroke-width="0.56"/>
<line x1="94.51" y1="511.7" x2="94.51" y2="513.46" stroke-width="0.56"/>
<line x1="95.85" y1="511.7" x2="95.85" y2="514.9"/>
<text class="t" x="95.85" y="522.5" font-size="7.5" text-anchor="middle">0</text>
<line x1="104.69" y1="511.7" x2="104.69" y2="513.46" stroke-width="0.56"/>
<line x1="109.85" y1="511.7" x2="109.85" y2="513.46" stroke-width="0.56"/>
<line x1="113.52" y1="511.7" x2="113.52" y2="513.46" stroke-width="0.56"/>
<line x1="116.36" y1="511.7" x2="116.36" y2="513.46" stroke-width="0.56"/>
<line x1="118.69" y1="511.7" x2="118.69" y2="513.46" stroke-width="0.56"/>
<line x1="120.65" y1="511.7" x2="120.65" y2="513.46" stroke-width="0.56"/>
<line x1="122.36" y1="511.7" x2="122.36" y2="513.46" stroke-width="0.56"/>
<line x1="123.86" y1="511.7" x2="123.86" y2="513.46" stroke-width="0.56"/>
<line x1="125.2" y1="511.7" x2="125.2" y2="514.9"/>
<text class="t" x="125.2" y="522.5" font-size="7.5" text-anchor="middle">1</text>
<line x1="134.04" y1="511.7" x2="134.04" y2="513.46" stroke-width="0.56"/>
<line x1="139.2" y1="511.7" x2="139.2" y2="513.46" stroke-width="0.56"/>
<line x1="142.87" y1="511.7" x2="142.87" y2="513.46" stroke-width="0.56"/>
<line x1="145.71" y1="511.7" x2="145.71" y2="513.46" stroke-width="0.56"/>
<line x1="148.04" y1="511.7" x2="148.04" y2="513.46" stroke-width="0.56"/>
<line x1="150" y1="511.7" x2="150" y2="513.46" stroke-width="0.56"/>
<line x1="151.71" y1="511.7" x2="151.71" y2="513.46" stroke-width="0.56"/>
<line x1="153.21" y1="511.7" x2="153.21" y2="513.46" stroke-width="0.56"/>
<line x1="154.55" y1="511.7" x2="154.55" y2="514.9"/>
<text class="t" x="154.55" y="522.5" font-size="7.5" text-anchor="middle">2</text>
<line x1="163.39" y1="511.7" x2="163.39" y2="513.46" stroke-width="0.56"/>
<line x1="168.55" y1="511.7" x2="168.55" y2="513.46" stroke-width="0.56"/>
<line x1="172.22" y1="511.7" x2="172.22" y2="513.46" stroke-width="0.56"/>
<line x1="175.06" y1="511.7" x2="175.06" y2="513.46" stroke-width="0.56"/>
<line x1="177.39" y1="511.7" x2="177.39" y2="513.46" stroke-width="0.56"/>
<line x1="179.35" y1="511.7" x2="179.35" y2="513.46" stroke-width="0.56"/>
<line x1="181.06" y1="511.7" x2="181.06" y2="513.46" stroke-width="0.56"/>
<line x1="182.56" y1="511.7" x2="182.56" y2="513.46" stroke-width="0.56"/>
<line x1="183.9" y1="511.7" x2="183.9" y2="514.9"/>
<text class="t" x="183.9" y="522.5" font-size="7.5" text-anchor="middle">3</text>
<line x1="192.74" y1="511.7" x2="192.74" y2="513.46" stroke-width="0.56"/>
<line x1="197.9" y1="511.7" x2="197.9" y2="513.46" stroke-width="0.56"/>
<line x1="201.57" y1="511.7" x2="201.57" y2="513.46" stroke-width="0.56"/>
<line x1="204.41" y1="511.7" x2="204.41" y2="513.46" stroke-width="0.56"/>
<line x1="206.74" y1="511.7" x2="206.74" y2="513.46" stroke-width="0.56"/>
<line x1="208.7" y1="511.7" x2="208.7" y2="513.46" stroke-width="0.56"/>
<line x1="210.41" y1="511.7" x2="210.41" y2="513.46" stroke-width="0.56"/>
<line x1="211.91" y1="511.7" x2="211.91" y2="513.46" stroke-width="0.56"/>
<line x1="213.25" y1="511.7" x2="213.25" y2="514.9"/>
<text class="t" x="213.25" y="522.5" font-size="7.5" text-anchor="middle">4</text>
<text class="t" x="42.2" y="460.56" font-size="9.25" text-anchor="middle" transform="rotate(-90 42.2 460.56)">Cell viability (%)</text>
<text class="t" x="146.8" y="536.2" font-size="8.07" text-anchor="middle">Log (RBN-2397; nmol/L)</text>
<line x1="168.5" y1="415.5" x2="179.5" y2="415.5" stroke-width="0.7"/>
<circle class="m" cx="174" cy="415.5" r="2.3"/>
<text class="t" x="183" y="418.41" font-size="8.2">Parental</text>
<line x1="168.5" y1="431.25" x2="179.5" y2="431.25" stroke-width="0.7"/>
<rect class="m" x="171.7" y="428.95" width="4.6" height="4.6"/>
<text class="t" x="183" y="434.16" font-size="8.2">LentiV2-sgNC</text>
<line x1="168.5" y1="445.5" x2="179.5" y2="445.5" stroke-width="0.7"/>
<path class="m" d="M174 443.56L175.94 445.5L174 447.44L172.06 445.5Z"/>
<text class="t" x="183" y="448.41" font-size="8.2">LentiV2-sgMED12-1</text>
<line x1="168.5" y1="459.75" x2="179.5" y2="459.75" stroke="#a0a0a0" stroke-width="0.7"/>
<rect class="o" x="171.9" y="457.65" width="4.2" height="4.2" rx="0.8" stroke="#a0a0a0"/>
<text class="t" x="183" y="462.66" font-size="8.2">LentiV2-sgMED12-2</text>
<text class="t" x="141.6" y="400.9" font-size="9.65" text-anchor="middle">LentiV2-sgMED12</text>
</g>
<g>
<line x1="307.3" y1="474" x2="459.92" y2="474" stroke="#8a8a8a" stroke-width="1" stroke-dasharray="1.3 1.2"/>
<path class="c" d="M313.17 421.21L316.78 421.74L320.39 422.36L324.01 423.06L327.62 423.85L331.23 424.75L334.84 425.77L338.46 426.92L342.07 428.2L345.68 429.63L349.29 431.23L352.91 432.98L356.52 434.91L360.13 437.01L363.74 439.28L367.35 441.71L370.97 444.3L374.58 447.02L378.19 449.86L381.8 452.8L385.42 455.79L389.03 458.82L392.64 461.85L396.25 464.84L399.87 467.77L403.48 470.6L407.09 473.32L410.7 475.9L414.31 478.32L417.93 480.58L421.54 482.67L425.15 484.59L428.76 486.33L432.38 487.91L435.99 489.34L439.6 490.62L443.21 491.75L446.83 492.76L450.44 493.66L454.05 494.45" stroke="#a0a0a0"/>
<path class="c" d="M313.17 429.34L316.78 429.69L320.39 430.14L324.01 430.74L327.62 431.52L331.23 432.54L334.84 433.85L338.46 435.52L342.07 437.62L345.68 440.23L349.29 443.38L352.91 447.1L356.52 451.38L360.13 456.12L363.74 461.18L367.35 466.38L370.97 471.5L374.58 476.35L378.19 480.76L381.8 484.64L385.42 487.95L389.03 490.7L392.64 492.93L396.25 494.71L399.87 496.11L403.48 497.2L407.09 498.05L410.7 498.69L414.31 499.18L417.93 499.55L421.54 499.84L425.15 500.05L428.76 500.21L432.38 500.33L435.99 500.42L439.6 500.49L443.21 500.54L446.83 500.58L450.44 500.61L454.05 500.63"/>
<path class="c" d="M313.17 424.49L316.78 425.16L320.39 426.06L324.01 427.26L327.62 428.85L331.23 430.91L334.84 433.56L338.46 436.89L342.07 440.97L345.68 445.8L349.29 451.33L352.91 457.37L356.52 463.67L360.13 469.95L363.74 475.89L367.35 481.26L370.97 485.92L374.58 489.82L378.19 492.98L381.8 495.48L385.42 497.43L389.03 498.91L392.64 500.04L396.25 500.88L399.87 501.5L403.48 501.96L407.09 502.31L410.7 502.56L414.31 502.74L417.93 502.88L421.54 502.97L425.15 503.05L428.76 503.1L432.38 503.14L435.99 503.17L439.6 503.19L443.21 503.2L446.83 503.21L450.44 503.22L454.05 503.23"/>
<path class="c" d="M313.17 427.64L316.78 427.97L320.39 428.34L324.01 428.78L327.62 429.33L331.23 430.02L334.84 430.88L338.46 431.94L342.07 433.21L345.68 434.71L349.29 436.46L352.91 438.47L356.52 440.7L360.13 443.13L363.74 445.72L367.35 448.43L370.97 451.25L374.58 454.13L378.19 457.06L381.8 459.99L385.42 462.92L389.03 465.78L392.64 468.54L396.25 471.15L399.87 473.55L403.48 475.69L407.09 477.58L410.7 479.26L414.31 480.78L417.93 482.18L421.54 483.49L425.15 484.72L428.76 485.88L432.38 486.96L435.99 487.94L439.6 488.84L443.21 489.66L446.83 490.43L450.44 491.15L454.05 491.86"/>
<line x1="313.17" y1="430.68" x2="313.17" y2="421.56" stroke="#a0a0a0" stroke-width="0.7"/>
<line x1="310.97" y1="421.56" x2="315.37" y2="421.56" stroke="#a0a0a0" stroke-width="0.7"/>
<line x1="310.97" y1="430.68" x2="315.37" y2="430.68" stroke="#a0a0a0" stroke-width="0.7"/>
<line x1="330.78" y1="432.2" x2="330.78" y2="410.92" stroke="#a0a0a0" stroke-width="0.7"/>
<line x1="328.58" y1="410.92" x2="332.98" y2="410.92" stroke="#a0a0a0" stroke-width="0.7"/>
<line x1="328.58" y1="432.2" x2="332.98" y2="432.2" stroke="#a0a0a0" stroke-width="0.7"/>
<line x1="348.39" y1="436" x2="348.39" y2="413.2" stroke="#a0a0a0" stroke-width="0.7"/>
<line x1="346.19" y1="413.2" x2="350.59" y2="413.2" stroke="#a0a0a0" stroke-width="0.7"/>
<line x1="346.19" y1="436" x2="350.59" y2="436" stroke="#a0a0a0" stroke-width="0.7"/>
<line x1="366" y1="447.4" x2="366" y2="441.32" stroke="#a0a0a0" stroke-width="0.7"/>
<line x1="363.8" y1="441.32" x2="368.2" y2="441.32" stroke="#a0a0a0" stroke-width="0.7"/>
<line x1="363.8" y1="447.4" x2="368.2" y2="447.4" stroke="#a0a0a0" stroke-width="0.7"/>
<line x1="383.61" y1="459.56" x2="383.61" y2="453.48" stroke="#a0a0a0" stroke-width="0.7"/>
<line x1="381.41" y1="453.48" x2="385.81" y2="453.48" stroke="#a0a0a0" stroke-width="0.7"/>
<line x1="381.41" y1="459.56" x2="385.81" y2="459.56" stroke="#a0a0a0" stroke-width="0.7"/>
<line x1="401.22" y1="472.48" x2="401.22" y2="466.4" stroke="#a0a0a0" stroke-width="0.7"/>
<line x1="399.02" y1="466.4" x2="403.42" y2="466.4" stroke="#a0a0a0" stroke-width="0.7"/>
<line x1="399.02" y1="472.48" x2="403.42" y2="472.48" stroke="#a0a0a0" stroke-width="0.7"/>
<line x1="418.83" y1="481.6" x2="418.83" y2="475.52" stroke="#a0a0a0" stroke-width="0.7"/>
<line x1="416.63" y1="475.52" x2="421.03" y2="475.52" stroke="#a0a0a0" stroke-width="0.7"/>
<line x1="416.63" y1="481.6" x2="421.03" y2="481.6" stroke="#a0a0a0" stroke-width="0.7"/>
<line x1="436.44" y1="489.2" x2="436.44" y2="484.64" stroke="#a0a0a0" stroke-width="0.7"/>
<line x1="434.24" y1="484.64" x2="438.64" y2="484.64" stroke="#a0a0a0" stroke-width="0.7"/>
<line x1="434.24" y1="489.2" x2="438.64" y2="489.2" stroke="#a0a0a0" stroke-width="0.7"/>
<rect class="o" x="311.07" y="424.02" width="4.2" height="4.2" rx="0.8" stroke="#a0a0a0"/>
<rect class="o" x="328.68" y="419.46" width="4.2" height="4.2" rx="0.8" stroke="#a0a0a0"/>
<rect class="o" x="346.29" y="422.5" width="4.2" height="4.2" rx="0.8" stroke="#a0a0a0"/>
<rect class="o" x="363.9" y="442.26" width="4.2" height="4.2" rx="0.8" stroke="#a0a0a0"/>
<rect class="o" x="381.51" y="454.42" width="4.2" height="4.2" rx="0.8" stroke="#a0a0a0"/>
<rect class="o" x="399.12" y="467.34" width="4.2" height="4.2" rx="0.8" stroke="#a0a0a0"/>
<rect class="o" x="416.73" y="476.46" width="4.2" height="4.2" rx="0.8" stroke="#a0a0a0"/>
<rect class="o" x="434.34" y="484.82" width="4.2" height="4.2" rx="0.8" stroke="#a0a0a0"/>
<rect class="o" x="451.95" y="495.46" width="4.2" height="4.2" rx="0.8" stroke="#a0a0a0"/>
<line x1="313.17" y1="439.04" x2="313.17" y2="425.36" stroke-width="0.7"/>
<line x1="310.97" y1="425.36" x2="315.37" y2="425.36" stroke-width="0.7"/>
<line x1="310.97" y1="439.04" x2="315.37" y2="439.04" stroke-width="0.7"/>
<line x1="330.78" y1="435.24" x2="330.78" y2="427.64" stroke-width="0.7"/>
<line x1="328.58" y1="427.64" x2="332.98" y2="427.64" stroke-width="0.7"/>
<line x1="328.58" y1="435.24" x2="332.98" y2="435.24" stroke-width="0.7"/>
<line x1="348.39" y1="441.32" x2="348.39" y2="433.72" stroke-width="0.7"/>
<line x1="346.19" y1="433.72" x2="350.59" y2="433.72" stroke-width="0.7"/>
<line x1="346.19" y1="441.32" x2="350.59" y2="441.32" stroke-width="0.7"/>
<line x1="383.61" y1="485.4" x2="383.61" y2="480.84" stroke-width="0.7"/>
<line x1="381.41" y1="480.84" x2="385.81" y2="480.84" stroke-width="0.7"/>
<line x1="381.41" y1="485.4" x2="385.81" y2="485.4" stroke-width="0.7"/>
<line x1="401.22" y1="496.8" x2="401.22" y2="492.24" stroke-width="0.7"/>
<line x1="399.02" y1="492.24" x2="403.42" y2="492.24" stroke-width="0.7"/>
<line x1="399.02" y1="496.8" x2="403.42" y2="496.8" stroke-width="0.7"/>
<circle class="m" cx="313.17" cy="432.2" r="2.3"/>
<circle class="m" cx="330.78" cy="431.44" r="2.3"/>
<circle class="m" cx="348.39" cy="437.52" r="2.3"/>
<circle class="m" cx="366" cy="470.2" r="2.3"/>
<circle class="m" cx="383.61" cy="483.12" r="2.3"/>
<circle class="m" cx="401.22" cy="494.52" r="2.3"/>
<circle class="m" cx="418.83" cy="498.32" r="2.3"/>
<circle class="m" cx="436.44" cy="500.6" r="2.3"/>
<circle class="m" cx="454.05" cy="504.4" r="2.3"/>
<line x1="313.17" y1="430.68" x2="313.17" y2="423.08" stroke-width="0.7"/>
<line x1="310.97" y1="423.08" x2="315.37" y2="423.08" stroke-width="0.7"/>
<line x1="310.97" y1="430.68" x2="315.37" y2="430.68" stroke-width="0.7"/>
<line x1="330.78" y1="436" x2="330.78" y2="419.28" stroke-width="0.7"/>
<line x1="328.58" y1="419.28" x2="332.98" y2="419.28" stroke-width="0.7"/>
<line x1="328.58" y1="436" x2="332.98" y2="436" stroke-width="0.7"/>
<line x1="348.39" y1="455.76" x2="348.39" y2="443.6" stroke-width="0.7"/>
<line x1="346.19" y1="443.6" x2="350.59" y2="443.6" stroke-width="0.7"/>
<line x1="346.19" y1="455.76" x2="350.59" y2="455.76" stroke-width="0.7"/>
<line x1="366" y1="487.68" x2="366" y2="477.04" stroke-width="0.7"/>
<line x1="363.8" y1="477.04" x2="368.2" y2="477.04" stroke-width="0.7"/>
<line x1="363.8" y1="487.68" x2="368.2" y2="487.68" stroke-width="0.7"/>
<line x1="383.61" y1="495.28" x2="383.61" y2="489.2" stroke-width="0.7"/>
<line x1="381.41" y1="489.2" x2="385.81" y2="489.2" stroke-width="0.7"/>
<line x1="381.41" y1="495.28" x2="385.81" y2="495.28" stroke-width="0.7"/>
<line x1="401.22" y1="501.36" x2="401.22" y2="496.8" stroke-width="0.7"/>
<line x1="399.02" y1="496.8" x2="403.42" y2="496.8" stroke-width="0.7"/>
<line x1="399.02" y1="501.36" x2="403.42" y2="501.36" stroke-width="0.7"/>
<line x1="454.05" y1="508.96" x2="454.05" y2="504.4" stroke-width="0.7"/>
<line x1="451.85" y1="504.4" x2="456.25" y2="504.4" stroke-width="0.7"/>
<line x1="451.85" y1="508.96" x2="456.25" y2="508.96" stroke-width="0.7"/>
<rect class="m" x="310.87" y="424.58" width="4.6" height="4.6"/>
<rect class="m" x="328.48" y="425.34" width="4.6" height="4.6"/>
<rect class="m" x="346.09" y="447.38" width="4.6" height="4.6"/>
<rect class="m" x="363.7" y="480.06" width="4.6" height="4.6"/>
<rect class="m" x="381.31" y="489.94" width="4.6" height="4.6"/>
<rect class="m" x="398.92" y="496.78" width="4.6" height="4.6"/>
<rect class="m" x="416.53" y="500.58" width="4.6" height="4.6"/>
<rect class="m" x="434.14" y="502.1" width="4.6" height="4.6"/>
<rect class="m" x="451.75" y="504.38" width="4.6" height="4.6"/>
<line x1="313.17" y1="430.68" x2="313.17" y2="423.08" stroke-width="0.7"/>
<line x1="310.97" y1="423.08" x2="315.37" y2="423.08" stroke-width="0.7"/>
<line x1="310.97" y1="430.68" x2="315.37" y2="430.68" stroke-width="0.7"/>
<line x1="330.78" y1="440.56" x2="330.78" y2="416.24" stroke-width="0.7"/>
<line x1="328.58" y1="416.24" x2="332.98" y2="416.24" stroke-width="0.7"/>
<line x1="328.58" y1="440.56" x2="332.98" y2="440.56" stroke-width="0.7"/>
<line x1="348.39" y1="440.56" x2="348.39" y2="417.76" stroke-width="0.7"/>
<line x1="346.19" y1="417.76" x2="350.59" y2="417.76" stroke-width="0.7"/>
<line x1="346.19" y1="440.56" x2="350.59" y2="440.56" stroke-width="0.7"/>
<line x1="366" y1="461.84" x2="366" y2="446.64" stroke-width="0.7"/>
<line x1="363.8" y1="446.64" x2="368.2" y2="446.64" stroke-width="0.7"/>
<line x1="363.8" y1="461.84" x2="368.2" y2="461.84" stroke-width="0.7"/>
<line x1="383.61" y1="475.52" x2="383.61" y2="457.28" stroke-width="0.7"/>
<line x1="381.41" y1="457.28" x2="385.81" y2="457.28" stroke-width="0.7"/>
<line x1="381.41" y1="475.52" x2="385.81" y2="475.52" stroke-width="0.7"/>
<line x1="401.22" y1="477.04" x2="401.22" y2="472.48" stroke-width="0.7"/>
<line x1="399.02" y1="472.48" x2="403.42" y2="472.48" stroke-width="0.7"/>
<line x1="399.02" y1="477.04" x2="403.42" y2="477.04" stroke-width="0.7"/>
<line x1="418.83" y1="489.2" x2="418.83" y2="477.04" stroke-width="0.7"/>
<line x1="416.63" y1="477.04" x2="421.03" y2="477.04" stroke-width="0.7"/>
<line x1="416.63" y1="489.2" x2="421.03" y2="489.2" stroke-width="0.7"/>
<line x1="436.44" y1="489.96" x2="436.44" y2="485.4" stroke-width="0.7"/>
<line x1="434.24" y1="485.4" x2="438.64" y2="485.4" stroke-width="0.7"/>
<line x1="434.24" y1="489.96" x2="438.64" y2="489.96" stroke-width="0.7"/>
<path class="m" d="M313.17 424.94L315.11 426.88L313.17 428.82L311.23 426.88Z"/>
<path class="m" d="M330.78 426.46L332.72 428.4L330.78 430.34L328.84 428.4Z"/>
<path class="m" d="M348.39 427.22L350.33 429.16L348.39 431.1L346.45 429.16Z"/>
<path class="m" d="M366 452.3L367.94 454.24L366 456.18L364.06 454.24Z"/>
<path class="m" d="M383.61 464.46L385.55 466.4L383.61 468.34L381.67 466.4Z"/>
<path class="m" d="M401.22 472.82L403.16 474.76L401.22 476.7L399.28 474.76Z"/>
<path class="m" d="M418.83 481.18L420.77 483.12L418.83 485.06L416.89 483.12Z"/>
<path class="m" d="M436.44 485.74L438.38 487.68L436.44 489.62L434.5 487.68Z"/>
<path class="m" d="M454.05 495.62L455.99 497.56L454.05 499.5L452.11 497.56Z"/>
<line x1="307.3" y1="409.4" x2="307.3" y2="512.4"/>
<line x1="306.9" y1="512" x2="456.99" y2="512"/>
<line x1="303.1" y1="512" x2="307.3" y2="512"/>
<text class="t" x="302.3" y="514.7" font-size="7.5" text-anchor="end">0</text>
<line x1="303.1" y1="496.8" x2="307.3" y2="496.8"/>
<text class="t" x="302.3" y="499.5" font-size="7.5" text-anchor="end">20</text>
<line x1="303.1" y1="481.6" x2="307.3" y2="481.6"/>
<text class="t" x="302.3" y="484.3" font-size="7.5" text-anchor="end">40</text>
<line x1="303.1" y1="466.4" x2="307.3" y2="466.4"/>
<text class="t" x="302.3" y="469.1" font-size="7.5" text-anchor="end">60</text>
<line x1="303.1" y1="451.2" x2="307.3" y2="451.2"/>
<text class="t" x="302.3" y="453.9" font-size="7.5" text-anchor="end">80</text>
<line x1="303.1" y1="436" x2="307.3" y2="436"/>
<text class="t" x="302.3" y="438.7" font-size="7.5" text-anchor="end">100</text>
<line x1="303.1" y1="420.8" x2="307.3" y2="420.8"/>
<text class="t" x="302.3" y="423.5" font-size="7.5" text-anchor="end">120</text>
<line x1="307.3" y1="512" x2="307.3" y2="515.2"/>
<text class="t" x="307.3" y="522.8" font-size="7.5" text-anchor="middle">−1</text>
<line x1="316.14" y1="512" x2="316.14" y2="513.76" stroke-width="0.56"/>
<line x1="321.3" y1="512" x2="321.3" y2="513.76" stroke-width="0.56"/>
<line x1="324.97" y1="512" x2="324.97" y2="513.76" stroke-width="0.56"/>
<line x1="327.81" y1="512" x2="327.81" y2="513.76" stroke-width="0.56"/>
<line x1="330.14" y1="512" x2="330.14" y2="513.76" stroke-width="0.56"/>
<line x1="332.1" y1="512" x2="332.1" y2="513.76" stroke-width="0.56"/>
<line x1="333.81" y1="512" x2="333.81" y2="513.76" stroke-width="0.56"/>
<line x1="335.31" y1="512" x2="335.31" y2="513.76" stroke-width="0.56"/>
<line x1="336.65" y1="512" x2="336.65" y2="515.2"/>
<text class="t" x="336.65" y="522.8" font-size="7.5" text-anchor="middle">0</text>
<line x1="345.49" y1="512" x2="345.49" y2="513.76" stroke-width="0.56"/>
<line x1="350.65" y1="512" x2="350.65" y2="513.76" stroke-width="0.56"/>
<line x1="354.32" y1="512" x2="354.32" y2="513.76" stroke-width="0.56"/>
<line x1="357.16" y1="512" x2="357.16" y2="513.76" stroke-width="0.56"/>
<line x1="359.49" y1="512" x2="359.49" y2="513.76" stroke-width="0.56"/>
<line x1="361.45" y1="512" x2="361.45" y2="513.76" stroke-width="0.56"/>
<line x1="363.16" y1="512" x2="363.16" y2="513.76" stroke-width="0.56"/>
<line x1="364.66" y1="512" x2="364.66" y2="513.76" stroke-width="0.56"/>
<line x1="366" y1="512" x2="366" y2="515.2"/>
<text class="t" x="366" y="522.8" font-size="7.5" text-anchor="middle">1</text>
<line x1="374.84" y1="512" x2="374.84" y2="513.76" stroke-width="0.56"/>
<line x1="380" y1="512" x2="380" y2="513.76" stroke-width="0.56"/>
<line x1="383.67" y1="512" x2="383.67" y2="513.76" stroke-width="0.56"/>
<line x1="386.51" y1="512" x2="386.51" y2="513.76" stroke-width="0.56"/>
<line x1="388.84" y1="512" x2="388.84" y2="513.76" stroke-width="0.56"/>
<line x1="390.8" y1="512" x2="390.8" y2="513.76" stroke-width="0.56"/>
<line x1="392.51" y1="512" x2="392.51" y2="513.76" stroke-width="0.56"/>
<line x1="394.01" y1="512" x2="394.01" y2="513.76" stroke-width="0.56"/>
<line x1="395.35" y1="512" x2="395.35" y2="515.2"/>
<text class="t" x="395.35" y="522.8" font-size="7.5" text-anchor="middle">2</text>
<line x1="404.19" y1="512" x2="404.19" y2="513.76" stroke-width="0.56"/>
<line x1="409.35" y1="512" x2="409.35" y2="513.76" stroke-width="0.56"/>
<line x1="413.02" y1="512" x2="413.02" y2="513.76" stroke-width="0.56"/>
<line x1="415.86" y1="512" x2="415.86" y2="513.76" stroke-width="0.56"/>
<line x1="418.19" y1="512" x2="418.19" y2="513.76" stroke-width="0.56"/>
<line x1="420.15" y1="512" x2="420.15" y2="513.76" stroke-width="0.56"/>
<line x1="421.86" y1="512" x2="421.86" y2="513.76" stroke-width="0.56"/>
<line x1="423.36" y1="512" x2="423.36" y2="513.76" stroke-width="0.56"/>
<line x1="424.7" y1="512" x2="424.7" y2="515.2"/>
<text class="t" x="424.7" y="522.8" font-size="7.5" text-anchor="middle">3</text>
<line x1="433.54" y1="512" x2="433.54" y2="513.76" stroke-width="0.56"/>
<line x1="438.7" y1="512" x2="438.7" y2="513.76" stroke-width="0.56"/>
<line x1="442.37" y1="512" x2="442.37" y2="513.76" stroke-width="0.56"/>
<line x1="445.21" y1="512" x2="445.21" y2="513.76" stroke-width="0.56"/>
<line x1="447.54" y1="512" x2="447.54" y2="513.76" stroke-width="0.56"/>
<line x1="449.5" y1="512" x2="449.5" y2="513.76" stroke-width="0.56"/>
<line x1="451.21" y1="512" x2="451.21" y2="513.76" stroke-width="0.56"/>
<line x1="452.71" y1="512" x2="452.71" y2="513.76" stroke-width="0.56"/>
<line x1="454.05" y1="512" x2="454.05" y2="515.2"/>
<text class="t" x="454.05" y="522.8" font-size="7.5" text-anchor="middle">4</text>
<text class="t" x="283" y="464.4" font-size="9.25" text-anchor="middle" transform="rotate(-90 283 464.4)">Cell viability (%)</text>
<text class="t" x="387.6" y="536.5" font-size="8.07" text-anchor="middle">Log (RBN-2397; nmol/L)</text>
<line x1="404.5" y1="415.75" x2="415.5" y2="415.75" stroke-width="0.7"/>
<circle class="m" cx="410" cy="415.75" r="2.3"/>
<text class="t" x="418.75" y="418.66" font-size="8.2">Parental</text>
<line x1="404.5" y1="431.5" x2="415.5" y2="431.5" stroke-width="0.7"/>
<rect class="m" x="407.7" y="429.2" width="4.6" height="4.6"/>
<text class="t" x="418.75" y="434.41" font-size="8.2">LentiV2-sgNC</text>
<line x1="404.5" y1="445.75" x2="415.5" y2="445.75" stroke-width="0.7"/>
<path class="m" d="M410 443.81L411.94 445.75L410 447.69L408.06 445.75Z"/>
<text class="t" x="418.75" y="448.66" font-size="8.2">LentiV2-sgNIPBL-1</text>
<line x1="404.5" y1="460" x2="415.5" y2="460" stroke="#a0a0a0" stroke-width="0.7"/>
<rect class="o" x="407.9" y="457.9" width="4.2" height="4.2" rx="0.8" stroke="#a0a0a0"/>
<text class="t" x="418.75" y="462.91" font-size="8.2">LentiV2-sgNIPBL-2</text>
<text class="t" x="382" y="400.9" font-size="9.65" text-anchor="middle">LentiV2-sgNIPBL</text>
</g>
<g>
<line x1="227.8" y1="619.3" x2="353.5" y2="619.3" stroke="#8a8a8a" stroke-width="0.5"/>
<path class="c" d="M232.71 583.45L235.73 583.57L238.75 583.72L241.77 583.91L244.8 584.14L247.82 584.42L250.84 584.77L253.86 585.19L256.88 585.7L259.9 586.33L262.93 587.08L265.95 587.99L268.97 589.07L271.99 590.35L275.01 591.84L278.03 593.57L281.05 595.55L284.08 597.78L287.1 600.25L290.12 602.93L293.14 605.78L296.16 608.75L299.18 611.77L302.21 614.78L305.23 617.71L308.25 620.49L311.27 623.09L314.29 625.46L317.31 627.59L320.33 629.47L323.36 631.1L326.38 632.5L329.4 633.7L332.42 634.7L335.44 635.54L338.46 636.24L341.49 636.82L344.51 637.29L347.53 637.68L350.55 638"/>
<path class="c" d="M232.71 577.05L235.73 577.04L238.75 577.03L241.77 577.03L244.8 577.03L247.82 577.05L250.84 577.09L253.86 577.14L256.88 577.21L259.9 577.3L262.93 577.4L265.95 577.53L268.97 577.67L271.99 577.84L275.01 578.03L278.03 578.24L281.05 578.47L284.08 578.73L287.1 579.02L290.12 579.34L293.14 579.71L296.16 580.13L299.18 580.65L302.21 581.3L305.23 582.14L308.25 583.19L311.27 584.44L314.29 585.82L317.31 587.26L320.33 588.72L323.36 590.14L326.38 591.68L329.4 593.6L332.42 596.16L335.44 599.62L338.46 604.17L341.49 609.7L344.51 615.96L347.53 622.71L350.55 629.7"/>
<line x1="232.71" y1="590.7" x2="232.71" y2="580.3" stroke-width="0.7"/>
<line x1="231.01" y1="580.3" x2="234.41" y2="580.3" stroke-width="0.7"/>
<line x1="231.01" y1="590.7" x2="234.41" y2="590.7" stroke-width="0.7"/>
<line x1="247.44" y1="590.05" x2="247.44" y2="573.15" stroke-width="0.7"/>
<line x1="245.74" y1="573.15" x2="249.14" y2="573.15" stroke-width="0.7"/>
<line x1="245.74" y1="590.05" x2="249.14" y2="590.05" stroke-width="0.7"/>
<line x1="262.17" y1="595.25" x2="262.17" y2="578.35" stroke-width="0.7"/>
<line x1="260.47" y1="578.35" x2="263.87" y2="578.35" stroke-width="0.7"/>
<line x1="260.47" y1="595.25" x2="263.87" y2="595.25" stroke-width="0.7"/>
<line x1="276.9" y1="603.7" x2="276.9" y2="585.5" stroke-width="0.7"/>
<line x1="275.2" y1="585.5" x2="278.6" y2="585.5" stroke-width="0.7"/>
<line x1="275.2" y1="603.7" x2="278.6" y2="603.7" stroke-width="0.7"/>
<line x1="306.36" y1="623.85" x2="306.36" y2="613.45" stroke-width="0.7"/>
<line x1="304.66" y1="613.45" x2="308.06" y2="613.45" stroke-width="0.7"/>
<line x1="304.66" y1="623.85" x2="308.06" y2="623.85" stroke-width="0.7"/>
<line x1="321.09" y1="638.8" x2="321.09" y2="625.8" stroke-width="0.7"/>
<line x1="319.39" y1="625.8" x2="322.79" y2="625.8" stroke-width="0.7"/>
<line x1="319.39" y1="638.8" x2="322.79" y2="638.8" stroke-width="0.7"/>
<line x1="335.82" y1="636.85" x2="335.82" y2="626.45" stroke-width="0.7"/>
<line x1="334.12" y1="626.45" x2="337.52" y2="626.45" stroke-width="0.7"/>
<line x1="334.12" y1="636.85" x2="337.52" y2="636.85" stroke-width="0.7"/>
<circle class="m" cx="232.71" cy="585.5" r="2"/>
<circle class="m" cx="247.44" cy="581.6" r="2"/>
<circle class="m" cx="262.17" cy="586.8" r="2"/>
<circle class="m" cx="276.9" cy="594.6" r="2"/>
<circle class="m" cx="291.63" cy="603.05" r="2"/>
<circle class="m" cx="306.36" cy="618.65" r="2"/>
<circle class="m" cx="321.09" cy="632.3" r="2"/>
<circle class="m" cx="335.82" cy="631.65" r="2"/>
<circle class="m" cx="350.55" cy="640.1" r="2"/>
<line x1="232.71" y1="581.6" x2="232.71" y2="569.9" stroke-width="0.7"/>
<line x1="231.01" y1="569.9" x2="234.41" y2="569.9" stroke-width="0.7"/>
<line x1="231.01" y1="581.6" x2="234.41" y2="581.6" stroke-width="0.7"/>
<line x1="247.44" y1="586.8" x2="247.44" y2="573.8" stroke-width="0.7"/>
<line x1="245.74" y1="573.8" x2="249.14" y2="573.8" stroke-width="0.7"/>
<line x1="245.74" y1="586.8" x2="249.14" y2="586.8" stroke-width="0.7"/>
<line x1="262.17" y1="576.4" x2="262.17" y2="569.9" stroke-width="0.7"/>
<line x1="260.47" y1="569.9" x2="263.87" y2="569.9" stroke-width="0.7"/>
<line x1="260.47" y1="576.4" x2="263.87" y2="576.4" stroke-width="0.7"/>
<line x1="276.9" y1="585.76" x2="276.9" y2="574.06" stroke-width="0.7"/>
<line x1="275.2" y1="574.06" x2="278.6" y2="574.06" stroke-width="0.7"/>
<line x1="275.2" y1="585.76" x2="278.6" y2="585.76" stroke-width="0.7"/>
<line x1="291.63" y1="584.52" x2="291.63" y2="578.02" stroke-width="0.7"/>
<line x1="289.93" y1="578.02" x2="293.33" y2="578.02" stroke-width="0.7"/>
<line x1="289.93" y1="584.52" x2="293.33" y2="584.52" stroke-width="0.7"/>
<line x1="306.36" y1="590.05" x2="306.36" y2="578.35" stroke-width="0.7"/>
<line x1="304.66" y1="578.35" x2="308.06" y2="578.35" stroke-width="0.7"/>
<line x1="304.66" y1="590.05" x2="308.06" y2="590.05" stroke-width="0.7"/>
<line x1="321.09" y1="596.88" x2="321.09" y2="586.47" stroke-width="0.7"/>
<line x1="319.39" y1="586.47" x2="322.79" y2="586.47" stroke-width="0.7"/>
<line x1="319.39" y1="596.88" x2="322.79" y2="596.88" stroke-width="0.7"/>
<line x1="335.82" y1="601.29" x2="335.82" y2="594.79" stroke-width="0.7"/>
<line x1="334.12" y1="594.79" x2="337.52" y2="594.79" stroke-width="0.7"/>
<line x1="334.12" y1="601.29" x2="337.52" y2="601.29" stroke-width="0.7"/>
<rect class="m" x="230.81" y="573.85" width="3.8" height="3.8"/>
<rect class="m" x="245.54" y="578.4" width="3.8" height="3.8"/>
<rect class="m" x="260.27" y="571.25" width="3.8" height="3.8"/>
<rect class="m" x="275" y="578.01" width="3.8" height="3.8"/>
<rect class="m" x="289.73" y="579.38" width="3.8" height="3.8"/>
<rect class="m" x="304.46" y="582.3" width="3.8" height="3.8"/>
<rect class="m" x="319.19" y="589.77" width="3.8" height="3.8"/>
<rect class="m" x="333.92" y="596.14" width="3.8" height="3.8"/>
<rect class="m" x="348.65" y="628.71" width="3.8" height="3.8"/>
<line x1="227.8" y1="567.3" x2="227.8" y2="652.2"/>
<line x1="227.4" y1="651.8" x2="353.5" y2="651.8"/>
<line x1="223.8" y1="651.8" x2="227.8" y2="651.8"/>
<text class="t" x="223.3" y="653.96" font-size="6" text-anchor="end">0</text>
<line x1="223.8" y1="638.8" x2="227.8" y2="638.8"/>
<text class="t" x="223.3" y="640.96" font-size="6" text-anchor="end">20</text>
<line x1="223.8" y1="625.8" x2="227.8" y2="625.8"/>
<text class="t" x="223.3" y="627.96" font-size="6" text-anchor="end">40</text>
<line x1="223.8" y1="612.8" x2="227.8" y2="612.8"/>
<text class="t" x="223.3" y="614.96" font-size="6" text-anchor="end">60</text>
<line x1="223.8" y1="599.8" x2="227.8" y2="599.8"/>
<text class="t" x="223.3" y="601.96" font-size="6" text-anchor="end">80</text>
<line x1="223.8" y1="586.8" x2="227.8" y2="586.8"/>
<text class="t" x="223.3" y="588.96" font-size="6" text-anchor="end">100</text>
<line x1="223.8" y1="573.8" x2="227.8" y2="573.8"/>
<text class="t" x="223.3" y="575.96" font-size="6" text-anchor="end">120</text>
<line x1="227.8" y1="651.8" x2="227.8" y2="654"/>
<text class="t" x="227.8" y="661.4" font-size="6" text-anchor="middle">−1</text>
<line x1="235.19" y1="651.8" x2="235.19" y2="653.01" stroke-width="0.56"/>
<line x1="239.51" y1="651.8" x2="239.51" y2="653.01" stroke-width="0.56"/>
<line x1="242.58" y1="651.8" x2="242.58" y2="653.01" stroke-width="0.56"/>
<line x1="244.96" y1="651.8" x2="244.96" y2="653.01" stroke-width="0.56"/>
<line x1="246.9" y1="651.8" x2="246.9" y2="653.01" stroke-width="0.56"/>
<line x1="248.55" y1="651.8" x2="248.55" y2="653.01" stroke-width="0.56"/>
<line x1="249.97" y1="651.8" x2="249.97" y2="653.01" stroke-width="0.56"/>
<line x1="251.23" y1="651.8" x2="251.23" y2="653.01" stroke-width="0.56"/>
<line x1="252.35" y1="651.8" x2="252.35" y2="654"/>
<text class="t" x="252.35" y="661.4" font-size="6" text-anchor="middle">0</text>
<line x1="259.74" y1="651.8" x2="259.74" y2="653.01" stroke-width="0.56"/>
<line x1="264.06" y1="651.8" x2="264.06" y2="653.01" stroke-width="0.56"/>
<line x1="267.13" y1="651.8" x2="267.13" y2="653.01" stroke-width="0.56"/>
<line x1="269.51" y1="651.8" x2="269.51" y2="653.01" stroke-width="0.56"/>
<line x1="271.45" y1="651.8" x2="271.45" y2="653.01" stroke-width="0.56"/>
<line x1="273.1" y1="651.8" x2="273.1" y2="653.01" stroke-width="0.56"/>
<line x1="274.52" y1="651.8" x2="274.52" y2="653.01" stroke-width="0.56"/>
<line x1="275.78" y1="651.8" x2="275.78" y2="653.01" stroke-width="0.56"/>
<line x1="276.9" y1="651.8" x2="276.9" y2="654"/>
<text class="t" x="276.9" y="661.4" font-size="6" text-anchor="middle">1</text>
<line x1="284.29" y1="651.8" x2="284.29" y2="653.01" stroke-width="0.56"/>
<line x1="288.61" y1="651.8" x2="288.61" y2="653.01" stroke-width="0.56"/>
<line x1="291.68" y1="651.8" x2="291.68" y2="653.01" stroke-width="0.56"/>
<line x1="294.06" y1="651.8" x2="294.06" y2="653.01" stroke-width="0.56"/>
<line x1="296" y1="651.8" x2="296" y2="653.01" stroke-width="0.56"/>
<line x1="297.65" y1="651.8" x2="297.65" y2="653.01" stroke-width="0.56"/>
<line x1="299.07" y1="651.8" x2="299.07" y2="653.01" stroke-width="0.56"/>
<line x1="300.33" y1="651.8" x2="300.33" y2="653.01" stroke-width="0.56"/>
<line x1="301.45" y1="651.8" x2="301.45" y2="654"/>
<text class="t" x="301.45" y="661.4" font-size="6" text-anchor="middle">2</text>
<line x1="308.84" y1="651.8" x2="308.84" y2="653.01" stroke-width="0.56"/>
<line x1="313.16" y1="651.8" x2="313.16" y2="653.01" stroke-width="0.56"/>
<line x1="316.23" y1="651.8" x2="316.23" y2="653.01" stroke-width="0.56"/>
<line x1="318.61" y1="651.8" x2="318.61" y2="653.01" stroke-width="0.56"/>
<line x1="320.55" y1="651.8" x2="320.55" y2="653.01" stroke-width="0.56"/>
<line x1="322.2" y1="651.8" x2="322.2" y2="653.01" stroke-width="0.56"/>
<line x1="323.62" y1="651.8" x2="323.62" y2="653.01" stroke-width="0.56"/>
<line x1="324.88" y1="651.8" x2="324.88" y2="653.01" stroke-width="0.56"/>
<line x1="326" y1="651.8" x2="326" y2="654"/>
<text class="t" x="326" y="661.4" font-size="6" text-anchor="middle">3</text>
<line x1="333.39" y1="651.8" x2="333.39" y2="653.01" stroke-width="0.56"/>
<line x1="337.71" y1="651.8" x2="337.71" y2="653.01" stroke-width="0.56"/>
<line x1="340.78" y1="651.8" x2="340.78" y2="653.01" stroke-width="0.56"/>
<line x1="343.16" y1="651.8" x2="343.16" y2="653.01" stroke-width="0.56"/>
<line x1="345.1" y1="651.8" x2="345.1" y2="653.01" stroke-width="0.56"/>
<line x1="346.75" y1="651.8" x2="346.75" y2="653.01" stroke-width="0.56"/>
<line x1="348.17" y1="651.8" x2="348.17" y2="653.01" stroke-width="0.56"/>
<line x1="349.43" y1="651.8" x2="349.43" y2="653.01" stroke-width="0.56"/>
<line x1="350.55" y1="651.8" x2="350.55" y2="654"/>
<text class="t" x="350.55" y="661.4" font-size="6" text-anchor="middle">4</text>
<text class="t" x="207.4" y="611.8" font-size="8.5" text-anchor="middle" transform="rotate(-90 207.4 611.8)">Cell viability (%)</text>
<text class="t" x="295.4" y="672.5" font-size="6.8" text-anchor="middle">Log (RBN-2397; nmol/L)</text>
<line x1="237.9" y1="629.2" x2="246.9" y2="629.2" stroke-width="0.7"/>
<circle class="m" cx="242.4" cy="629.2" r="2"/>
<text class="t" x="250" y="631.58" font-size="6.7">siNC</text>
<line x1="237.9" y1="641.2" x2="246.9" y2="641.2" stroke-width="0.7"/>
<rect class="m" x="240.5" y="639.3" width="3.8" height="3.8"/>
<text class="t" x="250" y="643.58" font-size="6.7">siAHR</text>
</g>
<g>
<line x1="390" y1="619.2" x2="515.44" y2="619.2" stroke="#8a8a8a" stroke-width="0.5"/>
<path class="c" d="M394.9 583.24L397.92 583.36L400.93 583.51L403.95 583.7L406.96 583.93L409.98 584.21L412.99 584.56L416.01 584.98L419.02 585.5L422.04 586.13L425.05 586.88L428.07 587.79L431.08 588.88L434.1 590.16L437.12 591.66L440.13 593.39L443.15 595.38L446.16 597.62L449.18 600.09L452.19 602.78L455.21 605.64L458.22 608.61L461.24 611.65L464.25 614.67L467.27 617.6L470.28 620.4L473.3 623L476.32 625.38L479.33 627.51L482.35 629.4L485.36 631.04L488.38 632.44L491.39 633.64L494.41 634.65L497.42 635.49L500.44 636.19L503.45 636.77L506.47 637.25L509.48 637.64L512.5 637.96"/>
<path class="c" d="M394.9 579.43L397.92 579.63L400.93 579.84L403.95 580.07L406.96 580.31L409.98 580.57L412.99 580.86L416.01 581.19L419.02 581.57L422.04 582L425.05 582.49L428.07 583.05L431.08 583.66L434.1 584.31L437.12 584.99L440.13 585.69L443.15 586.41L446.16 587.17L449.18 587.98L452.19 588.86L455.21 589.84L458.22 590.91L461.24 592.09L464.25 593.4L467.27 594.83L470.28 596.4L473.3 598.1L476.32 599.91L479.33 601.82L482.35 603.82L485.36 605.9L488.38 608.11L491.39 610.56L494.41 613.32L497.42 616.49L500.44 620.14L503.45 624.21L506.47 628.6L509.48 633.21L512.5 637.91"/>
<line x1="394.9" y1="590.51" x2="394.9" y2="580.08" stroke-width="0.7"/>
<line x1="393.2" y1="580.08" x2="396.6" y2="580.08" stroke-width="0.7"/>
<line x1="393.2" y1="590.51" x2="396.6" y2="590.51" stroke-width="0.7"/>
<line x1="409.6" y1="589.86" x2="409.6" y2="572.91" stroke-width="0.7"/>
<line x1="407.9" y1="572.91" x2="411.3" y2="572.91" stroke-width="0.7"/>
<line x1="407.9" y1="589.86" x2="411.3" y2="589.86" stroke-width="0.7"/>
<line x1="424.3" y1="595.08" x2="424.3" y2="578.12" stroke-width="0.7"/>
<line x1="422.6" y1="578.12" x2="426" y2="578.12" stroke-width="0.7"/>
<line x1="422.6" y1="595.08" x2="426" y2="595.08" stroke-width="0.7"/>
<line x1="439" y1="603.55" x2="439" y2="585.3" stroke-width="0.7"/>
<line x1="437.3" y1="585.3" x2="440.7" y2="585.3" stroke-width="0.7"/>
<line x1="437.3" y1="603.55" x2="440.7" y2="603.55" stroke-width="0.7"/>
<line x1="468.4" y1="623.76" x2="468.4" y2="613.33" stroke-width="0.7"/>
<line x1="466.7" y1="613.33" x2="470.1" y2="613.33" stroke-width="0.7"/>
<line x1="466.7" y1="623.76" x2="470.1" y2="623.76" stroke-width="0.7"/>
<line x1="483.1" y1="638.76" x2="483.1" y2="625.72" stroke-width="0.7"/>
<line x1="481.4" y1="625.72" x2="484.8" y2="625.72" stroke-width="0.7"/>
<line x1="481.4" y1="638.76" x2="484.8" y2="638.76" stroke-width="0.7"/>
<line x1="497.8" y1="636.8" x2="497.8" y2="626.37" stroke-width="0.7"/>
<line x1="496.1" y1="626.37" x2="499.5" y2="626.37" stroke-width="0.7"/>
<line x1="496.1" y1="636.8" x2="499.5" y2="636.8" stroke-width="0.7"/>
<circle class="m" cx="394.9" cy="585.3" r="2"/>
<circle class="m" cx="409.6" cy="581.38" r="2"/>
<circle class="m" cx="424.3" cy="586.6" r="2"/>
<circle class="m" cx="439" cy="594.42" r="2"/>
<circle class="m" cx="453.7" cy="602.9" r="2"/>
<circle class="m" cx="468.4" cy="618.55" r="2"/>
<circle class="m" cx="483.1" cy="632.24" r="2"/>
<circle class="m" cx="497.8" cy="631.59" r="2"/>
<circle class="m" cx="512.5" cy="640.06" r="2"/>
<line x1="394.9" y1="586.6" x2="394.9" y2="580.08" stroke-width="0.7"/>
<line x1="393.2" y1="580.08" x2="396.6" y2="580.08" stroke-width="0.7"/>
<line x1="393.2" y1="586.6" x2="396.6" y2="586.6" stroke-width="0.7"/>
<line x1="409.6" y1="586.6" x2="409.6" y2="573.56" stroke-width="0.7"/>
<line x1="407.9" y1="573.56" x2="411.3" y2="573.56" stroke-width="0.7"/>
<line x1="407.9" y1="586.6" x2="411.3" y2="586.6" stroke-width="0.7"/>
<line x1="424.3" y1="590.51" x2="424.3" y2="569.65" stroke-width="0.7"/>
<line x1="422.6" y1="569.65" x2="426" y2="569.65" stroke-width="0.7"/>
<line x1="422.6" y1="590.51" x2="426" y2="590.51" stroke-width="0.7"/>
<line x1="439" y1="586.34" x2="439" y2="575.12" stroke-width="0.7"/>
<line x1="437.3" y1="575.12" x2="440.7" y2="575.12" stroke-width="0.7"/>
<line x1="437.3" y1="586.34" x2="440.7" y2="586.34" stroke-width="0.7"/>
<line x1="453.7" y1="598.08" x2="453.7" y2="582.95" stroke-width="0.7"/>
<line x1="452" y1="582.95" x2="455.4" y2="582.95" stroke-width="0.7"/>
<line x1="452" y1="598.08" x2="455.4" y2="598.08" stroke-width="0.7"/>
<line x1="468.4" y1="600.29" x2="468.4" y2="595.08" stroke-width="0.7"/>
<line x1="466.7" y1="595.08" x2="470.1" y2="595.08" stroke-width="0.7"/>
<line x1="466.7" y1="600.29" x2="470.1" y2="600.29" stroke-width="0.7"/>
<line x1="483.1" y1="607.66" x2="483.1" y2="603.75" stroke-width="0.7"/>
<line x1="481.4" y1="603.75" x2="484.8" y2="603.75" stroke-width="0.7"/>
<line x1="481.4" y1="607.66" x2="484.8" y2="607.66" stroke-width="0.7"/>
<line x1="497.8" y1="618.09" x2="497.8" y2="605.05" stroke-width="0.7"/>
<line x1="496.1" y1="605.05" x2="499.5" y2="605.05" stroke-width="0.7"/>
<line x1="496.1" y1="618.09" x2="499.5" y2="618.09" stroke-width="0.7"/>
<line x1="512.5" y1="641.04" x2="512.5" y2="635.83" stroke-width="0.7"/>
<line x1="510.8" y1="635.83" x2="514.2" y2="635.83" stroke-width="0.7"/>
<line x1="510.8" y1="641.04" x2="514.2" y2="641.04" stroke-width="0.7"/>
<rect class="m" x="393" y="581.44" width="3.8" height="3.8"/>
<rect class="m" x="407.7" y="578.18" width="3.8" height="3.8"/>
<rect class="m" x="422.4" y="578.18" width="3.8" height="3.8"/>
<rect class="m" x="437.1" y="578.83" width="3.8" height="3.8"/>
<rect class="m" x="451.8" y="588.61" width="3.8" height="3.8"/>
<rect class="m" x="466.5" y="595.78" width="3.8" height="3.8"/>
<rect class="m" x="481.2" y="603.8" width="3.8" height="3.8"/>
<rect class="m" x="495.9" y="609.67" width="3.8" height="3.8"/>
<rect class="m" x="510.6" y="636.53" width="3.8" height="3.8"/>
<line x1="390" y1="567.43" x2="390" y2="652.2"/>
<line x1="389.6" y1="651.8" x2="515.44" y2="651.8"/>
<line x1="386" y1="651.8" x2="390" y2="651.8"/>
<text class="t" x="385.5" y="653.96" font-size="6" text-anchor="end">0</text>
<line x1="386" y1="638.76" x2="390" y2="638.76"/>
<text class="t" x="385.5" y="640.92" font-size="6" text-anchor="end">20</text>
<line x1="386" y1="625.72" x2="390" y2="625.72"/>
<text class="t" x="385.5" y="627.88" font-size="6" text-anchor="end">40</text>
<line x1="386" y1="612.68" x2="390" y2="612.68"/>
<text class="t" x="385.5" y="614.84" font-size="6" text-anchor="end">60</text>
<line x1="386" y1="599.64" x2="390" y2="599.64"/>
<text class="t" x="385.5" y="601.8" font-size="6" text-anchor="end">80</text>
<line x1="386" y1="586.6" x2="390" y2="586.6"/>
<text class="t" x="385.5" y="588.76" font-size="6" text-anchor="end">100</text>
<line x1="386" y1="573.56" x2="390" y2="573.56"/>
<text class="t" x="385.5" y="575.72" font-size="6" text-anchor="end">120</text>
<line x1="390" y1="651.8" x2="390" y2="654"/>
<text class="t" x="390" y="661.4" font-size="6" text-anchor="middle">−1</text>
<line x1="397.38" y1="651.8" x2="397.38" y2="653.01" stroke-width="0.56"/>
<line x1="401.69" y1="651.8" x2="401.69" y2="653.01" stroke-width="0.56"/>
<line x1="404.75" y1="651.8" x2="404.75" y2="653.01" stroke-width="0.56"/>
<line x1="407.12" y1="651.8" x2="407.12" y2="653.01" stroke-width="0.56"/>
<line x1="409.06" y1="651.8" x2="409.06" y2="653.01" stroke-width="0.56"/>
<line x1="410.7" y1="651.8" x2="410.7" y2="653.01" stroke-width="0.56"/>
<line x1="412.13" y1="651.8" x2="412.13" y2="653.01" stroke-width="0.56"/>
<line x1="413.38" y1="651.8" x2="413.38" y2="653.01" stroke-width="0.56"/>
<line x1="414.5" y1="651.8" x2="414.5" y2="654"/>
<text class="t" x="414.5" y="661.4" font-size="6" text-anchor="middle">0</text>
<line x1="421.88" y1="651.8" x2="421.88" y2="653.01" stroke-width="0.56"/>
<line x1="426.19" y1="651.8" x2="426.19" y2="653.01" stroke-width="0.56"/>
<line x1="429.25" y1="651.8" x2="429.25" y2="653.01" stroke-width="0.56"/>
<line x1="431.62" y1="651.8" x2="431.62" y2="653.01" stroke-width="0.56"/>
<line x1="433.56" y1="651.8" x2="433.56" y2="653.01" stroke-width="0.56"/>
<line x1="435.2" y1="651.8" x2="435.2" y2="653.01" stroke-width="0.56"/>
<line x1="436.63" y1="651.8" x2="436.63" y2="653.01" stroke-width="0.56"/>
<line x1="437.88" y1="651.8" x2="437.88" y2="653.01" stroke-width="0.56"/>
<line x1="439" y1="651.8" x2="439" y2="654"/>
<text class="t" x="439" y="661.4" font-size="6" text-anchor="middle">1</text>
<line x1="446.38" y1="651.8" x2="446.38" y2="653.01" stroke-width="0.56"/>
<line x1="450.69" y1="651.8" x2="450.69" y2="653.01" stroke-width="0.56"/>
<line x1="453.75" y1="651.8" x2="453.75" y2="653.01" stroke-width="0.56"/>
<line x1="456.12" y1="651.8" x2="456.12" y2="653.01" stroke-width="0.56"/>
<line x1="458.06" y1="651.8" x2="458.06" y2="653.01" stroke-width="0.56"/>
<line x1="459.7" y1="651.8" x2="459.7" y2="653.01" stroke-width="0.56"/>
<line x1="461.13" y1="651.8" x2="461.13" y2="653.01" stroke-width="0.56"/>
<line x1="462.38" y1="651.8" x2="462.38" y2="653.01" stroke-width="0.56"/>
<line x1="463.5" y1="651.8" x2="463.5" y2="654"/>
<text class="t" x="463.5" y="661.4" font-size="6" text-anchor="middle">2</text>
<line x1="470.88" y1="651.8" x2="470.88" y2="653.01" stroke-width="0.56"/>
<line x1="475.19" y1="651.8" x2="475.19" y2="653.01" stroke-width="0.56"/>
<line x1="478.25" y1="651.8" x2="478.25" y2="653.01" stroke-width="0.56"/>
<line x1="480.62" y1="651.8" x2="480.62" y2="653.01" stroke-width="0.56"/>
<line x1="482.56" y1="651.8" x2="482.56" y2="653.01" stroke-width="0.56"/>
<line x1="484.2" y1="651.8" x2="484.2" y2="653.01" stroke-width="0.56"/>
<line x1="485.63" y1="651.8" x2="485.63" y2="653.01" stroke-width="0.56"/>
<line x1="486.88" y1="651.8" x2="486.88" y2="653.01" stroke-width="0.56"/>
<line x1="488" y1="651.8" x2="488" y2="654"/>
<text class="t" x="488" y="661.4" font-size="6" text-anchor="middle">3</text>
<line x1="495.38" y1="651.8" x2="495.38" y2="653.01" stroke-width="0.56"/>
<line x1="499.69" y1="651.8" x2="499.69" y2="653.01" stroke-width="0.56"/>
<line x1="502.75" y1="651.8" x2="502.75" y2="653.01" stroke-width="0.56"/>
<line x1="505.12" y1="651.8" x2="505.12" y2="653.01" stroke-width="0.56"/>
<line x1="507.06" y1="651.8" x2="507.06" y2="653.01" stroke-width="0.56"/>
<line x1="508.7" y1="651.8" x2="508.7" y2="653.01" stroke-width="0.56"/>
<line x1="510.13" y1="651.8" x2="510.13" y2="653.01" stroke-width="0.56"/>
<line x1="511.38" y1="651.8" x2="511.38" y2="653.01" stroke-width="0.56"/>
<line x1="512.5" y1="651.8" x2="512.5" y2="654"/>
<text class="t" x="512.5" y="661.4" font-size="6" text-anchor="middle">4</text>
<text class="t" x="369.6" y="611.68" font-size="8.5" text-anchor="middle" transform="rotate(-90 369.6 611.68)">Cell viability (%)</text>
<text class="t" x="456.9" y="672.5" font-size="6.8" text-anchor="middle">Log (RBN-2397; nmol/L)</text>
<line x1="402" y1="631.5" x2="411" y2="631.5" stroke-width="0.7"/>
<circle class="m" cx="406.5" cy="631.5" r="2"/>
<text class="t" x="414.2" y="633.88" font-size="6.7">siNC</text>
<line x1="402" y1="643.1" x2="411" y2="643.1" stroke-width="0.7"/>
<rect class="m" x="404.6" y="641.2" width="3.8" height="3.8"/>
<text class="t" x="414.2" y="645.48" font-size="6.7">siMAU2</text>
</g>
<g>
<line x1="227.8" y1="727.05" x2="353.5" y2="727.05" stroke="#8a8a8a" stroke-width="0.5"/>
<path class="c" d="M232.71 690.92L235.73 691.05L238.75 691.2L241.77 691.39L244.8 691.62L247.82 691.9L250.84 692.25L253.86 692.68L256.88 693.2L259.9 693.82L262.93 694.58L265.95 695.5L268.97 696.59L271.99 697.87L275.01 699.38L278.03 701.13L281.05 703.12L284.08 705.37L287.1 707.85L290.12 710.55L293.14 713.42L296.16 716.42L299.18 719.46L302.21 722.5L305.23 725.45L308.25 728.25L311.27 730.87L314.29 733.26L317.31 735.4L320.33 737.29L323.36 738.94L326.38 740.35L329.4 741.56L332.42 742.57L335.44 743.42L338.46 744.12L341.49 744.7L344.51 745.18L347.53 745.58L350.55 745.9"/>
<path class="c" d="M232.71 686.96L235.73 687.21L238.75 687.46L241.77 687.73L244.8 688.04L247.82 688.39L250.84 688.78L253.86 689.23L256.88 689.73L259.9 690.3L262.93 690.93L265.95 691.61L268.97 692.33L271.99 693.07L275.01 693.8L278.03 694.49L281.05 695.15L284.08 695.82L287.1 696.52L290.12 697.29L293.14 698.15L296.16 699.14L299.18 700.22L302.21 701.4L305.23 702.65L308.25 703.98L311.27 705.37L314.29 706.84L317.31 708.38L320.33 710L323.36 711.7L326.38 713.49L329.4 715.4L332.42 717.42L335.44 719.57L338.46 721.85L341.49 724.26L344.51 726.76L347.53 729.31L350.55 731.9"/>
<line x1="232.71" y1="698.23" x2="232.71" y2="687.75" stroke-width="0.7"/>
<line x1="231.01" y1="687.75" x2="234.41" y2="687.75" stroke-width="0.7"/>
<line x1="231.01" y1="698.23" x2="234.41" y2="698.23" stroke-width="0.7"/>
<line x1="247.44" y1="697.57" x2="247.44" y2="680.54" stroke-width="0.7"/>
<line x1="245.74" y1="680.54" x2="249.14" y2="680.54" stroke-width="0.7"/>
<line x1="245.74" y1="697.57" x2="249.14" y2="697.57" stroke-width="0.7"/>
<line x1="262.17" y1="702.81" x2="262.17" y2="685.78" stroke-width="0.7"/>
<line x1="260.47" y1="685.78" x2="263.87" y2="685.78" stroke-width="0.7"/>
<line x1="260.47" y1="702.81" x2="263.87" y2="702.81" stroke-width="0.7"/>
<line x1="276.9" y1="711.33" x2="276.9" y2="692.99" stroke-width="0.7"/>
<line x1="275.2" y1="692.99" x2="278.6" y2="692.99" stroke-width="0.7"/>
<line x1="275.2" y1="711.33" x2="278.6" y2="711.33" stroke-width="0.7"/>
<line x1="306.36" y1="731.63" x2="306.36" y2="721.15" stroke-width="0.7"/>
<line x1="304.66" y1="721.15" x2="308.06" y2="721.15" stroke-width="0.7"/>
<line x1="304.66" y1="731.63" x2="308.06" y2="731.63" stroke-width="0.7"/>
<line x1="321.09" y1="746.7" x2="321.09" y2="733.6" stroke-width="0.7"/>
<line x1="319.39" y1="733.6" x2="322.79" y2="733.6" stroke-width="0.7"/>
<line x1="319.39" y1="746.7" x2="322.79" y2="746.7" stroke-width="0.7"/>
<line x1="335.82" y1="744.73" x2="335.82" y2="734.25" stroke-width="0.7"/>
<line x1="334.12" y1="734.25" x2="337.52" y2="734.25" stroke-width="0.7"/>
<line x1="334.12" y1="744.73" x2="337.52" y2="744.73" stroke-width="0.7"/>
<circle class="m" cx="232.71" cy="692.99" r="2"/>
<circle class="m" cx="247.44" cy="689.06" r="2"/>
<circle class="m" cx="262.17" cy="694.3" r="2"/>
<circle class="m" cx="276.9" cy="702.16" r="2"/>
<circle class="m" cx="291.63" cy="710.67" r="2"/>
<circle class="m" cx="306.36" cy="726.39" r="2"/>
<circle class="m" cx="321.09" cy="740.15" r="2"/>
<circle class="m" cx="335.82" cy="739.5" r="2"/>
<circle class="m" cx="350.55" cy="748.01" r="2"/>
<line x1="232.71" y1="689.06" x2="232.71" y2="685.13" stroke-width="0.7"/>
<line x1="231.01" y1="685.13" x2="234.41" y2="685.13" stroke-width="0.7"/>
<line x1="231.01" y1="689.06" x2="234.41" y2="689.06" stroke-width="0.7"/>
<line x1="247.44" y1="695.61" x2="247.44" y2="681.2" stroke-width="0.7"/>
<line x1="245.74" y1="681.2" x2="249.14" y2="681.2" stroke-width="0.7"/>
<line x1="245.74" y1="695.61" x2="249.14" y2="695.61" stroke-width="0.7"/>
<line x1="262.17" y1="697.57" x2="262.17" y2="684.47" stroke-width="0.7"/>
<line x1="260.47" y1="684.47" x2="263.87" y2="684.47" stroke-width="0.7"/>
<line x1="260.47" y1="697.57" x2="263.87" y2="697.57" stroke-width="0.7"/>
<line x1="276.9" y1="705.57" x2="276.9" y2="689.85" stroke-width="0.7"/>
<line x1="275.2" y1="689.85" x2="278.6" y2="689.85" stroke-width="0.7"/>
<line x1="275.2" y1="705.57" x2="278.6" y2="705.57" stroke-width="0.7"/>
<line x1="291.63" y1="703.99" x2="291.63" y2="688.27" stroke-width="0.7"/>
<line x1="289.93" y1="688.27" x2="293.33" y2="688.27" stroke-width="0.7"/>
<line x1="289.93" y1="703.99" x2="293.33" y2="703.99" stroke-width="0.7"/>
<line x1="306.36" y1="707.01" x2="306.36" y2="696.53" stroke-width="0.7"/>
<line x1="304.66" y1="696.53" x2="308.06" y2="696.53" stroke-width="0.7"/>
<line x1="304.66" y1="707.01" x2="308.06" y2="707.01" stroke-width="0.7"/>
<line x1="335.82" y1="724.3" x2="335.82" y2="709.89" stroke-width="0.7"/>
<line x1="334.12" y1="709.89" x2="337.52" y2="709.89" stroke-width="0.7"/>
<line x1="334.12" y1="724.3" x2="337.52" y2="724.3" stroke-width="0.7"/>
<line x1="350.55" y1="736.68" x2="350.55" y2="731.44" stroke-width="0.7"/>
<line x1="348.85" y1="731.44" x2="352.25" y2="731.44" stroke-width="0.7"/>
<line x1="348.85" y1="736.68" x2="352.25" y2="736.68" stroke-width="0.7"/>
<rect class="m" x="230.81" y="685.19" width="3.8" height="3.8"/>
<rect class="m" x="245.54" y="686.5" width="3.8" height="3.8"/>
<rect class="m" x="260.27" y="689.12" width="3.8" height="3.8"/>
<rect class="m" x="275" y="695.81" width="3.8" height="3.8"/>
<rect class="m" x="289.73" y="694.23" width="3.8" height="3.8"/>
<rect class="m" x="304.46" y="699.87" width="3.8" height="3.8"/>
<rect class="m" x="319.19" y="707.92" width="3.8" height="3.8"/>
<rect class="m" x="333.92" y="715.19" width="3.8" height="3.8"/>
<rect class="m" x="348.65" y="732.16" width="3.8" height="3.8"/>
<line x1="227.8" y1="674.65" x2="227.8" y2="760.2"/>
<line x1="227.4" y1="759.8" x2="353.5" y2="759.8"/>
<line x1="223.8" y1="759.8" x2="227.8" y2="759.8"/>
<text class="t" x="223.3" y="761.96" font-size="6" text-anchor="end">0</text>
<line x1="223.8" y1="746.7" x2="227.8" y2="746.7"/>
<text class="t" x="223.3" y="748.86" font-size="6" text-anchor="end">20</text>
<line x1="223.8" y1="733.6" x2="227.8" y2="733.6"/>
<text class="t" x="223.3" y="735.76" font-size="6" text-anchor="end">40</text>
<line x1="223.8" y1="720.5" x2="227.8" y2="720.5"/>
<text class="t" x="223.3" y="722.66" font-size="6" text-anchor="end">60</text>
<line x1="223.8" y1="707.4" x2="227.8" y2="707.4"/>
<text class="t" x="223.3" y="709.56" font-size="6" text-anchor="end">80</text>
<line x1="223.8" y1="694.3" x2="227.8" y2="694.3"/>
<text class="t" x="223.3" y="696.46" font-size="6" text-anchor="end">100</text>
<line x1="223.8" y1="681.2" x2="227.8" y2="681.2"/>
<text class="t" x="223.3" y="683.36" font-size="6" text-anchor="end">120</text>
<line x1="227.8" y1="759.8" x2="227.8" y2="762"/>
<text class="t" x="227.8" y="769.4" font-size="6" text-anchor="middle">−1</text>
<line x1="235.19" y1="759.8" x2="235.19" y2="761.01" stroke-width="0.56"/>
<line x1="239.51" y1="759.8" x2="239.51" y2="761.01" stroke-width="0.56"/>
<line x1="242.58" y1="759.8" x2="242.58" y2="761.01" stroke-width="0.56"/>
<line x1="244.96" y1="759.8" x2="244.96" y2="761.01" stroke-width="0.56"/>
<line x1="246.9" y1="759.8" x2="246.9" y2="761.01" stroke-width="0.56"/>
<line x1="248.55" y1="759.8" x2="248.55" y2="761.01" stroke-width="0.56"/>
<line x1="249.97" y1="759.8" x2="249.97" y2="761.01" stroke-width="0.56"/>
<line x1="251.23" y1="759.8" x2="251.23" y2="761.01" stroke-width="0.56"/>
<line x1="252.35" y1="759.8" x2="252.35" y2="762"/>
<text class="t" x="252.35" y="769.4" font-size="6" text-anchor="middle">0</text>
<line x1="259.74" y1="759.8" x2="259.74" y2="761.01" stroke-width="0.56"/>
<line x1="264.06" y1="759.8" x2="264.06" y2="761.01" stroke-width="0.56"/>
<line x1="267.13" y1="759.8" x2="267.13" y2="761.01" stroke-width="0.56"/>
<line x1="269.51" y1="759.8" x2="269.51" y2="761.01" stroke-width="0.56"/>
<line x1="271.45" y1="759.8" x2="271.45" y2="761.01" stroke-width="0.56"/>
<line x1="273.1" y1="759.8" x2="273.1" y2="761.01" stroke-width="0.56"/>
<line x1="274.52" y1="759.8" x2="274.52" y2="761.01" stroke-width="0.56"/>
<line x1="275.78" y1="759.8" x2="275.78" y2="761.01" stroke-width="0.56"/>
<line x1="276.9" y1="759.8" x2="276.9" y2="762"/>
<text class="t" x="276.9" y="769.4" font-size="6" text-anchor="middle">1</text>
<line x1="284.29" y1="759.8" x2="284.29" y2="761.01" stroke-width="0.56"/>
<line x1="288.61" y1="759.8" x2="288.61" y2="761.01" stroke-width="0.56"/>
<line x1="291.68" y1="759.8" x2="291.68" y2="761.01" stroke-width="0.56"/>
<line x1="294.06" y1="759.8" x2="294.06" y2="761.01" stroke-width="0.56"/>
<line x1="296" y1="759.8" x2="296" y2="761.01" stroke-width="0.56"/>
<line x1="297.65" y1="759.8" x2="297.65" y2="761.01" stroke-width="0.56"/>
<line x1="299.07" y1="759.8" x2="299.07" y2="761.01" stroke-width="0.56"/>
<line x1="300.33" y1="759.8" x2="300.33" y2="761.01" stroke-width="0.56"/>
<line x1="301.45" y1="759.8" x2="301.45" y2="762"/>
<text class="t" x="301.45" y="769.4" font-size="6" text-anchor="middle">2</text>
<line x1="308.84" y1="759.8" x2="308.84" y2="761.01" stroke-width="0.56"/>
<line x1="313.16" y1="759.8" x2="313.16" y2="761.01" stroke-width="0.56"/>
<line x1="316.23" y1="759.8" x2="316.23" y2="761.01" stroke-width="0.56"/>
<line x1="318.61" y1="759.8" x2="318.61" y2="761.01" stroke-width="0.56"/>
<line x1="320.55" y1="759.8" x2="320.55" y2="761.01" stroke-width="0.56"/>
<line x1="322.2" y1="759.8" x2="322.2" y2="761.01" stroke-width="0.56"/>
<line x1="323.62" y1="759.8" x2="323.62" y2="761.01" stroke-width="0.56"/>
<line x1="324.88" y1="759.8" x2="324.88" y2="761.01" stroke-width="0.56"/>
<line x1="326" y1="759.8" x2="326" y2="762"/>
<text class="t" x="326" y="769.4" font-size="6" text-anchor="middle">3</text>
<line x1="333.39" y1="759.8" x2="333.39" y2="761.01" stroke-width="0.56"/>
<line x1="337.71" y1="759.8" x2="337.71" y2="761.01" stroke-width="0.56"/>
<line x1="340.78" y1="759.8" x2="340.78" y2="761.01" stroke-width="0.56"/>
<line x1="343.16" y1="759.8" x2="343.16" y2="761.01" stroke-width="0.56"/>
<line x1="345.1" y1="759.8" x2="345.1" y2="761.01" stroke-width="0.56"/>
<line x1="346.75" y1="759.8" x2="346.75" y2="761.01" stroke-width="0.56"/>
<line x1="348.17" y1="759.8" x2="348.17" y2="761.01" stroke-width="0.56"/>
<line x1="349.43" y1="759.8" x2="349.43" y2="761.01" stroke-width="0.56"/>
<line x1="350.55" y1="759.8" x2="350.55" y2="762"/>
<text class="t" x="350.55" y="769.4" font-size="6" text-anchor="middle">4</text>
<text class="t" x="207.4" y="719.5" font-size="8.5" text-anchor="middle" transform="rotate(-90 207.4 719.5)">Cell viability (%)</text>
<text class="t" x="291.6" y="780.5" font-size="6.8" text-anchor="middle">Log (RBN-2397; nmol/L)</text>
<line x1="233.6" y1="739.1" x2="242.6" y2="739.1" stroke-width="0.7"/>
<circle class="m" cx="238.1" cy="739.1" r="2"/>
<text class="t" x="245.8" y="741.48" font-size="6.7">siNC</text>
<line x1="233.6" y1="750.9" x2="242.6" y2="750.9" stroke-width="0.7"/>
<rect class="m" x="236.2" y="749" width="3.8" height="3.8"/>
<text class="t" x="245.8" y="753.28" font-size="6.7">siMED12</text>
</g>
<g>
<line x1="390.7" y1="726.2" x2="515.63" y2="726.2" stroke="#8a8a8a" stroke-width="0.5"/>
<path class="c" d="M395.58 689.13L398.58 689.26L401.59 689.42L404.59 689.61L407.59 689.85L410.6 690.14L413.6 690.5L416.6 690.93L419.6 691.47L422.61 692.11L425.61 692.89L428.61 693.83L431.62 694.95L434.62 696.27L437.62 697.81L440.63 699.6L443.63 701.65L446.63 703.95L449.64 706.5L452.64 709.27L455.64 712.22L458.64 715.29L461.65 718.42L464.65 721.53L467.65 724.55L470.66 727.44L473.66 730.12L476.66 732.57L479.67 734.77L482.67 736.71L485.67 738.4L488.68 739.85L491.68 741.08L494.68 742.12L497.68 742.99L500.69 743.72L503.69 744.31L506.69 744.8L509.7 745.21L512.7 745.54"/>
<path class="c" d="M395.58 687.49L398.58 687.64L401.59 687.8L404.59 687.96L407.59 688.13L410.6 688.32L413.6 688.54L416.6 688.78L419.6 689.05L422.61 689.37L425.61 689.74L428.61 690.16L431.62 690.63L434.62 691.14L437.62 691.7L440.63 692.29L443.63 692.91L446.63 693.59L449.64 694.32L452.64 695.13L455.64 696.01L458.64 696.98L461.65 698.04L464.65 699.19L467.65 700.44L470.66 701.79L473.66 703.24L476.66 704.84L479.67 706.6L482.67 708.55L485.67 710.7L488.68 713.1L491.68 715.77L494.68 718.75L497.68 722.06L500.69 725.74L503.69 729.72L506.69 733.93L509.7 738.29L512.7 742.73"/>
<line x1="395.58" y1="696.63" x2="395.58" y2="685.88" stroke-width="0.7"/>
<line x1="393.88" y1="685.88" x2="397.28" y2="685.88" stroke-width="0.7"/>
<line x1="393.88" y1="696.63" x2="397.28" y2="696.63" stroke-width="0.7"/>
<line x1="410.22" y1="695.96" x2="410.22" y2="678.49" stroke-width="0.7"/>
<line x1="408.52" y1="678.49" x2="411.92" y2="678.49" stroke-width="0.7"/>
<line x1="408.52" y1="695.96" x2="411.92" y2="695.96" stroke-width="0.7"/>
<line x1="424.86" y1="701.34" x2="424.86" y2="683.86" stroke-width="0.7"/>
<line x1="423.16" y1="683.86" x2="426.56" y2="683.86" stroke-width="0.7"/>
<line x1="423.16" y1="701.34" x2="426.56" y2="701.34" stroke-width="0.7"/>
<line x1="439.5" y1="710.07" x2="439.5" y2="691.26" stroke-width="0.7"/>
<line x1="437.8" y1="691.26" x2="441.2" y2="691.26" stroke-width="0.7"/>
<line x1="437.8" y1="710.07" x2="441.2" y2="710.07" stroke-width="0.7"/>
<line x1="468.78" y1="730.9" x2="468.78" y2="720.15" stroke-width="0.7"/>
<line x1="467.08" y1="720.15" x2="470.48" y2="720.15" stroke-width="0.7"/>
<line x1="467.08" y1="730.9" x2="470.48" y2="730.9" stroke-width="0.7"/>
<line x1="483.42" y1="746.36" x2="483.42" y2="732.92" stroke-width="0.7"/>
<line x1="481.72" y1="732.92" x2="485.12" y2="732.92" stroke-width="0.7"/>
<line x1="481.72" y1="746.36" x2="485.12" y2="746.36" stroke-width="0.7"/>
<line x1="498.06" y1="744.34" x2="498.06" y2="733.59" stroke-width="0.7"/>
<line x1="496.36" y1="733.59" x2="499.76" y2="733.59" stroke-width="0.7"/>
<line x1="496.36" y1="744.34" x2="499.76" y2="744.34" stroke-width="0.7"/>
<circle class="m" cx="395.58" cy="691.26" r="2"/>
<circle class="m" cx="410.22" cy="687.22" r="2"/>
<circle class="m" cx="424.86" cy="692.6" r="2"/>
<circle class="m" cx="439.5" cy="700.66" r="2"/>
<circle class="m" cx="454.14" cy="709.4" r="2"/>
<circle class="m" cx="468.78" cy="725.53" r="2"/>
<circle class="m" cx="483.42" cy="739.64" r="2"/>
<circle class="m" cx="498.06" cy="738.97" r="2"/>
<circle class="m" cx="512.7" cy="747.7" r="2"/>
<line x1="395.58" y1="690.05" x2="395.58" y2="683.33" stroke-width="0.7"/>
<line x1="393.88" y1="683.33" x2="397.28" y2="683.33" stroke-width="0.7"/>
<line x1="393.88" y1="690.05" x2="397.28" y2="690.05" stroke-width="0.7"/>
<line x1="410.22" y1="697.71" x2="410.22" y2="678.89" stroke-width="0.7"/>
<line x1="408.52" y1="678.89" x2="411.92" y2="678.89" stroke-width="0.7"/>
<line x1="408.52" y1="697.71" x2="411.92" y2="697.71" stroke-width="0.7"/>
<line x1="424.86" y1="700.93" x2="424.86" y2="679.43" stroke-width="0.7"/>
<line x1="423.16" y1="679.43" x2="426.56" y2="679.43" stroke-width="0.7"/>
<line x1="423.16" y1="700.93" x2="426.56" y2="700.93" stroke-width="0.7"/>
<line x1="439.5" y1="699.45" x2="439.5" y2="679.29" stroke-width="0.7"/>
<line x1="437.8" y1="679.29" x2="441.2" y2="679.29" stroke-width="0.7"/>
<line x1="437.8" y1="699.45" x2="441.2" y2="699.45" stroke-width="0.7"/>
<line x1="454.14" y1="697.57" x2="454.14" y2="693.54" stroke-width="0.7"/>
<line x1="452.44" y1="693.54" x2="455.84" y2="693.54" stroke-width="0.7"/>
<line x1="452.44" y1="697.57" x2="455.84" y2="697.57" stroke-width="0.7"/>
<line x1="483.42" y1="710.34" x2="483.42" y2="702.28" stroke-width="0.7"/>
<line x1="481.72" y1="702.28" x2="485.12" y2="702.28" stroke-width="0.7"/>
<line x1="481.72" y1="710.34" x2="485.12" y2="710.34" stroke-width="0.7"/>
<line x1="498.06" y1="725.33" x2="498.06" y2="718.61" stroke-width="0.7"/>
<line x1="496.36" y1="718.61" x2="499.76" y2="718.61" stroke-width="0.7"/>
<line x1="496.36" y1="725.33" x2="499.76" y2="725.33" stroke-width="0.7"/>
<line x1="512.7" y1="745.89" x2="512.7" y2="740.51" stroke-width="0.7"/>
<line x1="511" y1="740.51" x2="514.4" y2="740.51" stroke-width="0.7"/>
<line x1="511" y1="745.89" x2="514.4" y2="745.89" stroke-width="0.7"/>
<rect class="m" x="393.68" y="684.79" width="3.8" height="3.8"/>
<rect class="m" x="408.32" y="686.4" width="3.8" height="3.8"/>
<rect class="m" x="422.96" y="688.28" width="3.8" height="3.8"/>
<rect class="m" x="437.6" y="687.47" width="3.8" height="3.8"/>
<rect class="m" x="452.24" y="693.66" width="3.8" height="3.8"/>
<rect class="m" x="466.88" y="703.6" width="3.8" height="3.8"/>
<rect class="m" x="481.52" y="704.41" width="3.8" height="3.8"/>
<rect class="m" x="496.16" y="720.07" width="3.8" height="3.8"/>
<rect class="m" x="510.8" y="741.3" width="3.8" height="3.8"/>
<line x1="390.7" y1="674.79" x2="390.7" y2="760.2"/>
<line x1="390.3" y1="759.8" x2="515.63" y2="759.8"/>
<line x1="386.7" y1="759.8" x2="390.7" y2="759.8"/>
<text class="t" x="386.2" y="761.96" font-size="6" text-anchor="end">0</text>
<line x1="386.7" y1="746.36" x2="390.7" y2="746.36"/>
<text class="t" x="386.2" y="748.52" font-size="6" text-anchor="end">20</text>
<line x1="386.7" y1="732.92" x2="390.7" y2="732.92"/>
<text class="t" x="386.2" y="735.08" font-size="6" text-anchor="end">40</text>
<line x1="386.7" y1="719.48" x2="390.7" y2="719.48"/>
<text class="t" x="386.2" y="721.64" font-size="6" text-anchor="end">60</text>
<line x1="386.7" y1="706.04" x2="390.7" y2="706.04"/>
<text class="t" x="386.2" y="708.2" font-size="6" text-anchor="end">80</text>
<line x1="386.7" y1="692.6" x2="390.7" y2="692.6"/>
<text class="t" x="386.2" y="694.76" font-size="6" text-anchor="end">100</text>
<line x1="386.7" y1="679.16" x2="390.7" y2="679.16"/>
<text class="t" x="386.2" y="681.32" font-size="6" text-anchor="end">120</text>
<line x1="390.7" y1="759.8" x2="390.7" y2="762"/>
<text class="t" x="390.7" y="769.4" font-size="6" text-anchor="middle">−1</text>
<line x1="398.05" y1="759.8" x2="398.05" y2="761.01" stroke-width="0.56"/>
<line x1="402.34" y1="759.8" x2="402.34" y2="761.01" stroke-width="0.56"/>
<line x1="405.39" y1="759.8" x2="405.39" y2="761.01" stroke-width="0.56"/>
<line x1="407.75" y1="759.8" x2="407.75" y2="761.01" stroke-width="0.56"/>
<line x1="409.69" y1="759.8" x2="409.69" y2="761.01" stroke-width="0.56"/>
<line x1="411.32" y1="759.8" x2="411.32" y2="761.01" stroke-width="0.56"/>
<line x1="412.74" y1="759.8" x2="412.74" y2="761.01" stroke-width="0.56"/>
<line x1="413.98" y1="759.8" x2="413.98" y2="761.01" stroke-width="0.56"/>
<line x1="415.1" y1="759.8" x2="415.1" y2="762"/>
<text class="t" x="415.1" y="769.4" font-size="6" text-anchor="middle">0</text>
<line x1="422.45" y1="759.8" x2="422.45" y2="761.01" stroke-width="0.56"/>
<line x1="426.74" y1="759.8" x2="426.74" y2="761.01" stroke-width="0.56"/>
<line x1="429.79" y1="759.8" x2="429.79" y2="761.01" stroke-width="0.56"/>
<line x1="432.15" y1="759.8" x2="432.15" y2="761.01" stroke-width="0.56"/>
<line x1="434.09" y1="759.8" x2="434.09" y2="761.01" stroke-width="0.56"/>
<line x1="435.72" y1="759.8" x2="435.72" y2="761.01" stroke-width="0.56"/>
<line x1="437.14" y1="759.8" x2="437.14" y2="761.01" stroke-width="0.56"/>
<line x1="438.38" y1="759.8" x2="438.38" y2="761.01" stroke-width="0.56"/>
<line x1="439.5" y1="759.8" x2="439.5" y2="762"/>
<text class="t" x="439.5" y="769.4" font-size="6" text-anchor="middle">1</text>
<line x1="446.85" y1="759.8" x2="446.85" y2="761.01" stroke-width="0.56"/>
<line x1="451.14" y1="759.8" x2="451.14" y2="761.01" stroke-width="0.56"/>
<line x1="454.19" y1="759.8" x2="454.19" y2="761.01" stroke-width="0.56"/>
<line x1="456.55" y1="759.8" x2="456.55" y2="761.01" stroke-width="0.56"/>
<line x1="458.49" y1="759.8" x2="458.49" y2="761.01" stroke-width="0.56"/>
<line x1="460.12" y1="759.8" x2="460.12" y2="761.01" stroke-width="0.56"/>
<line x1="461.54" y1="759.8" x2="461.54" y2="761.01" stroke-width="0.56"/>
<line x1="462.78" y1="759.8" x2="462.78" y2="761.01" stroke-width="0.56"/>
<line x1="463.9" y1="759.8" x2="463.9" y2="762"/>
<text class="t" x="463.9" y="769.4" font-size="6" text-anchor="middle">2</text>
<line x1="471.25" y1="759.8" x2="471.25" y2="761.01" stroke-width="0.56"/>
<line x1="475.54" y1="759.8" x2="475.54" y2="761.01" stroke-width="0.56"/>
<line x1="478.59" y1="759.8" x2="478.59" y2="761.01" stroke-width="0.56"/>
<line x1="480.95" y1="759.8" x2="480.95" y2="761.01" stroke-width="0.56"/>
<line x1="482.89" y1="759.8" x2="482.89" y2="761.01" stroke-width="0.56"/>
<line x1="484.52" y1="759.8" x2="484.52" y2="761.01" stroke-width="0.56"/>
<line x1="485.94" y1="759.8" x2="485.94" y2="761.01" stroke-width="0.56"/>
<line x1="487.18" y1="759.8" x2="487.18" y2="761.01" stroke-width="0.56"/>
<line x1="488.3" y1="759.8" x2="488.3" y2="762"/>
<text class="t" x="488.3" y="769.4" font-size="6" text-anchor="middle">3</text>
<line x1="495.65" y1="759.8" x2="495.65" y2="761.01" stroke-width="0.56"/>
<line x1="499.94" y1="759.8" x2="499.94" y2="761.01" stroke-width="0.56"/>
<line x1="502.99" y1="759.8" x2="502.99" y2="761.01" stroke-width="0.56"/>
<line x1="505.35" y1="759.8" x2="505.35" y2="761.01" stroke-width="0.56"/>
<line x1="507.29" y1="759.8" x2="507.29" y2="761.01" stroke-width="0.56"/>
<line x1="508.92" y1="759.8" x2="508.92" y2="761.01" stroke-width="0.56"/>
<line x1="510.34" y1="759.8" x2="510.34" y2="761.01" stroke-width="0.56"/>
<line x1="511.58" y1="759.8" x2="511.58" y2="761.01" stroke-width="0.56"/>
<line x1="512.7" y1="759.8" x2="512.7" y2="762"/>
<text class="t" x="512.7" y="769.4" font-size="6" text-anchor="middle">4</text>
<text class="t" x="370.3" y="718.48" font-size="8.5" text-anchor="middle" transform="rotate(-90 370.3 718.48)">Cell viability (%)</text>
<text class="t" x="455" y="780.5" font-size="6.8" text-anchor="middle">Log (RBN-2397; nmol/L)</text>
<line x1="402.5" y1="737.1" x2="411.5" y2="737.1" stroke-width="0.7"/>
<circle class="m" cx="407" cy="737.1" r="2"/>
<text class="t" x="414.2" y="739.48" font-size="6.7">siNC</text>
<line x1="402.5" y1="749.1" x2="411.5" y2="749.1" stroke-width="0.7"/>
<rect class="m" x="405.1" y="747.2" width="3.8" height="3.8"/>
<text class="t" x="414.2" y="751.48" font-size="6.7">siNIPBL</text>
</g>
<text class="t" x="103.1" y="21.2" font-size="10.2" text-anchor="middle">NCI-H1373</text>
<line x1="63.1" y1="25" x2="143.1" y2="25" stroke-width="1.1"/>
<text class="t" x="69.85" y="69.6" font-size="9.8" transform="rotate(-90 69.85 69.6)">siNC</text>
<text class="t" x="86.65" y="69.6" font-size="9.8" transform="rotate(-90 86.65 69.6)">siAHR</text>
<text class="t" x="104.95" y="69.6" font-size="9.8" transform="rotate(-90 104.95 69.6)">siNIPBL</text>
<text class="t" x="121.65" y="69.6" font-size="9.8" transform="rotate(-90 121.65 69.6)">siMAU2</text>
<text class="t" x="139.05" y="69.6" font-size="9.8" transform="rotate(-90 139.05 69.6)">siMED12</text>
<clipPath id="clip1997"><rect x="57.5" y="72.4" width="89.8" height="24.6"/></clipPath>
<rect class="m" x="57.5" y="72.4" width="89.8" height="24.6" fill="#ececec"/>
<g clip-path="url(#clip1997)" filter="url(#b1)" fill="#000" stroke="none">
<rect x="58.95" y="76.16" width="15.5" height="18.88" rx="7.75" fill-opacity="0.05"/>
<rect x="76.35" y="76.16" width="15.5" height="18.88" rx="7.75" fill-opacity="0.05"/>
<rect x="94.05" y="76.16" width="15.5" height="18.88" rx="7.75" fill-opacity="0.05"/>
<rect x="111.65" y="76.16" width="15.5" height="18.88" rx="7.75" fill-opacity="0.05"/>
<rect x="129.25" y="76.16" width="15.5" height="18.88" rx="7.75" fill-opacity="0.05"/>
<rect x="59.65" y="82.2" width="14.1" height="6.81" rx="3.4"/>
<rect x="79.85" y="84.22" width="8.5" height="2.76" rx="1.38" fill-opacity="0.1"/>
<rect x="95.05" y="82.56" width="13.5" height="6.07" rx="3.04" fill-opacity="0.95"/>
<rect x="112.4" y="82.1" width="14" height="6.99" rx="3.5"/>
<rect x="130" y="82.01" width="14" height="7.18" rx="3.59"/>
</g>
<rect class="c" x="57.5" y="72.4" width="89.8" height="24.6" stroke-width="1.2"/>
<text class="t" x="54.5" y="89.6" font-size="10" text-anchor="end">AHR</text>
<clipPath id="clip2013"><rect x="57.5" y="101.5" width="89.8" height="24.2"/></clipPath>
<rect class="m" x="57.5" y="101.5" width="89.8" height="24.2" fill="#e4e4e4"/>
<g clip-path="url(#clip2013)" filter="url(#b1)" fill="#000" stroke="none">
<rect x="58.45" y="104.52" width="16.5" height="18.56" rx="8.25" fill-opacity="0.08"/>
<rect x="75.85" y="104.52" width="16.5" height="18.56" rx="8.25" fill-opacity="0.08"/>
<rect x="93.55" y="104.52" width="16.5" height="18.56" rx="8.25" fill-opacity="0.08"/>
<rect x="111.15" y="104.52" width="16.5" height="18.56" rx="8.25" fill-opacity="0.08"/>
<rect x="128.75" y="104.52" width="16.5" height="18.56" rx="8.25" fill-opacity="0.08"/>
<rect x="59.2" y="109.89" width="15" height="7.82" rx="3.91"/>
<rect x="76.85" y="110.03" width="14.5" height="7.54" rx="3.77"/>
<rect x="94.65" y="110.12" width="14.3" height="7.36" rx="3.68"/>
<rect x="112.25" y="110.03" width="14.3" height="7.54" rx="3.77"/>
<rect x="129.65" y="109.57" width="14.7" height="8.46" rx="4.23"/>
</g>
<rect class="c" x="57.5" y="101.5" width="89.8" height="24.2" stroke-width="1.2"/>
<text class="t" x="54.5" y="117.6" font-size="10" text-anchor="end">β-Actin</text>
<clipPath id="clip2029"><rect x="57.5" y="134.6" width="89.8" height="24.6"/></clipPath>
<rect class="m" x="57.5" y="134.6" width="89.8" height="24.6" fill="#dcdcdc"/>
<g clip-path="url(#clip2029)" filter="url(#b1)" fill="#000" stroke="none">
<rect x="59.7" y="134.26" width="14" height="21.34" rx="7" fill-opacity="0.07"/>
<rect x="77.1" y="134.26" width="14" height="21.34" rx="7" fill-opacity="0.07"/>
<rect x="94.8" y="134.26" width="14" height="21.34" rx="7" fill-opacity="0.07"/>
<rect x="112.4" y="134.26" width="14" height="21.34" rx="7" fill-opacity="0.07"/>
<rect x="130" y="134.26" width="14" height="21.34" rx="7" fill-opacity="0.07"/>
<rect x="60.3" y="150" width="12.8" height="4.6" rx="2.3" fill-opacity="0.95"/>
<rect x="77.45" y="149.72" width="13.3" height="5.15" rx="2.58"/>
<rect x="95.8" y="151.84" width="12" height="3.31" rx="1.66" fill-opacity="0.35"/>
<rect x="113.4" y="150.94" width="12" height="3.31" rx="1.66" fill-opacity="0.45"/>
<rect x="130.5" y="147.79" width="13" height="4.42" rx="2.21" fill-opacity="0.95"/>
</g>
<rect class="c" x="57.5" y="134.6" width="89.8" height="24.6" stroke-width="1.2"/>
<text class="t" x="54.5" y="150.6" font-size="10" text-anchor="end">MAU2</text>
<clipPath id="clip2045"><rect x="57.5" y="163.5" width="89.8" height="24"/></clipPath>
<rect class="m" x="57.5" y="163.5" width="89.8" height="24" fill="#e6e6e6"/>
<g clip-path="url(#clip2045)" filter="url(#b1)" fill="#000" stroke="none">
<rect x="60.2" y="175.18" width="13" height="11.2" rx="5.6" fill-opacity="0.16"/>
<rect x="77.6" y="175.18" width="13" height="11.2" rx="5.6" fill-opacity="0.14"/>
<rect x="95.3" y="175.18" width="13" height="11.2" rx="5.6" fill-opacity="0.1"/>
<rect x="112.9" y="175.18" width="13" height="11.2" rx="5.6" fill-opacity="0.1"/>
<rect x="130.5" y="175.18" width="13" height="11.2" rx="5.6" fill-opacity="0.03"/>
<rect x="60.35" y="173.18" width="12.7" height="4.23" rx="2.12"/>
<rect x="77.85" y="173.18" width="12.5" height="4.23" rx="2.12"/>
<rect x="95.8" y="172.26" width="12" height="3.68" rx="1.84"/>
<rect x="113.4" y="173.37" width="12" height="3.86" rx="1.93"/>
<rect x="132.25" y="173.12" width="9.5" height="2.76" rx="1.38" fill-opacity="0.3"/>
</g>
<rect class="c" x="57.5" y="163.5" width="89.8" height="24" stroke-width="1.2"/>
<text class="t" x="54.5" y="178.8" font-size="10" text-anchor="end">MED12</text>
<clipPath id="clip2061"><rect x="57.5" y="191.7" width="89.8" height="24.6"/></clipPath>
<rect class="m" x="57.5" y="191.7" width="89.8" height="24.6" fill="#e2e2e2"/>
<g clip-path="url(#clip2061)" filter="url(#b1)" fill="#000" stroke="none">
<rect x="58.45" y="195.16" width="16.5" height="18.88" rx="8.25" fill-opacity="0.08"/>
<rect x="75.85" y="195.16" width="16.5" height="18.88" rx="8.25" fill-opacity="0.08"/>
<rect x="93.55" y="195.16" width="16.5" height="18.88" rx="8.25" fill-opacity="0.08"/>
<rect x="111.15" y="195.16" width="16.5" height="18.88" rx="8.25" fill-opacity="0.08"/>
<rect x="128.75" y="195.16" width="16.5" height="18.88" rx="8.25" fill-opacity="0.08"/>
<rect x="60.2" y="201.75" width="13" height="5.7" rx="2.85" fill-opacity="0.85"/>
<rect x="76.45" y="200.64" width="15.3" height="7.91" rx="3.96"/>
<rect x="94.45" y="200.83" width="14.7" height="7.54" rx="3.77"/>
<rect x="112.25" y="201.1" width="14.3" height="6.99" rx="3.5"/>
<rect x="130.15" y="201.29" width="13.7" height="6.62" rx="3.31"/>
</g>
<rect class="c" x="57.5" y="191.7" width="89.8" height="24.6" stroke-width="1.2"/>
<text class="t" x="54.5" y="207.1" font-size="10" text-anchor="end">β-Actin</text>
<text class="t" x="101.4" y="571.9" font-size="10.2" text-anchor="middle">MDA-MB-468</text>
<line x1="61.6" y1="576.1" x2="141" y2="576.1" stroke-width="1.1"/>
<text class="t" x="69.75" y="620.7" font-size="9.8" transform="rotate(-90 69.75 620.7)">siNC</text>
<text class="t" x="86.25" y="620.7" font-size="9.8" transform="rotate(-90 86.25 620.7)">siAHR</text>
<text class="t" x="104.55" y="620.7" font-size="9.8" transform="rotate(-90 104.55 620.7)">siNIPBL</text>
<text class="t" x="121.05" y="620.7" font-size="9.8" transform="rotate(-90 121.05 620.7)">siMAU2</text>
<text class="t" x="138.35" y="620.7" font-size="9.8" transform="rotate(-90 138.35 620.7)">siMED12</text>
<clipPath id="clip2084"><rect x="57.4" y="624.6" width="90.2" height="24.6"/></clipPath>
<rect class="m" x="57.4" y="624.6" width="90.2" height="24.6" fill="#ededed"/>
<g clip-path="url(#clip2084)" filter="url(#b1)" fill="#000" stroke="none">
<rect x="58.75" y="629.06" width="15.5" height="18.88" rx="7.75" fill-opacity="0.05"/>
<rect x="76.15" y="629.06" width="15.5" height="18.88" rx="7.75" fill-opacity="0.05"/>
<rect x="93.95" y="629.06" width="15.5" height="18.88" rx="7.75" fill-opacity="0.05"/>
<rect x="111.75" y="629.06" width="15.5" height="18.88" rx="7.75" fill-opacity="0.05"/>
<rect x="129.05" y="629.06" width="15.5" height="18.88" rx="7.75" fill-opacity="0.05"/>
<rect x="60.45" y="635.37" width="12.7" height="6.26" rx="3.13"/>
<rect x="80.65" y="637.12" width="8.5" height="2.76" rx="1.38" fill-opacity="0.1"/>
<rect x="95.8" y="635.65" width="13" height="5.7" rx="2.85" fill-opacity="0.95"/>
<rect x="114.95" y="635.28" width="13.5" height="6.44" rx="3.22"/>
<rect x="132.05" y="635.37" width="13.1" height="6.26" rx="3.13"/>
</g>
<rect class="c" x="57.4" y="624.6" width="90.2" height="24.6" stroke-width="1.2"/>
<text class="t" x="54" y="640" font-size="10" text-anchor="end">AHR</text>
<clipPath id="clip2100"><rect x="57.4" y="653.5" width="90.2" height="24"/></clipPath>
<rect class="m" x="57.4" y="653.5" width="90.2" height="24" fill="#e4e4e4"/>
<g clip-path="url(#clip2100)" filter="url(#b1)" fill="#000" stroke="none">
<rect x="58.25" y="657.8" width="16.5" height="18.4" rx="8.25" fill-opacity="0.08"/>
<rect x="75.65" y="657.8" width="16.5" height="18.4" rx="8.25" fill-opacity="0.08"/>
<rect x="93.45" y="657.8" width="16.5" height="18.4" rx="8.25" fill-opacity="0.08"/>
<rect x="111.25" y="657.8" width="16.5" height="18.4" rx="8.25" fill-opacity="0.08"/>
<rect x="128.55" y="657.8" width="16.5" height="18.4" rx="8.25" fill-opacity="0.08"/>
<rect x="57.95" y="662" width="17.1" height="10" rx="5"/>
<rect x="75.5" y="662.1" width="16.8" height="9.8" rx="4.9"/>
<rect x="93.45" y="662.3" width="16.5" height="9.4" rx="4.7"/>
<rect x="111.25" y="662.49" width="16.5" height="9.02" rx="4.51" fill-opacity="0.97"/>
<rect x="128.8" y="662.58" width="16" height="8.83" rx="4.42"/>
</g>
<rect class="c" x="57.4" y="653.5" width="90.2" height="24" stroke-width="1.2"/>
<text class="t" x="54" y="670.4" font-size="10" text-anchor="end">β-Actin</text>
<clipPath id="clip2116"><rect x="57.4" y="687" width="90.2" height="24.4"/></clipPath>
<rect class="m" x="57.4" y="687" width="90.2" height="24.4" fill="#dedede"/>
<g clip-path="url(#clip2116)" filter="url(#b1)" fill="#000" stroke="none">
<rect x="59.5" y="686.67" width="14" height="21.16" rx="7" fill-opacity="0.07"/>
<rect x="76.9" y="686.67" width="14" height="21.16" rx="7" fill-opacity="0.07"/>
<rect x="94.7" y="686.67" width="14" height="21.16" rx="7" fill-opacity="0.07"/>
<rect x="112.5" y="686.67" width="14" height="21.16" rx="7" fill-opacity="0.07"/>
<rect x="129.8" y="686.67" width="14" height="21.16" rx="7" fill-opacity="0.07"/>
<rect x="60.25" y="701.08" width="12.5" height="4.23" rx="2.12" fill-opacity="0.95"/>
<rect x="77.4" y="700.81" width="13" height="4.78" rx="2.39"/>
<rect x="95.8" y="702.13" width="11.8" height="2.94" rx="1.47" fill-opacity="0.35"/>
<rect x="113.6" y="701.53" width="11.8" height="2.94" rx="1.47" fill-opacity="0.45"/>
<rect x="130.55" y="699.98" width="12.5" height="4.05" rx="2.02" fill-opacity="0.95"/>
</g>
<rect class="c" x="57.4" y="687" width="90.2" height="24.4" stroke-width="1.2"/>
<text class="t" x="54" y="701.9" font-size="10" text-anchor="end">MAU2</text>
<clipPath id="clip2132"><rect x="57.4" y="715.3" width="90.2" height="24.5"/></clipPath>
<rect class="m" x="57.4" y="715.3" width="90.2" height="24.5" fill="#e6e6e6"/>
<g clip-path="url(#clip2132)" filter="url(#b1)" fill="#000" stroke="none">
<rect x="60" y="727.21" width="13" height="11.45" rx="5.72" fill-opacity="0.16"/>
<rect x="77.4" y="727.21" width="13" height="11.45" rx="5.72" fill-opacity="0.14"/>
<rect x="95.2" y="727.21" width="13" height="11.45" rx="5.72" fill-opacity="0.1"/>
<rect x="113" y="727.21" width="13" height="11.45" rx="5.72" fill-opacity="0.1"/>
<rect x="130.3" y="727.21" width="13" height="11.45" rx="5.72" fill-opacity="0.03"/>
<rect x="59.9" y="727.12" width="13.2" height="4.97" rx="2.48"/>
<rect x="77.75" y="728.28" width="12.3" height="4.23" rx="2.12"/>
<rect x="95.75" y="728.07" width="11.9" height="3.86" rx="1.93"/>
<rect x="113.5" y="727.78" width="12" height="4.05" rx="2.02"/>
<rect x="132.3" y="728.42" width="9" height="2.76" rx="1.38" fill-opacity="0.28"/>
</g>
<rect class="c" x="57.4" y="715.3" width="90.2" height="24.5" stroke-width="1.2"/>
<text class="t" x="54" y="730.7" font-size="10" text-anchor="end">MED12</text>
<clipPath id="clip2148"><rect x="57.4" y="744.2" width="90.2" height="24.4"/></clipPath>
<rect class="m" x="57.4" y="744.2" width="90.2" height="24.4" fill="#e2e2e2"/>
<g clip-path="url(#clip2148)" filter="url(#b1)" fill="#000" stroke="none">
<rect x="58.25" y="746.74" width="16.5" height="18.72" rx="8.25" fill-opacity="0.08"/>
<rect x="75.65" y="746.74" width="16.5" height="18.72" rx="8.25" fill-opacity="0.08"/>
<rect x="93.45" y="746.74" width="16.5" height="18.72" rx="8.25" fill-opacity="0.08"/>
<rect x="111.25" y="746.74" width="16.5" height="18.72" rx="8.25" fill-opacity="0.08"/>
<rect x="128.55" y="746.74" width="16.5" height="18.72" rx="8.25" fill-opacity="0.08"/>
<rect x="59.45" y="752.97" width="14.1" height="6.26" rx="3.13" fill-opacity="0.95"/>
<rect x="76.65" y="752.79" width="14.5" height="6.62" rx="3.31"/>
<rect x="94.35" y="752.6" width="14.7" height="6.99" rx="3.5"/>
<rect x="112.25" y="752.79" width="14.5" height="6.62" rx="3.31"/>
<rect x="129.8" y="752.88" width="14" height="6.44" rx="3.22"/>
</g>
<rect class="c" x="57.4" y="744.2" width="90.2" height="24.4" stroke-width="1.2"/>
<text class="t" x="54" y="759" font-size="10" text-anchor="end">β-Actin</text>
</g>
</svg>
</body></html>
